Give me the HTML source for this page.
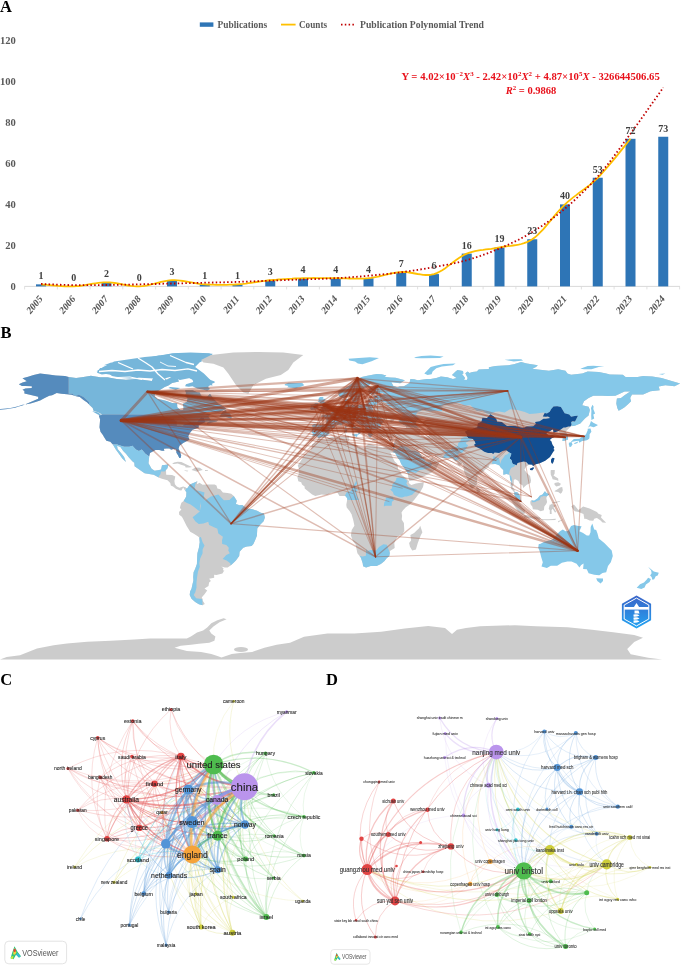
<!DOCTYPE html>
<html><head><meta charset="utf-8"><title>Figure</title>
<style>
html,body{margin:0;padding:0;background:#fff;}
body{width:685px;height:966px;overflow:hidden;}
svg{display:block;}
.ax{font-family:"Liberation Serif",serif;font-weight:bold;font-size:10px;fill:#595959;}
.dl{font-family:"Liberation Serif",serif;font-weight:bold;font-size:10px;fill:#404040;}
.lg{font-family:"Liberation Serif",serif;font-weight:bold;font-size:9.4px;fill:#595959;}
.eq{font-family:"Liberation Serif",serif;font-weight:bold;font-size:10px;fill:#e8101a;}
.pl{font-family:"Liberation Serif",serif;font-weight:bold;font-size:16.5px;fill:#000;}
.vl{font-family:"Liberation Sans",sans-serif;}
</style></head><body>
<svg width="685" height="966" viewBox="0 0 685 966">
<line x1="24.5" y1="286.4" x2="680" y2="286.4" stroke="#d9d9d9" stroke-width="1"/>
<line x1="24.6" y1="286.4" x2="24.6" y2="289.4" stroke="#d9d9d9" stroke-width="0.8"/>
<line x1="57.4" y1="286.4" x2="57.4" y2="289.4" stroke="#d9d9d9" stroke-width="0.8"/>
<line x1="90.1" y1="286.4" x2="90.1" y2="289.4" stroke="#d9d9d9" stroke-width="0.8"/>
<line x1="122.8" y1="286.4" x2="122.8" y2="289.4" stroke="#d9d9d9" stroke-width="0.8"/>
<line x1="155.6" y1="286.4" x2="155.6" y2="289.4" stroke="#d9d9d9" stroke-width="0.8"/>
<line x1="188.3" y1="286.4" x2="188.3" y2="289.4" stroke="#d9d9d9" stroke-width="0.8"/>
<line x1="221.1" y1="286.4" x2="221.1" y2="289.4" stroke="#d9d9d9" stroke-width="0.8"/>
<line x1="253.8" y1="286.4" x2="253.8" y2="289.4" stroke="#d9d9d9" stroke-width="0.8"/>
<line x1="286.6" y1="286.4" x2="286.6" y2="289.4" stroke="#d9d9d9" stroke-width="0.8"/>
<line x1="319.4" y1="286.4" x2="319.4" y2="289.4" stroke="#d9d9d9" stroke-width="0.8"/>
<line x1="352.1" y1="286.4" x2="352.1" y2="289.4" stroke="#d9d9d9" stroke-width="0.8"/>
<line x1="384.9" y1="286.4" x2="384.9" y2="289.4" stroke="#d9d9d9" stroke-width="0.8"/>
<line x1="417.6" y1="286.4" x2="417.6" y2="289.4" stroke="#d9d9d9" stroke-width="0.8"/>
<line x1="450.4" y1="286.4" x2="450.4" y2="289.4" stroke="#d9d9d9" stroke-width="0.8"/>
<line x1="483.1" y1="286.4" x2="483.1" y2="289.4" stroke="#d9d9d9" stroke-width="0.8"/>
<line x1="515.9" y1="286.4" x2="515.9" y2="289.4" stroke="#d9d9d9" stroke-width="0.8"/>
<line x1="548.6" y1="286.4" x2="548.6" y2="289.4" stroke="#d9d9d9" stroke-width="0.8"/>
<line x1="581.4" y1="286.4" x2="581.4" y2="289.4" stroke="#d9d9d9" stroke-width="0.8"/>
<line x1="614.1" y1="286.4" x2="614.1" y2="289.4" stroke="#d9d9d9" stroke-width="0.8"/>
<line x1="646.9" y1="286.4" x2="646.9" y2="289.4" stroke="#d9d9d9" stroke-width="0.8"/>
<line x1="679.6" y1="286.4" x2="679.6" y2="289.4" stroke="#d9d9d9" stroke-width="0.8"/>
<text x="15.8" y="290.0" text-anchor="end" class="ax" style="font-size:10.6px">0</text>
<text x="15.8" y="249.0" text-anchor="end" class="ax" style="font-size:10.6px">20</text>
<text x="15.8" y="208.0" text-anchor="end" class="ax" style="font-size:10.6px">40</text>
<text x="15.8" y="167.0" text-anchor="end" class="ax" style="font-size:10.6px">60</text>
<text x="15.8" y="126.0" text-anchor="end" class="ax" style="font-size:10.6px">80</text>
<text x="15.8" y="85.0" text-anchor="end" class="ax" style="font-size:10.6px">100</text>
<text x="15.8" y="44.0" text-anchor="end" class="ax" style="font-size:10.6px">120</text>
<rect x="36.00" y="284.35" width="10" height="2.05" fill="#2e75b6"/>
<rect x="101.50" y="282.30" width="10" height="4.10" fill="#2e75b6"/>
<rect x="167.00" y="280.25" width="10" height="6.15" fill="#2e75b6"/>
<rect x="199.75" y="284.35" width="10" height="2.05" fill="#2e75b6"/>
<rect x="232.50" y="284.35" width="10" height="2.05" fill="#2e75b6"/>
<rect x="265.25" y="280.25" width="10" height="6.15" fill="#2e75b6"/>
<rect x="298.00" y="278.20" width="10" height="8.20" fill="#2e75b6"/>
<rect x="330.75" y="278.20" width="10" height="8.20" fill="#2e75b6"/>
<rect x="363.50" y="278.20" width="10" height="8.20" fill="#2e75b6"/>
<rect x="396.25" y="272.05" width="10" height="14.35" fill="#2e75b6"/>
<rect x="429.00" y="274.10" width="10" height="12.30" fill="#2e75b6"/>
<rect x="461.75" y="253.60" width="10" height="32.80" fill="#2e75b6"/>
<rect x="494.50" y="247.45" width="10" height="38.95" fill="#2e75b6"/>
<rect x="527.25" y="239.25" width="10" height="47.15" fill="#2e75b6"/>
<rect x="560.00" y="204.40" width="10" height="82.00" fill="#2e75b6"/>
<rect x="592.75" y="177.75" width="10" height="108.65" fill="#2e75b6"/>
<rect x="625.50" y="138.80" width="10" height="147.60" fill="#2e75b6"/>
<rect x="658.25" y="136.75" width="10" height="149.65" fill="#2e75b6"/>
<path d="M41.0,284.3 L42.6,284.5 L44.6,284.6 L46.9,284.9 L49.5,285.1 L52.3,285.4 L55.3,285.6 L58.4,285.9 L61.6,286.1 L64.8,286.3 L67.9,286.4 L70.9,286.4 L73.8,286.4 L76.5,286.2 L79.2,286.0 L81.9,285.6 L84.7,285.2 L87.4,284.7 L90.1,284.2 L92.9,283.7 L95.6,283.3 L98.3,282.9 L101.0,282.6 L103.8,282.4 L106.5,282.3 L109.2,282.4 L112.0,282.6 L114.7,283.0 L117.4,283.4 L120.1,283.9 L122.9,284.5 L125.6,285.0 L128.3,285.5 L131.1,285.9 L133.8,286.2 L136.5,286.4 L139.2,286.4 L142.0,286.2 L144.7,285.8 L147.4,285.3 L150.2,284.7 L152.9,284.0 L155.6,283.3 L158.4,282.6 L161.1,281.9 L163.8,281.3 L166.5,280.8 L169.3,280.4 L172.0,280.2 L174.7,280.2 L177.5,280.4 L180.2,280.7 L182.9,281.0 L185.6,281.4 L188.4,281.9 L191.1,282.4 L193.8,282.9 L196.6,283.4 L199.3,283.8 L202.0,284.1 L204.8,284.3 L207.5,284.5 L210.2,284.6 L212.9,284.7 L215.7,284.8 L218.4,284.8 L221.1,284.9 L223.9,284.8 L226.6,284.8 L229.3,284.7 L232.0,284.6 L234.8,284.5 L237.5,284.3 L240.2,284.1 L243.0,283.9 L245.7,283.6 L248.4,283.2 L251.1,282.8 L253.9,282.4 L256.6,282.0 L259.3,281.6 L262.1,281.2 L264.8,280.9 L267.5,280.5 L270.2,280.2 L273.0,280.0 L275.7,279.8 L278.4,279.5 L281.2,279.3 L283.9,279.1 L286.6,279.0 L289.4,278.8 L292.1,278.7 L294.8,278.5 L297.5,278.4 L300.3,278.3 L303.0,278.2 L305.7,278.1 L308.5,278.1 L311.2,278.1 L313.9,278.0 L316.6,278.1 L319.4,278.1 L322.1,278.1 L324.8,278.1 L327.6,278.2 L330.3,278.2 L333.0,278.2 L335.8,278.2 L338.5,278.2 L341.2,278.3 L343.9,278.3 L346.7,278.4 L349.4,278.5 L352.1,278.6 L354.9,278.6 L357.6,278.7 L360.3,278.6 L363.0,278.6 L365.8,278.4 L368.5,278.2 L371.2,277.9 L374.0,277.4 L376.7,276.9 L379.4,276.3 L382.1,275.7 L384.9,275.0 L387.6,274.3 L390.3,273.7 L393.1,273.2 L395.8,272.7 L398.5,272.3 L401.2,272.0 L404.0,272.0 L406.7,272.2 L409.4,272.5 L412.2,273.0 L414.9,273.5 L417.6,274.0 L420.4,274.4 L423.1,274.8 L425.8,275.0 L428.5,275.0 L431.3,274.7 L434.0,274.1 L436.7,273.1 L439.5,271.8 L442.2,270.2 L444.9,268.4 L447.6,266.4 L450.4,264.4 L453.1,262.3 L455.8,260.2 L458.6,258.2 L461.3,256.4 L464.0,254.9 L466.8,253.6 L469.5,252.6 L472.2,251.8 L474.9,251.1 L477.7,250.6 L480.4,250.1 L483.1,249.8 L485.9,249.4 L488.6,249.1 L491.3,248.8 L494.0,248.4 L496.8,248.0 L499.5,247.4 L502.2,246.9 L505.0,246.5 L507.7,246.2 L510.4,245.9 L513.1,245.5 L515.9,245.1 L518.6,244.7 L521.3,244.0 L524.1,243.2 L526.8,242.2 L529.5,240.9 L532.2,239.2 L535.0,237.3 L537.7,234.9 L540.4,232.2 L543.2,229.3 L545.9,226.2 L548.6,223.0 L551.4,219.7 L554.1,216.4 L556.8,213.2 L559.5,210.0 L562.3,207.1 L565.0,204.4 L567.7,201.9 L570.5,199.6 L573.2,197.4 L575.9,195.4 L578.6,193.3 L581.4,191.3 L584.1,189.3 L586.8,187.2 L589.6,185.1 L592.3,182.8 L595.0,180.4 L597.8,177.8 L600.6,174.8 L603.6,171.5 L606.7,168.0 L609.9,164.2 L613.1,160.4 L616.2,156.6 L619.2,152.9 L622.0,149.4 L624.6,146.1 L626.9,143.2 L628.9,140.7 L630.5,138.8" fill="none" stroke="#ffc000" stroke-width="1.8"/>
<path d="M41.0,283.9 L42.6,284.0 L44.6,284.1 L46.9,284.2 L49.5,284.3 L52.3,284.4 L55.3,284.6 L58.4,284.7 L61.6,284.8 L64.8,284.9 L67.9,285.0 L70.9,285.1 L73.8,285.2 L76.5,285.2 L79.2,285.2 L81.9,285.2 L84.7,285.2 L87.4,285.2 L90.1,285.2 L92.9,285.2 L95.6,285.1 L98.3,285.1 L101.0,285.0 L103.8,285.0 L106.5,285.0 L109.2,284.9 L112.0,284.9 L114.7,284.8 L117.4,284.8 L120.1,284.7 L122.9,284.7 L125.6,284.6 L128.3,284.6 L131.1,284.5 L133.8,284.5 L136.5,284.4 L139.2,284.3 L142.0,284.3 L144.7,284.2 L147.4,284.2 L150.2,284.1 L152.9,284.0 L155.6,284.0 L158.4,283.9 L161.1,283.8 L163.8,283.7 L166.5,283.7 L169.3,283.6 L172.0,283.5 L174.7,283.5 L177.5,283.4 L180.2,283.3 L182.9,283.3 L185.6,283.2 L188.4,283.1 L191.1,283.1 L193.8,283.0 L196.6,282.9 L199.3,282.8 L202.0,282.8 L204.8,282.7 L207.5,282.6 L210.2,282.6 L212.9,282.5 L215.7,282.5 L218.4,282.4 L221.1,282.3 L223.9,282.3 L226.6,282.2 L229.3,282.1 L232.0,282.1 L234.8,282.0 L237.5,281.9 L240.2,281.8 L243.0,281.7 L245.7,281.6 L248.4,281.5 L251.1,281.4 L253.9,281.3 L256.6,281.2 L259.3,281.1 L262.1,281.0 L264.8,280.9 L267.5,280.8 L270.2,280.7 L273.0,280.6 L275.7,280.5 L278.4,280.4 L281.2,280.2 L283.9,280.1 L286.6,280.0 L289.4,279.9 L292.1,279.8 L294.8,279.7 L297.5,279.6 L300.3,279.5 L303.0,279.4 L305.7,279.3 L308.5,279.2 L311.2,279.2 L313.9,279.1 L316.6,279.0 L319.4,278.9 L322.1,278.8 L324.8,278.7 L327.6,278.6 L330.3,278.5 L333.0,278.3 L335.8,278.2 L338.5,278.0 L341.2,277.9 L343.9,277.7 L346.7,277.5 L349.4,277.3 L352.1,277.1 L354.9,276.9 L357.6,276.7 L360.3,276.5 L363.0,276.2 L365.8,276.0 L368.5,275.7 L371.2,275.5 L374.0,275.2 L376.7,275.0 L379.4,274.7 L382.1,274.4 L384.9,274.2 L387.6,273.9 L390.3,273.6 L393.1,273.3 L395.8,272.9 L398.5,272.6 L401.2,272.3 L404.0,271.9 L406.7,271.5 L409.4,271.1 L412.2,270.7 L414.9,270.3 L417.6,269.9 L420.4,269.5 L423.1,269.0 L425.8,268.6 L428.5,268.1 L431.3,267.6 L434.0,267.1 L436.7,266.6 L439.5,266.1 L442.2,265.6 L444.9,265.1 L447.6,264.6 L450.4,264.1 L453.1,263.5 L455.8,262.9 L458.6,262.3 L461.3,261.6 L464.0,260.9 L466.8,260.2 L469.5,259.4 L472.2,258.5 L474.9,257.7 L477.7,256.8 L480.4,255.9 L483.1,254.9 L485.9,253.9 L488.6,252.9 L491.3,251.8 L494.0,250.7 L496.8,249.6 L499.5,248.5 L502.2,247.3 L505.0,246.1 L507.7,244.9 L510.4,243.6 L513.1,242.3 L515.9,241.0 L518.6,239.7 L521.3,238.2 L524.1,236.8 L526.8,235.3 L529.5,233.7 L532.2,232.1 L535.0,230.4 L537.7,228.7 L540.4,226.9 L543.2,225.1 L545.9,223.2 L548.6,221.3 L551.4,219.3 L554.1,217.2 L556.8,215.2 L559.5,213.0 L562.3,210.8 L565.0,208.5 L567.7,206.2 L570.5,203.8 L573.2,201.4 L575.9,198.9 L578.6,196.3 L581.4,193.7 L584.1,191.0 L586.8,188.3 L589.6,185.5 L592.3,182.6 L595.0,179.6 L597.8,176.5 L600.5,173.3 L603.2,170.0 L605.9,166.6 L608.7,163.2 L611.4,159.6 L614.1,156.0 L616.9,152.3 L619.6,148.6 L622.3,144.9 L625.0,141.1 L627.8,137.4 L630.5,133.7 L633.3,129.8 L636.3,125.6 L639.5,121.3 L642.6,116.8 L645.8,112.4 L648.9,107.9 L651.9,103.7 L654.8,99.6 L657.4,95.9 L659.7,92.6 L661.7,89.8 L663.2,87.5" fill="none" stroke="#c00000" stroke-width="1.8" stroke-dasharray="1.5 2.3"/>
<text x="41.0" y="279.3" text-anchor="middle" class="dl">1</text>
<text x="73.8" y="281.4" text-anchor="middle" class="dl">0</text>
<text x="106.5" y="277.3" text-anchor="middle" class="dl">2</text>
<text x="139.2" y="281.4" text-anchor="middle" class="dl">0</text>
<text x="172.0" y="275.2" text-anchor="middle" class="dl">3</text>
<text x="204.8" y="279.3" text-anchor="middle" class="dl">1</text>
<text x="237.5" y="279.3" text-anchor="middle" class="dl">1</text>
<text x="270.2" y="275.2" text-anchor="middle" class="dl">3</text>
<text x="303.0" y="273.2" text-anchor="middle" class="dl">4</text>
<text x="335.8" y="273.2" text-anchor="middle" class="dl">4</text>
<text x="368.5" y="273.2" text-anchor="middle" class="dl">4</text>
<text x="401.2" y="267.0" text-anchor="middle" class="dl">7</text>
<text x="434.0" y="269.1" text-anchor="middle" class="dl">6</text>
<text x="466.8" y="248.6" text-anchor="middle" class="dl">16</text>
<text x="499.5" y="242.4" text-anchor="middle" class="dl">19</text>
<text x="532.2" y="234.2" text-anchor="middle" class="dl">23</text>
<text x="565.0" y="199.4" text-anchor="middle" class="dl">40</text>
<text x="597.8" y="172.8" text-anchor="middle" class="dl">53</text>
<text x="630.5" y="133.8" text-anchor="middle" class="dl">72</text>
<text x="663.2" y="131.8" text-anchor="middle" class="dl">73</text>
<text transform="translate(42.9,299.5) scale(1,1.2) rotate(-45)" text-anchor="end" class="ax" style="font-size:9px">2005</text>
<text transform="translate(75.7,299.5) scale(1,1.2) rotate(-45)" text-anchor="end" class="ax" style="font-size:9px">2006</text>
<text transform="translate(108.4,299.5) scale(1,1.2) rotate(-45)" text-anchor="end" class="ax" style="font-size:9px">2007</text>
<text transform="translate(141.2,299.5) scale(1,1.2) rotate(-45)" text-anchor="end" class="ax" style="font-size:9px">2008</text>
<text transform="translate(173.9,299.5) scale(1,1.2) rotate(-45)" text-anchor="end" class="ax" style="font-size:9px">2009</text>
<text transform="translate(206.7,299.5) scale(1,1.2) rotate(-45)" text-anchor="end" class="ax" style="font-size:9px">2010</text>
<text transform="translate(239.4,299.5) scale(1,1.2) rotate(-45)" text-anchor="end" class="ax" style="font-size:9px">2011</text>
<text transform="translate(272.1,299.5) scale(1,1.2) rotate(-45)" text-anchor="end" class="ax" style="font-size:9px">2012</text>
<text transform="translate(304.9,299.5) scale(1,1.2) rotate(-45)" text-anchor="end" class="ax" style="font-size:9px">2013</text>
<text transform="translate(337.6,299.5) scale(1,1.2) rotate(-45)" text-anchor="end" class="ax" style="font-size:9px">2014</text>
<text transform="translate(370.4,299.5) scale(1,1.2) rotate(-45)" text-anchor="end" class="ax" style="font-size:9px">2015</text>
<text transform="translate(403.1,299.5) scale(1,1.2) rotate(-45)" text-anchor="end" class="ax" style="font-size:9px">2016</text>
<text transform="translate(435.9,299.5) scale(1,1.2) rotate(-45)" text-anchor="end" class="ax" style="font-size:9px">2017</text>
<text transform="translate(468.6,299.5) scale(1,1.2) rotate(-45)" text-anchor="end" class="ax" style="font-size:9px">2018</text>
<text transform="translate(501.4,299.5) scale(1,1.2) rotate(-45)" text-anchor="end" class="ax" style="font-size:9px">2019</text>
<text transform="translate(534.1,299.5) scale(1,1.2) rotate(-45)" text-anchor="end" class="ax" style="font-size:9px">2020</text>
<text transform="translate(566.9,299.5) scale(1,1.2) rotate(-45)" text-anchor="end" class="ax" style="font-size:9px">2021</text>
<text transform="translate(599.6,299.5) scale(1,1.2) rotate(-45)" text-anchor="end" class="ax" style="font-size:9px">2022</text>
<text transform="translate(632.4,299.5) scale(1,1.2) rotate(-45)" text-anchor="end" class="ax" style="font-size:9px">2023</text>
<text transform="translate(665.1,299.5) scale(1,1.2) rotate(-45)" text-anchor="end" class="ax" style="font-size:9px">2024</text>
<rect x="199.8" y="22.4" width="13.6" height="4.4" fill="#2e75b6"/>
<text x="217.6" y="28" class="lg" textLength="49.5" lengthAdjust="spacingAndGlyphs">Publications</text>
<line x1="281" y1="24.6" x2="295.6" y2="24.6" stroke="#ffc000" stroke-width="1.8"/>
<text x="299" y="28" class="lg" textLength="28" lengthAdjust="spacingAndGlyphs">Counts</text>
<line x1="341" y1="24.6" x2="355" y2="24.6" stroke="#c00000" stroke-width="1.8" stroke-dasharray="1.5 2.3"/>
<text x="360" y="28" class="lg" textLength="124" lengthAdjust="spacingAndGlyphs">Publication  Polynomial Trend</text>
<text x="401.4" y="79.6" class="eq" textLength="258.4" lengthAdjust="spacingAndGlyphs">Y = 4.02×10<tspan dy="-3.5" font-size="6.5">−2</tspan><tspan dy="3.5" font-style="italic">X</tspan><tspan dy="-3.5" font-size="6.5">3</tspan><tspan dy="3.5"> - 2.42×10</tspan><tspan dy="-3.5" font-size="6.5">2</tspan><tspan dy="3.5" font-style="italic">X</tspan><tspan dy="-3.5" font-size="6.5">2</tspan><tspan dy="3.5"> + 4.87×10</tspan><tspan dy="-3.5" font-size="6.5">5</tspan><tspan dy="3.5" font-style="italic">X</tspan><tspan> - 326644506.65</tspan></text>
<text x="505.7" y="93.5" class="eq" textLength="50.7" lengthAdjust="spacingAndGlyphs"><tspan font-style="italic">R</tspan><tspan dy="-3.5" font-size="6.5">2</tspan><tspan dy="3.5"> = 0.9868</tspan></text>
<text x="0" y="11.8" class="pl">A</text>
<text x="0.5" y="338" class="pl">B</text>
<defs>
<clipPath id="cUSA"><polygon points="89.0,414.5 153.3,414.5 163.8,416.3 173.1,419.0 176.8,421.2 176.9,425.6 183.2,425.8 183.2,424.5 187.8,423.2 190.6,421.8 197.1,421.8 199.8,418.7 201.3,417.2 203.9,418.1 205.4,422.1 218.3,430.9 190.6,463.7 162.9,458.3 149.2,456.6 145.4,453.7 141.8,449.5 138.9,451.0 135.9,449.5 132.4,445.8 129.3,446.8 124.1,446.8 117.1,444.6 112.8,444.6 89.0,445.5"/></clipPath>
<clipPath id="cAK"><polygon points="-12.6,367.0 68.7,367.0 68.7,393.8 72.4,393.8 75.2,396.0 78.9,394.7 83.5,397.1 89.0,402.0 89.0,404.1 79.8,407.2 -12.6,412.6"/></clipPath>
<clipPath id="cMEX"><polygon points="112.8,444.6 117.1,444.6 124.1,446.8 129.3,446.8 132.4,445.8 135.9,449.5 138.9,451.0 141.8,449.5 145.4,453.7 149.2,456.6 162.9,458.3 170.3,464.6 167.5,469.2 166.0,470.1 164.6,471.4 161.1,471.4 160.3,474.7 158.8,476.1 158.8,477.4 153.7,485.6 107.5,467.4 107.5,444.6"/></clipPath>
<clipPath id="cCAN"><polygon points="68.7,348.8 236.8,348.8 236.8,430.9 205.4,422.1 203.9,418.1 201.3,417.2 199.8,418.7 197.1,421.8 190.6,421.8 187.8,423.2 183.2,424.5 183.2,425.8 176.9,425.6 176.8,421.2 173.1,419.0 163.8,416.3 153.3,414.5 89.0,414.5 89.0,404.1 89.0,402.0 83.5,397.1 78.9,394.7 75.2,396.0 72.4,393.8 68.7,393.8"/></clipPath>
<clipPath id="cEUR"><polygon points="307.0,440.0 307.0,346.9 689.3,346.9 689.3,412.6 596.9,427.2 572.0,426.7 571.5,425.0 571.1,421.9 575.0,421.6 577.9,415.7 574.8,416.1 571.1,416.8 569.2,414.6 564.6,413.2 563.7,411.7 560.9,407.0 557.2,406.2 553.5,406.6 551.1,409.2 549.8,411.7 546.9,413.5 543.4,412.6 536.0,413.5 529.5,413.9 524.9,412.1 517.5,409.9 510.1,409.3 504.6,412.6 499.1,411.4 495.4,411.7 490.4,414.3 487.0,413.5 482.4,410.8 476.9,410.8 473.2,408.1 470.4,405.3 464.9,405.5 459.3,403.1 455.6,403.1 449.2,404.1 443.6,405.3 440.9,406.2 442.7,408.1 441.8,411.2 436.3,410.8 430.7,411.5 423.3,409.7 417.8,411.7 415.9,414.5 419.6,419.0 416.9,420.8 415.9,422.7 416.9,425.4 418.7,427.6 415.0,427.4 408.6,426.3 403.0,424.7 400.2,423.0 398.2,421.8 400.2,419.9 399.7,417.9 402.5,416.6 403.0,413.4 398.4,412.1 394.7,408.4 388.2,405.7 386.0,402.4 380.8,401.3 378.3,402.2 376.2,404.8 372.5,405.5 372.7,408.1 372.5,409.9 373.5,411.4 370.9,414.3 371.4,416.3 375.1,416.8 378.3,415.9 381.2,418.8 381.8,420.8 384.0,421.4 382.0,423.6 380.8,427.2 378.1,428.5 377.2,429.8 376.2,432.7 380.8,440.0"/></clipPath>
<polygon id="nam" points="18.8,384.2 22.5,382.5 26.8,381.2 22.5,378.3 28.1,376.7 33.6,375.0 40.1,373.6 48.4,374.5 55.8,375.6 65.0,375.9 68.7,376.9 76.1,378.0 83.5,376.9 90.9,375.8 100.1,377.2 107.5,377.2 116.7,378.9 126.0,379.8 135.2,378.9 144.4,380.1 151.8,381.1 152.7,378.9 155.5,373.4 159.2,377.0 164.7,378.0 166.6,379.8 172.1,376.7 177.7,378.9 179.0,381.6 172.1,382.9 168.4,385.6 164.7,387.1 161.1,389.3 155.5,392.6 154.6,396.2 157.4,398.9 162.9,399.9 166.6,400.9 172.1,403.0 177.1,403.3 177.3,407.2 180.4,409.9 183.2,409.9 183.6,407.2 182.7,404.1 186.9,401.7 187.6,398.0 185.1,396.2 186.0,393.1 185.1,390.2 192.5,390.2 197.1,392.2 199.8,392.6 200.8,395.3 203.5,397.5 207.2,396.8 210.0,393.8 212.8,398.0 215.5,400.8 218.3,403.5 223.3,406.2 226.3,408.8 223.7,410.1 220.2,412.1 215.5,412.4 210.0,412.1 206.3,412.6 202.6,414.5 209.1,414.1 210.6,414.8 208.2,416.3 209.4,418.1 210.9,419.9 216.5,420.5 218.3,419.9 216.5,421.6 211.8,422.5 207.8,424.5 206.9,422.7 210.0,421.2 205.4,421.8 205.4,422.1 198.5,425.4 198.9,427.6 192.5,429.8 189.7,433.3 188.2,436.4 189.5,439.6 186.9,440.9 183.2,442.9 179.5,445.8 178.6,448.6 180.3,452.4 181.2,455.5 180.6,457.9 179.3,458.1 178.0,455.3 176.4,452.8 176.2,449.5 173.4,449.1 171.2,449.7 169.4,448.4 166.6,448.4 163.8,448.8 164.4,450.8 162.0,450.8 159.2,449.9 155.5,449.9 153.7,451.0 150.0,453.1 149.2,456.6 148.5,463.2 151.6,468.8 154.6,470.7 159.2,469.9 161.1,469.6 162.0,465.2 168.4,464.6 167.5,468.3 166.0,470.1 166.2,474.7 172.1,474.9 175.3,476.5 174.4,481.1 174.9,484.2 176.8,486.5 179.5,487.8 183.2,486.4 186.0,487.5 186.4,488.9 184.7,490.2 183.2,487.6 181.4,490.6 179.5,490.2 175.8,488.7 173.1,486.5 170.8,485.6 170.3,482.9 167.5,480.2 164.7,479.4 161.1,478.5 158.8,477.4 153.7,474.7 144.6,473.2 134.6,466.3 134.3,462.8 132.6,461.5 128.7,457.3 126.0,453.7 123.2,451.0 120.4,446.9 117.1,445.8 117.6,449.1 120.8,452.8 124.1,457.0 126.0,461.9 122.3,458.6 118.2,452.8 115.8,449.5 112.8,444.6 110.3,441.8 106.4,440.7 104.0,437.1 102.9,434.9 100.5,431.8 99.5,427.2 100.1,419.6 98.8,415.6 101.9,414.8 101.4,414.1 98.3,412.3 93.6,410.8 92.7,408.1 89.0,404.4 87.2,402.6 83.5,399.9 79.8,397.1 76.1,396.2 71.5,394.7 66.9,394.2 61.3,393.8 56.7,392.9 52.1,395.3 49.3,395.8 44.7,398.0 40.1,400.6 35.5,401.9 30.5,403.5 24.9,404.6 33.6,400.8 38.2,398.8 38.2,396.8 29.9,394.7 24.4,393.5 24.4,391.1 22.5,389.8 25.3,388.5 31.8,388.0 31.8,386.2 25.3,386.0 22.0,386.0"/>
<polygon id="eura" points="318.8,438.2 317.1,436.5 315.3,436.0 312.5,436.4 312.9,433.3 311.6,432.7 312.9,427.2 312.0,425.4 314.4,424.1 320.8,424.7 325.8,424.7 326.9,419.9 324.5,417.6 320.4,416.3 323.6,414.8 326.4,415.0 326.7,413.2 329.5,413.2 331.9,412.3 333.7,410.6 335.8,410.1 337.8,407.2 342.1,406.2 344.8,405.5 345.0,402.6 344.1,400.2 348.5,398.6 348.2,401.3 349.3,402.2 347.4,403.9 349.4,405.3 353.1,404.6 355.5,405.5 358.7,404.8 363.3,403.9 365.5,404.6 368.3,403.1 367.9,400.2 368.8,398.9 370.9,398.6 373.1,399.9 374.2,397.5 372.5,395.8 377.2,395.1 380.8,395.3 384.5,394.4 382.7,393.3 378.1,393.6 371.6,394.6 368.7,393.3 368.5,389.6 375.3,385.3 375.9,384.0 370.7,383.6 368.5,386.4 364.2,388.0 361.5,390.2 360.9,392.9 363.7,394.6 359.6,397.1 359.6,399.9 356.3,401.7 353.0,402.8 352.2,400.8 350.9,398.0 349.6,396.2 348.7,394.6 346.7,396.2 343.9,398.0 341.7,397.8 339.5,396.4 338.4,394.4 338.4,391.6 338.7,390.7 341.7,389.3 345.8,388.0 348.5,386.2 352.2,383.4 355.0,380.7 357.8,378.9 361.8,377.0 366.1,376.1 372.5,374.7 376.8,374.1 381.6,374.3 386.4,375.6 384.5,376.7 390.1,377.4 395.6,377.8 404.9,380.3 400.2,383.2 391.4,382.3 393.4,386.0 397.5,387.3 399.3,386.4 403.9,386.2 409.5,383.1 410.4,378.9 414.1,379.2 417.8,380.3 427.0,378.9 430.7,378.9 436.3,378.1 440.9,376.5 447.3,377.2 452.9,378.9 456.6,378.1 452.0,374.9 455.6,371.6 457.5,369.9 463.0,371.0 463.4,373.4 462.1,374.3 463.6,376.1 465.1,378.0 464.0,379.8 466.7,380.1 467.7,378.0 465.3,373.2 467.7,371.6 469.5,373.0 472.3,372.1 476.9,371.6 478.7,369.6 488.9,369.0 488.9,367.2 495.4,365.9 508.3,365.2 513.8,364.3 521.2,362.1 526.8,363.4 537.8,365.2 536.0,367.0 532.3,368.8 537.8,369.6 548.9,370.7 558.2,369.2 565.5,370.7 567.4,373.4 571.1,374.7 582.2,373.4 587.7,371.6 598.8,371.9 606.2,373.4 609.9,374.5 622.8,374.7 625.6,377.0 637.6,377.0 643.1,376.1 652.4,376.5 661.6,378.1 670.8,380.7 680.1,383.4 674.5,386.2 665.3,385.3 658.8,386.5 659.7,390.2 650.5,391.3 643.1,394.4 632.0,394.6 630.2,398.0 631.1,401.3 628.3,403.9 624.6,407.2 621.9,409.0 618.6,410.8 617.3,408.1 616.3,403.5 616.9,398.6 621.0,398.0 624.6,395.3 630.2,391.6 624.6,391.5 615.4,395.7 608.0,396.0 602.5,395.7 593.3,395.7 588.6,398.0 584.0,401.3 582.2,405.3 588.6,406.8 589.9,409.9 588.6,415.4 584.9,418.5 580.3,423.6 574.8,425.8 571.1,426.3 568.3,429.1 565.5,431.8 567.9,435.4 568.1,439.5 564.6,440.7 562.4,440.9 562.8,438.2 562.0,436.4 560.0,434.9 558.9,431.2 553.5,432.7 553.0,429.2 549.8,431.2 547.1,432.3 546.5,433.6 548.6,435.6 549.3,436.0 551.9,434.9 555.4,436.4 551.7,438.2 549.8,440.0 551.3,441.3 552.6,445.1 554.3,447.3 553.5,449.1 554.5,450.0 552.6,452.8 550.0,457.0 545.2,460.8 539.7,463.2 535.1,464.6 533.0,466.3 532.3,464.8 529.5,464.5 526.2,466.5 524.4,469.8 526.8,472.9 530.1,476.0 531.0,480.5 530.5,482.9 526.8,484.7 523.1,488.0 522.7,485.6 519.4,483.4 518.4,481.1 515.5,479.2 513.8,479.8 513.8,483.8 512.4,487.1 514.4,489.3 514.8,491.7 516.2,492.0 518.4,492.9 520.1,496.2 520.3,499.3 521.8,501.3 520.3,501.5 516.2,498.6 514.4,495.1 514.2,492.2 511.1,488.7 510.7,485.6 511.2,482.0 510.1,479.2 509.6,474.7 506.4,474.1 503.3,474.7 503.3,470.1 500.9,467.7 499.1,465.2 498.7,462.8 496.3,463.7 493.3,464.3 489.8,464.6 488.9,466.8 486.1,468.7 481.1,473.8 477.4,475.4 477.1,480.2 476.7,485.1 473.6,487.6 472.3,489.1 470.4,487.5 468.8,482.9 466.7,477.2 464.5,472.9 463.6,468.7 463.4,465.6 462.7,463.2 459.3,465.9 456.6,463.2 458.8,462.5 455.6,461.0 453.4,458.8 452.1,457.5 448.3,457.7 442.7,457.9 437.7,457.2 435.0,456.8 434.4,454.2 433.1,454.4 429.8,455.5 424.3,453.0 421.8,448.9 418.9,449.3 417.8,450.0 418.5,451.9 420.6,454.6 421.8,456.4 422.6,458.3 423.7,456.2 424.4,457.7 424.4,459.5 426.1,459.7 429.8,459.5 433.1,456.8 433.3,458.4 435.9,460.6 439.6,462.8 437.2,466.5 435.9,469.2 433.1,471.2 430.7,472.9 425.5,475.4 419.6,478.3 412.2,480.5 409.5,480.9 408.2,476.9 408.0,473.8 405.2,469.2 401.2,464.1 399.7,460.3 397.8,457.9 395.1,453.1 393.0,452.6 393.6,450.0 393.6,450.0 392.5,446.8 393.6,444.6 394.7,442.0 395.4,439.1 396.0,437.1 393.8,437.1 391.9,437.8 389.2,438.0 385.5,437.3 382.7,436.9 380.8,436.7 379.6,435.4 378.1,433.6 377.5,431.8 378.4,430.1 382.7,429.2 382.7,428.7 387.3,428.7 391.0,427.2 393.8,427.2 396.5,428.5 400.2,429.2 405.8,428.1 406.1,426.3 403.0,424.7 400.2,423.0 398.4,421.4 399.3,418.1 394.7,419.0 393.8,420.8 391.2,422.7 389.2,421.0 391.0,419.9 387.3,418.8 384.9,420.3 384.0,421.4 382.0,423.6 380.8,425.4 380.7,427.2 382.3,428.9 377.2,429.4 373.5,429.4 373.1,430.5 371.6,430.3 370.9,430.9 371.4,432.2 372.2,434.2 373.5,434.5 371.6,436.0 370.9,437.3 369.2,436.7 368.1,434.9 368.5,433.6 366.4,431.6 365.0,430.1 365.1,427.6 363.3,426.3 360.5,425.0 357.2,423.0 355.4,421.4 354.2,420.7 352.0,421.0 351.8,422.1 354.1,424.3 355.9,426.9 359.1,427.6 362.4,429.8 363.3,430.5 360.9,430.0 359.6,431.6 360.7,432.7 358.9,434.5 358.1,434.5 358.5,431.8 356.5,430.1 355.0,429.4 351.8,427.8 349.4,426.5 348.5,425.4 348.0,423.8 345.4,422.9 343.0,423.9 341.1,425.2 338.4,424.7 336.5,424.5 335.0,425.4 334.9,427.4 332.8,428.5 330.6,429.1 329.1,431.1 328.6,432.0 329.5,433.3 327.8,435.3 325.8,436.4 324.9,436.7 320.8,436.9"/>
</defs>
<use href="#nam" fill="#cccccc"/>
<g clip-path="url(#cCAN)"><use href="#nam" fill="#76b6da"/></g>
<g clip-path="url(#cUSA)"><use href="#nam" fill="#558bbd"/></g>
<g clip-path="url(#cAK)"><use href="#nam" fill="#558bbd"/></g>
<g clip-path="url(#cMEX)"><use href="#nam" fill="#85c8e9"/></g>
<polygon points="24.9,404.6 22.5,405.5 18.8,406.6 15.1,407.7 10.5,408.6 5.9,409.2 0.4,409.7 -5.2,409.7 -5.2,409.0 0.4,409.0 5.9,408.4 10.5,407.9 15.1,407.0 18.8,405.9 22.5,404.8" fill="#558bbd" />
<polygon points="101.4,415.6 98.3,414.8 92.2,411.2 94.6,411.4 98.3,412.6 100.1,413.9" fill="#76b6da" />
<polygon points="219.4,417.0 225.7,417.0 231.2,418.7 231.8,417.2 230.1,413.5 226.6,412.8 226.1,409.7 222.9,411.4 220.9,414.3" fill="#76b6da" />
<polygon points="181.4,369.4 194.3,373.4 203.5,375.8 205.4,378.0 214.6,381.6 214.8,382.5 210.9,384.3 208.0,387.1 210.0,388.9 207.2,390.7 203.5,389.8 197.1,388.4 192.5,386.2 188.8,386.7 185.1,386.2 186.0,384.3 193.2,382.0 192.5,379.8 185.1,376.1 181.4,376.1 176.8,376.1 172.1,375.2 166.6,375.2 163.8,373.4 170.7,369.9 177.7,369.4" fill="#76b6da" />
<polygon points="109.3,373.4 113.0,370.7 124.1,371.2 135.2,370.7 140.7,371.6 142.6,375.2 137.0,378.0 129.7,378.5 121.3,378.1 113.0,376.5 111.2,375.6" fill="#76b6da" />
<polygon points="97.0,372.8 100.1,367.9 114.9,369.7 109.3,373.4 101.9,374.5" fill="#76b6da" />
<polygon points="162.9,364.3 177.7,364.6 185.1,363.4 190.6,360.6 194.3,359.7 212.8,354.8 209.1,353.3 190.6,352.4 172.1,353.3 159.2,356.1 162.9,357.9 166.6,360.6 157.4,363.4" fill="#76b6da" />
<polygon points="159.2,367.9 181.4,367.9 180.4,364.8 164.7,364.3 151.8,365.2" fill="#76b6da" />
<polygon points="153.7,361.5 166.6,357.9 159.2,355.5 151.8,357.0" fill="#76b6da" />
<polygon points="162.0,372.5 153.7,371.6 153.7,368.8 162.9,368.8" fill="#76b6da" />
<polygon points="148.1,372.8 140.7,371.6 144.4,369.2 150.9,369.7" fill="#76b6da" />
<polygon points="113.0,366.1 116.7,363.7 133.3,365.2 135.2,367.0 126.0,367.4" fill="#76b6da" />
<polygon points="144.4,366.1 150.0,364.4 140.7,365.0" fill="#76b6da" />
<polygon points="170.3,387.1 180.4,388.0 175.8,389.8 168.4,388.0" fill="#76b6da" />
<polygon points="135.2,362.4 144.4,360.6 148.1,361.5 138.9,363.4" fill="#76b6da" />
<polygon points="103.8,365.2 111.2,362.4 114.9,364.6" fill="#76b6da" />
<polygon points="96.6,371.3 103.1,366.9 114.1,361.4 129.4,359.2 144.7,357.0 155.7,356.0 162.3,354.9 177.6,353.3 195.1,353.3 212.6,353.8 208.2,358.1 199.5,362.5 195.1,366.9 203.9,373.5 210.4,380.0 212.6,385.5 200.0,384.0 190.0,378.0 180.0,380.0 170.0,377.0 162.3,379.0 144.7,378.0 122.8,376.8 103.1,373.5" fill="#76b6da" />
<g fill="none" stroke="#fff" stroke-width="1.3" stroke-linejoin="round"><polyline points="99,371.5 112,370.5 125,371.5 138,370 150,371 162,369.5 175,370.5 188,368.8 197,371"/><polyline points="138,358 146,363 152,367 158,374 165,380"/><polyline points="118,362.5 126,366 133,369"/><polyline points="170,355.5 178,359 186,362.5 194,364.5"/><polyline points="104,376 118,377.5 130,377 142,379.5" stroke-width="1"/><polyline points="160,362 168,366 176,366.5" stroke-width="0.9"/></g>
<polygon points="172.1,463.9 174.0,462.5 177.7,461.7 181.4,461.9 186.0,464.3 189.7,466.1 192.1,467.0 189.3,467.6 185.6,467.6 185.1,466.1 180.4,464.5 177.7,463.5 174.0,464.1" fill="#cccccc" />
<polygon points="191.5,470.1 195.2,467.6 199.8,467.7 202.8,469.9 199.8,470.7 197.1,471.8 194.3,470.7" fill="#cccccc" />
<polygon points="184.3,470.3 188.4,470.7 187.3,471.4 184.7,470.8" fill="#cccccc" />
<polygon points="205.0,470.1 208.0,470.3 207.8,471.0 205.0,471.0" fill="#cccccc" />
<polygon points="201.0,360.0 211.0,355.0 233.4,352.5 258.4,352.0 283.3,352.5 303.3,355.0 293.3,362.5 288.3,370.0 280.8,375.0 265.9,378.7 253.4,385.0 248.4,393.7 243.4,392.4 235.9,385.0 230.9,377.5 228.4,373.7 223.4,367.5 213.4,363.7 203.5,362.5" fill="#cccccc" />
<polygon points="284.8,384.3 288.5,382.7 295.9,383.1 302.3,383.1 304.2,385.3 301.4,386.5 295.9,388.2 291.3,387.8 287.2,387.3 288.5,386.0 284.8,385.3" fill="#85c8e9" />
<polygon points="186.0,488.4 187.3,488.2 189.7,484.7 192.1,483.4 195.2,482.3 197.4,481.2 196.9,484.2 199.5,482.7 202.6,484.7 207.2,484.5 210.9,484.5 214.6,484.4 216.5,485.6 217.4,488.4 220.2,489.3 222.9,492.4 227.5,492.9 231.2,493.8 233.8,495.9 236.8,500.8 235.9,503.9 239.6,505.3 242.3,505.0 246.9,508.4 252.5,509.2 257.1,510.8 260.8,512.8 263.9,513.6 264.9,517.6 263.6,521.2 259.9,524.9 257.3,528.5 256.9,535.8 255.2,540.0 253.4,544.0 251.6,545.9 246.9,546.4 243.2,547.7 239.6,551.7 239.2,555.9 235.9,560.5 233.1,563.2 230.5,565.4 227.7,567.6 224.8,567.4 221.3,566.5 223.5,568.3 222.9,570.5 224.4,570.3 222.4,573.6 216.5,575.1 214.1,574.7 214.2,577.8 209.1,578.7 210.9,581.1 209.1,582.4 208.5,586.0 204.5,588.4 207.2,590.6 204.5,594.2 201.7,597.5 202.8,599.3 202.6,600.6 204.8,604.1 202.4,605.2 198.9,604.3 195.2,602.1 191.5,598.8 189.7,595.1 190.1,591.5 191.5,588.7 192.5,584.2 193.4,580.5 193.2,576.9 193.6,572.3 195.2,568.7 196.9,564.1 197.1,558.6 197.4,553.2 198.9,547.7 199.7,542.2 199.3,537.5 197.4,536.0 193.4,533.6 190.2,531.8 188.2,528.5 186.5,525.8 183.4,519.4 181.9,516.7 179.2,514.8 179.0,511.9 181.4,509.5 179.9,507.9 180.4,505.7 181.4,502.8 183.6,501.0 185.4,498.0 186.2,496.6 186.4,492.0 185.2,490.7" fill="#cccccc" />
<polygon points="192.6,517.2 199.8,511.5 200.8,505.7 200.0,500.8 205.4,500.2 210.9,496.6 218.3,494.4 223.9,500.2 229.4,499.9 233.8,495.9 236.8,500.8 235.9,503.9 239.6,505.3 242.3,505.0 246.9,508.4 252.5,509.2 257.1,510.8 260.8,512.8 263.9,513.6 264.9,517.6 263.6,521.2 259.9,524.9 257.3,528.5 256.9,535.8 255.2,540.0 253.4,544.0 251.6,545.9 246.9,546.4 243.2,547.7 239.6,551.7 239.2,555.9 235.9,560.5 233.1,563.2 230.5,565.4 230.3,563.2 226.6,560.5 222.7,559.0 226.3,555.0 229.8,553.2 228.3,550.6 228.8,547.7 226.3,544.9 222.2,544.0 222.0,540.4 222.9,536.7 218.3,533.6 217.4,528.7 214.6,527.6 209.1,524.9 208.3,521.8 203.5,523.4 198.7,524.0 195.2,521.2" fill="#85c8e9" />
<polygon points="186.0,488.4 187.3,488.2 189.7,484.7 192.1,483.4 195.2,482.3 197.4,481.2 195.6,483.6 194.7,487.5 195.6,490.2 199.8,491.1 204.5,492.6 203.9,495.7 204.8,500.2 200.8,502.1 200.0,505.7 199.8,511.5 193.4,506.6 190.1,504.2 186.9,503.0 183.6,501.0 185.4,498.0 186.2,496.6 186.4,492.0 185.2,490.7" fill="#85c8e9" />
<polygon points="199.3,537.5 200.9,537.1 202.6,542.2 204.5,545.5 202.6,549.5 202.6,553.2 200.2,558.6 199.3,563.2 199.8,566.8 198.0,571.4 197.1,576.9 196.5,582.4 196.5,587.8 195.2,592.4 193.7,595.1 196.1,598.2 201.7,599.1 202.4,600.6 202.4,605.2 198.9,604.3 195.2,602.1 191.5,598.8 189.7,595.1 190.1,591.5 191.5,588.7 192.5,584.2 193.4,580.5 193.2,576.9 193.6,572.3 195.2,568.7 196.9,564.1 197.1,558.6 197.4,553.2 198.9,547.7 199.7,542.2" fill="#85c8e9" />
<use href="#eura" fill="#cccccc"/>
<g clip-path="url(#cEUR)"><use href="#eura" fill="#85c8e9"/></g>
<polygon points="380.8,428.0 382.7,428.7 387.3,428.7 391.0,427.2 393.8,427.2 396.5,428.5 400.2,429.2 405.8,428.1 406.1,426.3 403.0,424.7 400.2,423.0 398.4,421.4 396.7,421.2 393.8,421.2 391.2,422.7 389.2,421.0 391.0,419.9 387.3,418.8 384.9,420.3 384.0,421.4 382.0,423.6 380.8,425.4" fill="#fff" />
<polygon points="415.9,422.7 416.9,425.4 418.7,427.6 420.6,430.3 420.0,432.7 419.4,433.8 419.6,435.4 422.4,436.4 427.0,436.5 428.9,435.8 428.5,431.8 427.0,430.9 426.7,428.1 428.9,428.1 426.1,426.3 423.9,425.0 422.4,422.7 424.3,420.8 427.0,419.0 423.3,418.1 419.6,419.0 416.9,420.8" fill="#fff" />
<polygon points="318.6,412.4 322.7,412.1 327.3,411.4 331.7,410.4 332.3,407.7 329.7,406.6 328.8,405.3 326.4,403.5 325.4,401.9 323.6,401.7 325.8,398.9 322.7,398.6 323.6,396.9 319.9,396.9 318.4,398.9 318.8,401.1 317.7,401.5 319.9,402.6 320.6,403.5 319.9,404.1 322.9,403.7 323.2,405.0 323.6,406.4 320.6,406.6 321.4,408.4 319.7,409.3 323.0,410.1 321.4,410.6" fill="#85c8e9" />
<polygon points="318.0,408.6 317.7,406.2 318.6,404.2 317.7,403.1 315.3,403.1 313.4,404.6 310.7,405.0 310.8,406.4 310.1,408.8 311.4,409.9 314.4,409.5" fill="#85c8e9" />
<polygon points="352.2,434.3 357.9,434.0 357.0,436.9 352.0,435.1" fill="#85c8e9" />
<polygon points="344.6,429.1 347.2,429.1 346.9,432.5 344.6,432.7" fill="#85c8e9" />
<polygon points="346.3,425.4 346.7,427.2 345.0,428.3 345.0,426.5" fill="#85c8e9" />
<polygon points="372.5,438.9 377.7,439.5 373.5,440.0 372.5,439.5" fill="#85c8e9" />
<polygon points="388.8,440.0 393.0,438.7 391.7,440.2 389.7,440.7" fill="#85c8e9" />
<polygon points="348.5,358.8 358.7,357.9 369.8,357.3 379.0,357.9 371.6,361.2 362.4,364.3 357.8,363.4 355.0,361.5 349.4,360.6" fill="#85c8e9" />
<polygon points="424.3,373.4 427.0,370.7 430.7,367.0 436.3,365.4 443.6,363.9 455.6,363.4 452.9,365.2 441.8,366.5 436.3,368.3 432.6,371.4 431.6,374.3 427.6,374.9" fill="#85c8e9" />
<polygon points="504.6,359.7 513.8,359.3 521.2,359.2 523.1,360.6 513.8,361.5 508.3,360.6" fill="#85c8e9" />
<polygon points="415.9,357.0 421.5,356.1 430.7,355.5 443.6,356.4 439.9,357.9 421.5,358.2 414.1,357.9" fill="#85c8e9" />
<polygon points="580.3,368.8 587.7,366.1 593.3,365.7 604.3,366.5 598.8,367.0 591.4,369.2 584.0,369.2" fill="#85c8e9" />
<polygon points="658.8,373.9 665.3,373.4 662.5,374.7" fill="#85c8e9" />
<polygon points="591.4,419.9 594.2,418.5 593.3,414.5 595.1,413.5 593.3,409.0 593.6,406.6 592.5,404.8 591.0,408.1 591.4,410.8 591.2,415.4" fill="#85c8e9" />
<polygon points="587.7,428.1 589.6,424.9 591.0,421.0 593.3,422.7 597.9,424.9 597.3,425.6 593.8,427.2 590.1,426.3 588.1,427.4" fill="#85c8e9" />
<polygon points="570.9,441.8 573.9,439.1 579.4,438.7 582.2,436.7 585.9,434.5 587.7,430.3 587.7,428.7 590.5,428.5 591.4,431.8 589.6,434.2 589.6,436.7 589.2,438.7 587.3,440.0 585.9,440.6 582.2,440.9 579.4,442.7 578.5,440.7 574.8,441.3 571.1,442.0" fill="#85c8e9" />
<polygon points="568.9,442.7 571.6,442.0 572.4,444.6 571.1,446.8 569.6,446.9 568.9,444.4" fill="#85c8e9" />
<polygon points="573.9,443.3 577.9,441.5 577.6,443.1 574.8,444.0" fill="#85c8e9" />
<polygon points="552.6,457.7 554.5,458.3 553.5,461.9 552.2,463.9 551.0,461.9 551.1,459.2" fill="#cccccc" />
<polygon points="529.9,468.8 533.2,467.2 534.1,468.1 532.3,470.3 530.1,470.1" fill="#cccccc" />
<polygon points="476.5,486.0 479.1,488.4 480.2,490.2 479.7,492.4 477.4,492.9 476.5,490.2" fill="#cccccc" />
<polygon points="505.1,493.7 509.2,494.4 514.4,499.7 516.2,500.0 520.3,503.9 522.1,507.2 524.9,509.9 524.5,514.5 522.1,514.6 518.1,511.2 514.8,506.6 511.4,500.8 508.7,497.5 505.5,494.8" fill="#cccccc" />
<polygon points="523.4,516.3 524.9,514.8 529.5,515.7 533.2,516.5 537.1,516.5 540.6,517.9 540.2,519.8 534.1,518.8 528.6,518.1 524.9,517.4" fill="#cccccc" />
<polygon points="530.5,501.1 531.7,500.2 534.1,500.8 537.8,498.2 539.7,495.7 542.5,494.4 544.9,491.3 546.5,492.9 549.3,494.2 547.1,495.9 546.3,498.0 547.1,502.1 546.2,503.9 544.3,506.6 543.9,510.3 540.6,511.2 537.8,509.7 535.4,509.5 532.9,509.2 532.3,506.6 530.8,504.8 530.3,503.0" fill="#cccccc" />
<polygon points="549.8,513.9 551.7,513.9 551.5,510.3 552.6,508.8 555.0,512.5 556.3,512.1 553.5,507.3 556.9,505.5 553.5,505.3 551.7,502.8 559.8,501.1 560.2,501.5 555.4,503.0 552.6,503.1 550.8,504.8 549.8,504.4 548.7,508.8 549.8,510.3" fill="#cccccc" />
<polygon points="550.8,470.1 554.8,470.1 554.6,473.8 553.5,475.6 558.2,478.5 558.3,481.1 556.9,480.2 552.6,479.2 552.1,477.4 550.8,474.7 550.6,471.9" fill="#cccccc" />
<polygon points="554.5,491.1 557.2,489.6 560.0,487.5 562.2,486.9 562.8,490.2 561.9,492.4 560.6,493.7 558.2,492.0 554.8,491.5" fill="#cccccc" />
<polygon points="554.5,482.9 558.2,482.3 560.9,483.8 560.0,485.6 556.3,486.5 554.5,484.7" fill="#cccccc" />
<polygon points="571.1,506.6 573.9,504.6 578.5,510.1 583.1,506.6 589.6,508.6 596.9,512.1 598.4,513.7 601.7,515.0 601.0,517.6 603.4,519.9 606.2,522.7 602.5,522.5 600.3,520.3 596.9,518.1 594.2,518.8 593.3,520.7 589.6,520.5 585.9,518.7 584.4,519.0 583.5,513.9 578.5,512.1 574.8,511.2 572.9,509.0 571.5,506.6" fill="#cccccc" />
<polygon points="558.2,520.9 564.3,519.2 560.0,521.2 558.2,522.5" fill="#cccccc" />
<polygon points="541.5,519.2 548.9,519.2 555.9,518.8 555.4,519.9 547.1,520.3 541.5,520.1" fill="#cccccc" />
<polygon points="531.7,500.2 534.1,500.8 537.8,498.2 539.7,495.7 542.5,494.4 544.9,491.3 546.5,492.9 549.3,494.2 547.1,495.9 546.3,496.2 543.4,496.0 542.5,496.6 540.8,496.6 539.7,499.9 536.9,501.1 535.1,502.1 532.3,502.2 531.6,501.0" fill="#85c8e9" />
<polygon points="464.9,431.8 467.7,430.0 470.4,430.1 473.2,428.5 477.3,427.2 477.8,423.6 481.5,421.4 482.4,417.7 487.0,418.1 490.4,414.3 493.5,416.3 496.3,419.0 497.2,421.8 501.8,421.9 507.0,426.0 515.3,426.1 523.1,428.0 526.8,426.5 533.2,426.3 535.8,424.1 535.1,422.1 539.7,421.2 543.4,418.7 546.0,418.8 550.2,418.1 548.0,416.5 545.8,416.8 542.8,416.6 544.7,413.0 546.9,413.5 549.8,411.7 551.1,409.2 553.5,406.6 557.2,406.2 560.9,407.0 563.7,411.7 564.6,413.2 569.2,414.6 571.1,416.8 574.8,416.1 577.9,415.7 575.0,421.6 572.6,421.2 571.1,421.9 571.5,425.0 570.3,426.5 568.3,426.5 565.5,427.4 563.5,427.6 558.7,431.1 553.5,432.7 553.0,429.2 549.8,431.2 547.1,432.3 546.5,433.6 548.6,435.6 549.3,436.0 551.9,434.9 555.4,436.4 551.7,438.2 549.8,440.0 551.3,441.3 552.6,445.1 554.3,447.3 553.5,449.1 554.5,450.0 552.6,452.8 550.0,457.0 545.2,460.8 539.7,463.2 535.1,464.6 533.0,466.3 532.3,464.8 529.5,464.5 528.6,464.6 526.2,462.1 523.6,461.4 519.4,462.6 517.5,463.0 516.6,465.2 513.8,464.5 512.4,463.5 511.4,460.1 509.6,458.6 511.4,453.7 509.2,452.4 506.4,450.2 502.7,451.0 499.1,453.0 494.6,452.6 493.1,454.1 491.9,453.0 488.0,453.0 484.3,451.7 479.7,448.4 475.0,446.6 474.1,444.4 475.6,443.7 474.7,441.3 472.8,439.1 468.6,438.4 466.7,436.2 467.5,435.6" fill="#124e91" />
<polygon points="529.9,468.8 533.2,467.2 534.1,468.1 532.3,470.3 530.1,470.1" fill="#124e91" />
<polygon points="552.6,457.7 554.5,458.3 553.5,461.9 552.2,463.9 551.0,461.9 551.1,459.2" fill="#124e91" />
<polygon points="562.0,435.1 563.7,434.0 566.3,433.4 567.9,435.4 568.1,439.5 564.6,440.7 562.4,440.9 562.8,438.2 562.0,436.4" fill="#85c8e9" />
<polygon points="499.4,465.6 500.2,463.7 501.5,460.1 503.7,457.3 505.0,455.3 507.4,454.2 509.2,452.4 511.4,453.7 509.6,458.6 511.4,460.1 512.4,463.5 513.8,464.5 515.7,464.6 514.4,466.6 511.1,467.9 509.8,470.5 509.0,473.8 511.2,476.5 512.0,479.8 511.1,485.6 510.7,485.6 511.2,482.0 510.1,479.2 509.6,474.7 506.4,474.1 503.3,474.7 503.3,470.1 500.9,467.7" fill="#85c8e9" />
<polygon points="514.2,492.2 516.2,492.0 517.7,492.6 520.1,496.2 520.3,499.3 521.8,501.3 520.3,501.5 516.2,498.6 514.4,495.1" fill="#85c8e9" />
<polygon points="491.9,463.7 493.5,455.9 499.1,458.3 500.2,463.7 499.4,465.6 495.4,463.9" fill="#85c8e9" />
<polygon points="441.8,449.5 444.6,450.2 451.0,450.0 452.0,447.3 457.5,446.4 458.4,442.7 460.3,441.5 461.2,438.2 466.7,436.2 468.6,438.4 472.8,439.1 469.5,440.4 465.8,442.7 466.7,444.6 468.2,445.1 465.8,449.1 461.9,453.0 459.3,453.1 457.5,455.3 459.9,457.9 455.6,461.0 453.4,458.8 452.1,457.5 448.3,457.7 442.7,457.9 444.9,454.1 446.0,452.8" fill="#85c8e9" />
<polygon points="393.6,450.0 396.5,450.0 398.4,448.2 401.2,445.3 406.7,447.1 411.3,450.6 415.0,450.8 417.2,451.9 418.5,451.9 420.6,454.6 421.8,456.4 422.6,458.3 424.4,459.5 426.1,462.1 430.7,462.5 432.0,463.7 430.7,467.4 425.2,469.2 419.6,469.9 415.9,472.9 415.0,472.5 410.4,472.1 408.9,473.4 408.0,473.8 405.2,469.2 401.2,464.1 399.7,460.3 397.8,457.9 395.1,453.1 393.0,452.6" fill="#85c8e9" />
<polygon points="392.5,446.8 394.0,443.5 395.3,443.1 394.7,446.4 393.8,450.0" fill="#85c8e9" />
<polygon points="318.2,438.5 325.4,439.8 331.0,437.3 334.7,436.7 340.2,436.4 344.8,436.5 348.2,435.8 349.4,436.5 348.5,438.2 349.6,439.6 348.0,441.5 350.4,443.3 353.1,443.8 357.2,444.9 358.1,446.4 363.9,447.9 366.1,446.9 366.1,445.5 368.8,443.8 371.6,444.4 375.3,445.7 379.9,446.8 382.7,447.5 386.4,446.2 388.8,446.8 392.3,446.8 393.6,450.0 392.5,453.1 390.1,451.9 389.3,449.3 391.2,454.2 393.8,459.7 394.9,461.7 397.3,463.7 398.2,469.4 400.2,471.0 401.7,475.0 405.2,477.4 409.1,481.1 408.7,482.9 411.3,484.9 415.9,483.6 423.7,482.3 423.5,484.7 423.0,486.9 419.6,492.9 417.4,495.7 414.1,499.9 409.5,504.8 405.8,507.2 403.0,510.3 401.5,512.5 402.1,515.7 401.7,519.4 403.9,523.0 404.1,526.7 404.3,530.9 402.1,534.5 397.5,536.4 394.3,543.1 394.7,547.9 389.9,551.1 389.3,555.9 386.4,558.4 384.5,561.0 380.8,564.1 376.6,565.9 370.7,565.9 366.1,567.4 363.1,566.3 362.7,563.2 360.9,557.7 359.6,556.1 357.4,553.2 355.9,545.9 355.7,544.6 353.1,541.3 350.9,535.5 351.7,530.0 354.4,525.8 353.5,521.2 353.1,519.4 351.8,515.2 351.7,514.5 349.6,511.0 346.7,507.5 346.3,504.8 347.2,499.7 347.2,498.2 345.4,496.0 342.2,495.9 339.5,496.0 337.4,492.4 334.1,492.4 331.3,492.7 327.3,494.8 324.1,494.8 321.7,494.4 315.3,495.9 312.1,494.4 308.1,491.3 304.7,488.4 304.6,486.5 302.0,484.4 301.2,482.2 298.3,481.2 297.4,477.1 298.7,474.3 299.0,468.8 297.7,465.6 301.4,460.1 304.2,455.0 307.9,452.8 311.0,450.0 311.4,448.2 312.1,444.6 316.6,441.8" fill="#cccccc" />
<polygon points="420.2,525.8 422.4,532.2 420.6,535.8 417.8,543.1 415.9,549.5 412.2,550.4 410.0,546.8 409.1,543.1 411.1,540.4 410.4,534.9 414.1,532.9 416.9,530.3 419.1,528.3" fill="#cccccc" />
<polygon points="408.6,486.9 410.4,487.5 417.6,489.3 412.2,494.8 406.7,496.6 404.9,496.6 402.1,497.5 399.3,497.3 395.6,495.7 393.8,494.8 392.9,492.0 390.1,489.6 391.9,488.4 392.3,484.7 394.3,482.0 396.0,480.2 396.5,477.8 398.4,477.8 401.7,477.4 403.4,477.8 405.8,479.4 407.4,481.1 406.3,483.6" fill="#85c8e9" />
<polygon points="383.8,506.4 385.6,505.7 391.7,505.7 391.9,501.7 393.8,500.6 393.0,496.9 391.0,496.9 388.2,497.5 386.0,497.5 385.5,500.2 384.2,502.8" fill="#85c8e9" />
<polygon points="344.8,495.7 346.9,492.0 350.9,491.1 352.0,488.4 353.7,485.6 355.9,481.4 355.4,480.2 356.7,481.6 357.0,484.0 355.0,486.4 357.8,490.0 355.7,492.6 357.0,496.2 359.1,499.9 350.0,499.9 347.2,499.7 347.2,498.2 345.4,496.0" fill="#85c8e9" />
<polygon points="359.6,556.1 362.7,556.6 365.9,555.7 366.1,549.1 367.5,551.1 370.7,550.1 376.2,550.6 379.0,547.0 383.4,544.2 386.9,544.8 388.2,548.6 389.9,553.0 389.3,555.9 386.4,558.4 384.5,561.0 380.8,564.1 376.6,565.9 370.7,565.9 366.1,567.4 363.1,566.3 362.7,563.2 360.9,557.7" fill="#85c8e9" />
<polygon points="538.8,544.0 538.2,547.7 539.7,551.3 541.4,557.7 542.8,562.3 541.5,566.5 546.9,567.9 550.8,565.7 557.2,565.7 561.9,562.8 567.4,561.5 571.5,561.4 576.6,563.7 579.4,567.4 581.2,565.0 583.6,563.4 583.1,568.9 586.8,569.2 588.6,573.2 594.2,574.7 599.3,575.2 602.5,572.9 606.2,572.3 608.0,565.9 610.8,562.3 612.8,556.1 611.7,550.4 608.0,546.8 604.3,543.1 598.8,538.6 597.5,533.6 596.2,530.0 594.2,529.4 592.3,523.4 590.7,527.1 590.5,532.2 589.2,535.6 586.8,535.6 583.1,533.1 579.4,531.3 581.6,526.3 578.5,526.1 573.9,524.9 571.1,526.1 568.3,530.9 565.5,531.3 562.8,529.4 560.0,531.3 557.2,534.0 554.8,536.7 552.6,539.5 547.1,541.1 544.3,541.7 540.1,544.0" fill="#85c8e9" />
<polygon points="596.2,578.2 603.0,578.5 603.0,580.9 600.6,583.5 597.3,581.1" fill="#85c8e9" />
<polygon points="648.1,566.7 651.4,569.6 653.8,571.4 658.8,572.7 657.7,575.4 655.7,576.3 654.2,579.3 652.4,579.8 651.6,576.9 650.1,575.4 651.6,573.2 651.1,570.5" fill="#85c8e9" />
<polygon points="648.1,577.8 650.9,579.1 649.6,582.0 645.9,584.5 644.6,587.6 641.3,588.9 636.7,587.8 640.0,584.2 644.0,582.4 646.8,579.6" fill="#85c8e9" />
<polygon points="0.0,659.5 6.7,657.0 20.0,655.3 37.0,648.5 53.7,645.2 67.0,643.5 87.3,641.8 110.8,640.8 134.3,639.5 150.0,638.6 186.8,638.6 190.9,636.6 197.0,632.5 203.1,630.4 207.2,627.4 211.3,623.3 217.4,620.2 223.6,618.2 226.6,619.2 219.5,622.3 213.4,626.4 209.3,630.4 211.3,633.5 215.4,636.6 214.4,640.7 209.3,642.7 199.0,643.7 190.9,644.7 180.7,645.8 174.5,647.8 186.8,650.9 201.1,651.9 211.3,654.0 217.4,656.0 221.5,657.4 231.7,654.0 240.0,652.9 252.2,651.9 264.4,647.8 276.7,644.7 290.0,642.7 304.0,636.8 327.5,633.5 354.3,633.5 381.2,631.8 404.7,628.4 428.2,626.1 445.0,628.0 452.0,634.0 457.0,629.8 466.0,628.0 480.0,626.3 515.0,625.2 536.0,626.3 567.6,627.3 592.0,629.8 613.2,632.2 634.2,635.0 643.0,637.8 634.2,642.0 627.2,649.0 630.7,654.3 648.2,657.8 662.2,659.6" fill="#cccccc" />
<ellipse cx="241" cy="649.4" rx="7" ry="2.5" fill="#cccccc"/>
<g stroke="#9b3515" stroke-linecap="round"><line x1="121.3" y1="420.5" x2="352.6" y2="493.5" stroke-width="0.87" stroke-opacity="0.32"/><line x1="121.3" y1="420.5" x2="389.0" y2="501.5" stroke-width="0.87" stroke-opacity="0.32"/><line x1="121.3" y1="420.5" x2="402.3" y2="488.2" stroke-width="0.87" stroke-opacity="0.32"/><line x1="147.6" y1="391.8" x2="375.3" y2="420.1" stroke-width="0.87" stroke-opacity="0.32"/><line x1="147.6" y1="391.8" x2="411.3" y2="459.9" stroke-width="0.87" stroke-opacity="0.32"/><line x1="147.6" y1="391.8" x2="457.3" y2="449.3" stroke-width="0.87" stroke-opacity="0.32"/><line x1="231.1" y1="523.6" x2="337.6" y2="411.5" stroke-width="0.87" stroke-opacity="0.32"/><line x1="231.1" y1="523.6" x2="344.3" y2="418.5" stroke-width="0.87" stroke-opacity="0.32"/><line x1="314.2" y1="406.8" x2="337.6" y2="411.5" stroke-width="0.87" stroke-opacity="0.32"/><line x1="314.2" y1="406.8" x2="344.3" y2="418.5" stroke-width="0.87" stroke-opacity="0.32"/><line x1="322.5" y1="430.5" x2="375.5" y2="556.8" stroke-width="0.87" stroke-opacity="0.32"/><line x1="322.5" y1="430.5" x2="393.8" y2="446.6" stroke-width="0.87" stroke-opacity="0.32"/><line x1="322.5" y1="430.5" x2="507.7" y2="390.9" stroke-width="0.87" stroke-opacity="0.32"/><line x1="337.6" y1="411.5" x2="355.2" y2="417.0" stroke-width="0.87" stroke-opacity="0.32"/><line x1="337.6" y1="411.5" x2="365.0" y2="408.8" stroke-width="0.87" stroke-opacity="0.32"/><line x1="337.6" y1="411.5" x2="565.2" y2="437.4" stroke-width="0.87" stroke-opacity="0.32"/><line x1="337.6" y1="411.5" x2="584.0" y2="436.4" stroke-width="0.87" stroke-opacity="0.32"/><line x1="344.3" y1="418.5" x2="355.2" y2="417.0" stroke-width="0.87" stroke-opacity="0.32"/><line x1="344.3" y1="418.5" x2="365.0" y2="408.8" stroke-width="0.87" stroke-opacity="0.32"/><line x1="344.3" y1="418.5" x2="565.2" y2="437.4" stroke-width="0.87" stroke-opacity="0.32"/><line x1="344.3" y1="418.5" x2="584.0" y2="436.4" stroke-width="0.87" stroke-opacity="0.32"/><line x1="347.6" y1="401.7" x2="370.9" y2="432.5" stroke-width="0.87" stroke-opacity="0.32"/><line x1="347.6" y1="401.7" x2="520.8" y2="501.4" stroke-width="0.87" stroke-opacity="0.32"/><line x1="352.4" y1="425.8" x2="370.9" y2="432.5" stroke-width="0.87" stroke-opacity="0.32"/><line x1="352.4" y1="425.8" x2="520.8" y2="501.4" stroke-width="0.87" stroke-opacity="0.32"/><line x1="357.4" y1="378.3" x2="365.1" y2="415.0" stroke-width="0.87" stroke-opacity="0.32"/><line x1="357.4" y1="378.3" x2="367.5" y2="423.2" stroke-width="0.87" stroke-opacity="0.32"/><line x1="357.4" y1="378.3" x2="375.7" y2="425.8" stroke-width="0.87" stroke-opacity="0.32"/><line x1="357.4" y1="378.3" x2="531.4" y2="496.8" stroke-width="0.87" stroke-opacity="0.32"/><line x1="360.0" y1="389.3" x2="365.1" y2="415.0" stroke-width="0.87" stroke-opacity="0.32"/><line x1="360.0" y1="389.3" x2="367.5" y2="423.2" stroke-width="0.87" stroke-opacity="0.32"/><line x1="360.0" y1="389.3" x2="375.7" y2="425.8" stroke-width="0.87" stroke-opacity="0.32"/><line x1="360.0" y1="389.3" x2="531.4" y2="496.8" stroke-width="0.87" stroke-opacity="0.32"/><line x1="377.7" y1="386.2" x2="370.9" y2="432.5" stroke-width="0.87" stroke-opacity="0.32"/><line x1="377.7" y1="386.2" x2="520.8" y2="501.4" stroke-width="0.87" stroke-opacity="0.32"/><line x1="314.4" y1="431.6" x2="348.3" y2="410.6" stroke-width="0.89" stroke-opacity="0.32"/><line x1="314.4" y1="431.6" x2="577.6" y2="550.8" stroke-width="0.89" stroke-opacity="0.32"/><line x1="323.8" y1="405.1" x2="390.5" y2="440.0" stroke-width="0.89" stroke-opacity="0.32"/><line x1="323.8" y1="405.1" x2="495.9" y2="460.4" stroke-width="0.89" stroke-opacity="0.32"/><line x1="348.3" y1="410.6" x2="357.4" y2="413.0" stroke-width="0.89" stroke-opacity="0.32"/><line x1="348.3" y1="410.6" x2="365.0" y2="417.7" stroke-width="0.89" stroke-opacity="0.32"/><line x1="348.3" y1="410.6" x2="376.2" y2="396.8" stroke-width="0.89" stroke-opacity="0.32"/><line x1="357.4" y1="413.0" x2="577.6" y2="550.8" stroke-width="0.89" stroke-opacity="0.32"/><line x1="365.0" y1="417.7" x2="577.6" y2="550.8" stroke-width="0.89" stroke-opacity="0.32"/><line x1="376.2" y1="396.8" x2="577.6" y2="550.8" stroke-width="0.89" stroke-opacity="0.32"/><line x1="390.5" y1="440.0" x2="520.8" y2="437.1" stroke-width="0.89" stroke-opacity="0.32"/><line x1="520.8" y1="437.1" x2="495.9" y2="460.4" stroke-width="0.89" stroke-opacity="0.32"/><line x1="333.7" y1="418.8" x2="370.9" y2="432.5" stroke-width="0.92" stroke-opacity="0.32"/><line x1="333.7" y1="418.8" x2="520.8" y2="501.4" stroke-width="0.92" stroke-opacity="0.32"/><line x1="338.9" y1="408.8" x2="370.9" y2="432.5" stroke-width="0.92" stroke-opacity="0.32"/><line x1="338.9" y1="408.8" x2="520.8" y2="501.4" stroke-width="0.92" stroke-opacity="0.32"/><line x1="347.6" y1="401.7" x2="375.5" y2="556.8" stroke-width="0.93" stroke-opacity="0.32"/><line x1="347.6" y1="401.7" x2="393.8" y2="446.6" stroke-width="0.93" stroke-opacity="0.32"/><line x1="347.6" y1="401.7" x2="507.7" y2="390.9" stroke-width="0.93" stroke-opacity="0.32"/><line x1="352.4" y1="425.8" x2="375.5" y2="556.8" stroke-width="0.93" stroke-opacity="0.32"/><line x1="352.4" y1="425.8" x2="393.8" y2="446.6" stroke-width="0.93" stroke-opacity="0.32"/><line x1="352.4" y1="425.8" x2="507.7" y2="390.9" stroke-width="0.93" stroke-opacity="0.32"/><line x1="357.4" y1="378.3" x2="375.3" y2="420.1" stroke-width="0.93" stroke-opacity="0.32"/><line x1="357.4" y1="378.3" x2="411.3" y2="459.9" stroke-width="0.93" stroke-opacity="0.32"/><line x1="357.4" y1="378.3" x2="457.3" y2="449.3" stroke-width="0.93" stroke-opacity="0.32"/><line x1="360.0" y1="389.3" x2="375.3" y2="420.1" stroke-width="0.93" stroke-opacity="0.32"/><line x1="360.0" y1="389.3" x2="411.3" y2="459.9" stroke-width="0.93" stroke-opacity="0.32"/><line x1="360.0" y1="389.3" x2="457.3" y2="449.3" stroke-width="0.93" stroke-opacity="0.32"/><line x1="377.7" y1="386.2" x2="375.5" y2="556.8" stroke-width="0.93" stroke-opacity="0.32"/><line x1="377.7" y1="386.2" x2="393.8" y2="446.6" stroke-width="0.93" stroke-opacity="0.32"/><line x1="377.7" y1="386.2" x2="507.7" y2="390.9" stroke-width="0.93" stroke-opacity="0.32"/><line x1="231.1" y1="523.6" x2="322.5" y2="430.5" stroke-width="0.95" stroke-opacity="0.32"/><line x1="314.2" y1="406.8" x2="322.5" y2="430.5" stroke-width="0.95" stroke-opacity="0.32"/><line x1="322.5" y1="430.5" x2="355.2" y2="417.0" stroke-width="0.95" stroke-opacity="0.32"/><line x1="322.5" y1="430.5" x2="365.0" y2="408.8" stroke-width="0.95" stroke-opacity="0.32"/><line x1="322.5" y1="430.5" x2="565.2" y2="437.4" stroke-width="0.95" stroke-opacity="0.32"/><line x1="322.5" y1="430.5" x2="584.0" y2="436.4" stroke-width="0.95" stroke-opacity="0.32"/><line x1="121.3" y1="420.5" x2="390.5" y2="440.0" stroke-width="0.97" stroke-opacity="0.32"/><line x1="121.3" y1="420.5" x2="495.9" y2="460.4" stroke-width="0.97" stroke-opacity="0.32"/><line x1="147.6" y1="391.8" x2="314.4" y2="431.6" stroke-width="0.97" stroke-opacity="0.32"/><line x1="147.6" y1="391.8" x2="357.4" y2="413.0" stroke-width="0.97" stroke-opacity="0.32"/><line x1="147.6" y1="391.8" x2="365.0" y2="417.7" stroke-width="0.97" stroke-opacity="0.32"/><line x1="147.6" y1="391.8" x2="376.2" y2="396.8" stroke-width="0.97" stroke-opacity="0.32"/><line x1="323.8" y1="405.1" x2="365.1" y2="415.0" stroke-width="0.97" stroke-opacity="0.32"/><line x1="323.8" y1="405.1" x2="367.5" y2="423.2" stroke-width="0.97" stroke-opacity="0.32"/><line x1="323.8" y1="405.1" x2="375.7" y2="425.8" stroke-width="0.97" stroke-opacity="0.32"/><line x1="323.8" y1="405.1" x2="531.4" y2="496.8" stroke-width="0.97" stroke-opacity="0.32"/><line x1="337.6" y1="411.5" x2="344.3" y2="418.5" stroke-width="0.97" stroke-opacity="0.32"/><line x1="348.3" y1="410.6" x2="370.9" y2="432.5" stroke-width="0.97" stroke-opacity="0.32"/><line x1="348.3" y1="410.6" x2="520.8" y2="501.4" stroke-width="0.97" stroke-opacity="0.32"/><line x1="365.1" y1="415.0" x2="520.8" y2="437.1" stroke-width="0.97" stroke-opacity="0.32"/><line x1="367.5" y1="423.2" x2="520.8" y2="437.1" stroke-width="0.97" stroke-opacity="0.32"/><line x1="370.9" y1="432.5" x2="577.6" y2="550.8" stroke-width="0.97" stroke-opacity="0.32"/><line x1="375.7" y1="425.8" x2="520.8" y2="437.1" stroke-width="0.97" stroke-opacity="0.32"/><line x1="520.8" y1="437.1" x2="531.4" y2="496.8" stroke-width="0.97" stroke-opacity="0.32"/><line x1="520.8" y1="501.4" x2="577.6" y2="550.8" stroke-width="0.97" stroke-opacity="0.32"/><line x1="333.7" y1="418.8" x2="375.5" y2="556.8" stroke-width="0.99" stroke-opacity="0.32"/><line x1="333.7" y1="418.8" x2="393.8" y2="446.6" stroke-width="0.99" stroke-opacity="0.32"/><line x1="333.7" y1="418.8" x2="507.7" y2="390.9" stroke-width="0.99" stroke-opacity="0.32"/><line x1="338.9" y1="408.8" x2="375.5" y2="556.8" stroke-width="0.99" stroke-opacity="0.32"/><line x1="338.9" y1="408.8" x2="393.8" y2="446.6" stroke-width="0.99" stroke-opacity="0.32"/><line x1="338.9" y1="408.8" x2="507.7" y2="390.9" stroke-width="0.99" stroke-opacity="0.32"/><line x1="231.1" y1="523.6" x2="347.6" y2="401.7" stroke-width="1.01" stroke-opacity="0.32"/><line x1="231.1" y1="523.6" x2="352.4" y2="425.8" stroke-width="1.01" stroke-opacity="0.32"/><line x1="231.1" y1="523.6" x2="377.7" y2="386.2" stroke-width="1.01" stroke-opacity="0.32"/><line x1="314.2" y1="406.8" x2="347.6" y2="401.7" stroke-width="1.01" stroke-opacity="0.32"/><line x1="314.2" y1="406.8" x2="352.4" y2="425.8" stroke-width="1.01" stroke-opacity="0.32"/><line x1="314.2" y1="406.8" x2="377.7" y2="386.2" stroke-width="1.01" stroke-opacity="0.32"/><line x1="347.6" y1="401.7" x2="365.0" y2="408.8" stroke-width="1.01" stroke-opacity="0.32"/><line x1="347.6" y1="401.7" x2="565.2" y2="437.4" stroke-width="1.01" stroke-opacity="0.32"/><line x1="347.6" y1="401.7" x2="584.0" y2="436.4" stroke-width="1.01" stroke-opacity="0.32"/><line x1="352.4" y1="425.8" x2="355.2" y2="417.0" stroke-width="1.01" stroke-opacity="0.32"/><line x1="352.4" y1="425.8" x2="365.0" y2="408.8" stroke-width="1.01" stroke-opacity="0.32"/><line x1="352.4" y1="425.8" x2="565.2" y2="437.4" stroke-width="1.01" stroke-opacity="0.32"/><line x1="352.4" y1="425.8" x2="584.0" y2="436.4" stroke-width="1.01" stroke-opacity="0.32"/><line x1="355.2" y1="417.0" x2="347.6" y2="401.7" stroke-width="1.01" stroke-opacity="0.32"/><line x1="355.2" y1="417.0" x2="377.7" y2="386.2" stroke-width="1.01" stroke-opacity="0.32"/><line x1="377.7" y1="386.2" x2="365.0" y2="408.8" stroke-width="1.01" stroke-opacity="0.32"/><line x1="377.7" y1="386.2" x2="565.2" y2="437.4" stroke-width="1.01" stroke-opacity="0.32"/><line x1="377.7" y1="386.2" x2="584.0" y2="436.4" stroke-width="1.01" stroke-opacity="0.32"/><line x1="323.8" y1="405.1" x2="375.3" y2="420.1" stroke-width="1.04" stroke-opacity="0.32"/><line x1="323.8" y1="405.1" x2="411.3" y2="459.9" stroke-width="1.04" stroke-opacity="0.32"/><line x1="323.8" y1="405.1" x2="457.3" y2="449.3" stroke-width="1.04" stroke-opacity="0.32"/><line x1="348.3" y1="410.6" x2="375.5" y2="556.8" stroke-width="1.04" stroke-opacity="0.32"/><line x1="348.3" y1="410.6" x2="393.8" y2="446.6" stroke-width="1.04" stroke-opacity="0.32"/><line x1="348.3" y1="410.6" x2="507.7" y2="390.9" stroke-width="1.04" stroke-opacity="0.32"/><line x1="375.3" y1="420.1" x2="520.8" y2="437.1" stroke-width="1.04" stroke-opacity="0.32"/><line x1="393.8" y1="446.6" x2="577.6" y2="550.8" stroke-width="1.04" stroke-opacity="0.32"/><line x1="411.3" y1="459.9" x2="520.8" y2="437.1" stroke-width="1.04" stroke-opacity="0.32"/><line x1="507.7" y1="390.9" x2="577.6" y2="550.8" stroke-width="1.04" stroke-opacity="0.32"/><line x1="520.8" y1="437.1" x2="457.3" y2="449.3" stroke-width="1.04" stroke-opacity="0.32"/><line x1="577.6" y1="550.8" x2="375.5" y2="556.8" stroke-width="1.04" stroke-opacity="0.32"/><line x1="314.4" y1="431.6" x2="357.4" y2="378.3" stroke-width="1.04" stroke-opacity="0.32"/><line x1="314.4" y1="431.6" x2="360.0" y2="389.3" stroke-width="1.04" stroke-opacity="0.32"/><line x1="357.4" y1="378.3" x2="357.4" y2="413.0" stroke-width="1.04" stroke-opacity="0.32"/><line x1="357.4" y1="378.3" x2="365.0" y2="417.7" stroke-width="1.04" stroke-opacity="0.32"/><line x1="357.4" y1="378.3" x2="376.2" y2="396.8" stroke-width="1.04" stroke-opacity="0.32"/><line x1="360.0" y1="389.3" x2="357.4" y2="413.0" stroke-width="1.04" stroke-opacity="0.32"/><line x1="360.0" y1="389.3" x2="365.0" y2="417.7" stroke-width="1.04" stroke-opacity="0.32"/><line x1="360.0" y1="389.3" x2="376.2" y2="396.8" stroke-width="1.04" stroke-opacity="0.32"/><line x1="121.3" y1="420.5" x2="365.1" y2="415.0" stroke-width="1.05" stroke-opacity="0.32"/><line x1="121.3" y1="420.5" x2="367.5" y2="423.2" stroke-width="1.05" stroke-opacity="0.32"/><line x1="121.3" y1="420.5" x2="375.7" y2="425.8" stroke-width="1.05" stroke-opacity="0.32"/><line x1="121.3" y1="420.5" x2="531.4" y2="496.8" stroke-width="1.05" stroke-opacity="0.32"/><line x1="147.6" y1="391.8" x2="370.9" y2="432.5" stroke-width="1.05" stroke-opacity="0.32"/><line x1="147.6" y1="391.8" x2="520.8" y2="501.4" stroke-width="1.05" stroke-opacity="0.32"/><line x1="322.5" y1="430.5" x2="337.6" y2="411.5" stroke-width="1.05" stroke-opacity="0.32"/><line x1="322.5" y1="430.5" x2="344.3" y2="418.5" stroke-width="1.05" stroke-opacity="0.32"/><line x1="231.1" y1="523.6" x2="333.7" y2="418.8" stroke-width="1.07" stroke-opacity="0.32"/><line x1="231.1" y1="523.6" x2="338.9" y2="408.8" stroke-width="1.07" stroke-opacity="0.32"/><line x1="314.2" y1="406.8" x2="333.7" y2="418.8" stroke-width="1.07" stroke-opacity="0.32"/><line x1="314.2" y1="406.8" x2="338.9" y2="408.8" stroke-width="1.07" stroke-opacity="0.32"/><line x1="333.7" y1="418.8" x2="355.2" y2="417.0" stroke-width="1.07" stroke-opacity="0.32"/><line x1="333.7" y1="418.8" x2="365.0" y2="408.8" stroke-width="1.07" stroke-opacity="0.32"/><line x1="333.7" y1="418.8" x2="565.2" y2="437.4" stroke-width="1.07" stroke-opacity="0.32"/><line x1="333.7" y1="418.8" x2="584.0" y2="436.4" stroke-width="1.07" stroke-opacity="0.32"/><line x1="338.9" y1="408.8" x2="355.2" y2="417.0" stroke-width="1.07" stroke-opacity="0.32"/><line x1="338.9" y1="408.8" x2="365.0" y2="408.8" stroke-width="1.07" stroke-opacity="0.32"/><line x1="338.9" y1="408.8" x2="565.2" y2="437.4" stroke-width="1.07" stroke-opacity="0.32"/><line x1="338.9" y1="408.8" x2="584.0" y2="436.4" stroke-width="1.07" stroke-opacity="0.32"/><line x1="121.3" y1="420.5" x2="375.3" y2="420.1" stroke-width="1.13" stroke-opacity="0.32"/><line x1="121.3" y1="420.5" x2="411.3" y2="459.9" stroke-width="1.13" stroke-opacity="0.32"/><line x1="121.3" y1="420.5" x2="457.3" y2="449.3" stroke-width="1.13" stroke-opacity="0.32"/><line x1="147.6" y1="391.8" x2="375.5" y2="556.8" stroke-width="1.13" stroke-opacity="0.32"/><line x1="147.6" y1="391.8" x2="393.8" y2="446.6" stroke-width="1.13" stroke-opacity="0.32"/><line x1="147.6" y1="391.8" x2="507.7" y2="390.9" stroke-width="1.13" stroke-opacity="0.32"/><line x1="231.1" y1="523.6" x2="348.3" y2="410.6" stroke-width="1.13" stroke-opacity="0.32"/><line x1="231.1" y1="523.6" x2="577.6" y2="550.8" stroke-width="1.13" stroke-opacity="0.32"/><line x1="314.2" y1="406.8" x2="348.3" y2="410.6" stroke-width="1.13" stroke-opacity="0.32"/><line x1="314.2" y1="406.8" x2="577.6" y2="550.8" stroke-width="1.13" stroke-opacity="0.32"/><line x1="337.6" y1="411.5" x2="347.6" y2="401.7" stroke-width="1.13" stroke-opacity="0.32"/><line x1="337.6" y1="411.5" x2="352.4" y2="425.8" stroke-width="1.13" stroke-opacity="0.32"/><line x1="337.6" y1="411.5" x2="377.7" y2="386.2" stroke-width="1.13" stroke-opacity="0.32"/><line x1="344.3" y1="418.5" x2="347.6" y2="401.7" stroke-width="1.13" stroke-opacity="0.32"/><line x1="344.3" y1="418.5" x2="352.4" y2="425.8" stroke-width="1.13" stroke-opacity="0.32"/><line x1="344.3" y1="418.5" x2="377.7" y2="386.2" stroke-width="1.13" stroke-opacity="0.32"/><line x1="348.3" y1="410.6" x2="355.2" y2="417.0" stroke-width="1.13" stroke-opacity="0.32"/><line x1="348.3" y1="410.6" x2="365.0" y2="408.8" stroke-width="1.13" stroke-opacity="0.32"/><line x1="348.3" y1="410.6" x2="565.2" y2="437.4" stroke-width="1.13" stroke-opacity="0.32"/><line x1="348.3" y1="410.6" x2="584.0" y2="436.4" stroke-width="1.13" stroke-opacity="0.32"/><line x1="355.2" y1="417.0" x2="577.6" y2="550.8" stroke-width="1.13" stroke-opacity="0.32"/><line x1="357.4" y1="378.3" x2="370.9" y2="432.5" stroke-width="1.13" stroke-opacity="0.32"/><line x1="357.4" y1="378.3" x2="520.8" y2="501.4" stroke-width="1.13" stroke-opacity="0.32"/><line x1="360.0" y1="389.3" x2="370.9" y2="432.5" stroke-width="1.13" stroke-opacity="0.32"/><line x1="360.0" y1="389.3" x2="520.8" y2="501.4" stroke-width="1.13" stroke-opacity="0.32"/><line x1="365.0" y1="408.8" x2="577.6" y2="550.8" stroke-width="1.13" stroke-opacity="0.32"/><line x1="565.2" y1="437.4" x2="577.6" y2="550.8" stroke-width="1.13" stroke-opacity="0.32"/><line x1="584.0" y1="436.4" x2="577.6" y2="550.8" stroke-width="1.13" stroke-opacity="0.32"/><line x1="314.4" y1="431.6" x2="520.8" y2="437.1" stroke-width="1.16" stroke-opacity="0.32"/><line x1="323.8" y1="405.1" x2="314.4" y2="431.6" stroke-width="1.16" stroke-opacity="0.32"/><line x1="323.8" y1="405.1" x2="357.4" y2="413.0" stroke-width="1.16" stroke-opacity="0.32"/><line x1="323.8" y1="405.1" x2="365.0" y2="417.7" stroke-width="1.16" stroke-opacity="0.32"/><line x1="323.8" y1="405.1" x2="376.2" y2="396.8" stroke-width="1.16" stroke-opacity="0.32"/><line x1="357.4" y1="413.0" x2="520.8" y2="437.1" stroke-width="1.16" stroke-opacity="0.32"/><line x1="365.0" y1="417.7" x2="520.8" y2="437.1" stroke-width="1.16" stroke-opacity="0.32"/><line x1="376.2" y1="396.8" x2="520.8" y2="437.1" stroke-width="1.16" stroke-opacity="0.32"/><line x1="333.7" y1="418.8" x2="337.6" y2="411.5" stroke-width="1.20" stroke-opacity="0.32"/><line x1="333.7" y1="418.8" x2="344.3" y2="418.5" stroke-width="1.20" stroke-opacity="0.32"/><line x1="338.9" y1="408.8" x2="337.6" y2="411.5" stroke-width="1.20" stroke-opacity="0.32"/><line x1="338.9" y1="408.8" x2="344.3" y2="418.5" stroke-width="1.20" stroke-opacity="0.32"/><line x1="357.4" y1="378.3" x2="375.5" y2="556.8" stroke-width="1.22" stroke-opacity="0.32"/><line x1="357.4" y1="378.3" x2="393.8" y2="446.6" stroke-width="1.22" stroke-opacity="0.32"/><line x1="357.4" y1="378.3" x2="507.7" y2="390.9" stroke-width="1.22" stroke-opacity="0.32"/><line x1="360.0" y1="389.3" x2="375.5" y2="556.8" stroke-width="1.22" stroke-opacity="0.32"/><line x1="360.0" y1="389.3" x2="393.8" y2="446.6" stroke-width="1.22" stroke-opacity="0.32"/><line x1="360.0" y1="389.3" x2="507.7" y2="390.9" stroke-width="1.22" stroke-opacity="0.32"/><line x1="147.6" y1="391.8" x2="231.1" y2="523.6" stroke-width="1.24" stroke-opacity="0.33"/><line x1="147.6" y1="391.8" x2="314.2" y2="406.8" stroke-width="1.24" stroke-opacity="0.33"/><line x1="147.6" y1="391.8" x2="355.2" y2="417.0" stroke-width="1.24" stroke-opacity="0.33"/><line x1="147.6" y1="391.8" x2="365.0" y2="408.8" stroke-width="1.24" stroke-opacity="0.33"/><line x1="147.6" y1="391.8" x2="565.2" y2="437.4" stroke-width="1.24" stroke-opacity="0.33"/><line x1="147.6" y1="391.8" x2="584.0" y2="436.4" stroke-width="1.24" stroke-opacity="0.33"/><line x1="322.5" y1="430.5" x2="347.6" y2="401.7" stroke-width="1.24" stroke-opacity="0.33"/><line x1="322.5" y1="430.5" x2="352.4" y2="425.8" stroke-width="1.24" stroke-opacity="0.33"/><line x1="322.5" y1="430.5" x2="377.7" y2="386.2" stroke-width="1.24" stroke-opacity="0.33"/><line x1="121.3" y1="420.5" x2="314.4" y2="431.6" stroke-width="1.27" stroke-opacity="0.33"/><line x1="121.3" y1="420.5" x2="357.4" y2="413.0" stroke-width="1.27" stroke-opacity="0.33"/><line x1="121.3" y1="420.5" x2="365.0" y2="417.7" stroke-width="1.27" stroke-opacity="0.33"/><line x1="121.3" y1="420.5" x2="376.2" y2="396.8" stroke-width="1.27" stroke-opacity="0.33"/><line x1="323.8" y1="405.1" x2="370.9" y2="432.5" stroke-width="1.27" stroke-opacity="0.33"/><line x1="323.8" y1="405.1" x2="520.8" y2="501.4" stroke-width="1.27" stroke-opacity="0.33"/><line x1="337.6" y1="411.5" x2="577.6" y2="550.8" stroke-width="1.27" stroke-opacity="0.33"/><line x1="344.3" y1="418.5" x2="577.6" y2="550.8" stroke-width="1.27" stroke-opacity="0.33"/><line x1="348.3" y1="410.6" x2="337.6" y2="411.5" stroke-width="1.27" stroke-opacity="0.33"/><line x1="348.3" y1="410.6" x2="344.3" y2="418.5" stroke-width="1.27" stroke-opacity="0.33"/><line x1="370.9" y1="432.5" x2="520.8" y2="437.1" stroke-width="1.27" stroke-opacity="0.33"/><line x1="520.8" y1="437.1" x2="520.8" y2="501.4" stroke-width="1.27" stroke-opacity="0.33"/><line x1="322.5" y1="430.5" x2="338.9" y2="408.8" stroke-width="1.31" stroke-opacity="0.33"/><line x1="333.7" y1="418.8" x2="322.5" y2="430.5" stroke-width="1.31" stroke-opacity="0.33"/><line x1="231.1" y1="523.6" x2="357.4" y2="378.3" stroke-width="1.33" stroke-opacity="0.33"/><line x1="231.1" y1="523.6" x2="360.0" y2="389.3" stroke-width="1.33" stroke-opacity="0.33"/><line x1="314.2" y1="406.8" x2="357.4" y2="378.3" stroke-width="1.33" stroke-opacity="0.33"/><line x1="314.2" y1="406.8" x2="360.0" y2="389.3" stroke-width="1.33" stroke-opacity="0.33"/><line x1="347.6" y1="401.7" x2="377.7" y2="386.2" stroke-width="1.33" stroke-opacity="0.33"/><line x1="352.4" y1="425.8" x2="347.6" y2="401.7" stroke-width="1.33" stroke-opacity="0.33"/><line x1="352.4" y1="425.8" x2="377.7" y2="386.2" stroke-width="1.33" stroke-opacity="0.33"/><line x1="355.2" y1="417.0" x2="357.4" y2="378.3" stroke-width="1.33" stroke-opacity="0.33"/><line x1="355.2" y1="417.0" x2="360.0" y2="389.3" stroke-width="1.33" stroke-opacity="0.33"/><line x1="357.4" y1="378.3" x2="365.0" y2="408.8" stroke-width="1.33" stroke-opacity="0.33"/><line x1="357.4" y1="378.3" x2="565.2" y2="437.4" stroke-width="1.33" stroke-opacity="0.33"/><line x1="357.4" y1="378.3" x2="584.0" y2="436.4" stroke-width="1.33" stroke-opacity="0.33"/><line x1="360.0" y1="389.3" x2="365.0" y2="408.8" stroke-width="1.33" stroke-opacity="0.33"/><line x1="360.0" y1="389.3" x2="565.2" y2="437.4" stroke-width="1.33" stroke-opacity="0.33"/><line x1="360.0" y1="389.3" x2="584.0" y2="436.4" stroke-width="1.33" stroke-opacity="0.33"/><line x1="323.8" y1="405.1" x2="375.5" y2="556.8" stroke-width="1.37" stroke-opacity="0.33"/><line x1="323.8" y1="405.1" x2="393.8" y2="446.6" stroke-width="1.37" stroke-opacity="0.33"/><line x1="323.8" y1="405.1" x2="507.7" y2="390.9" stroke-width="1.37" stroke-opacity="0.33"/><line x1="393.8" y1="446.6" x2="520.8" y2="437.1" stroke-width="1.37" stroke-opacity="0.33"/><line x1="507.7" y1="390.9" x2="520.8" y2="437.1" stroke-width="1.37" stroke-opacity="0.33"/><line x1="520.8" y1="437.1" x2="375.5" y2="556.8" stroke-width="1.37" stroke-opacity="0.33"/><line x1="121.3" y1="420.5" x2="370.9" y2="432.5" stroke-width="1.39" stroke-opacity="0.33"/><line x1="121.3" y1="420.5" x2="520.8" y2="501.4" stroke-width="1.39" stroke-opacity="0.33"/><line x1="147.6" y1="391.8" x2="337.6" y2="411.5" stroke-width="1.39" stroke-opacity="0.33"/><line x1="147.6" y1="391.8" x2="344.3" y2="418.5" stroke-width="1.39" stroke-opacity="0.33"/><line x1="322.5" y1="430.5" x2="348.3" y2="410.6" stroke-width="1.39" stroke-opacity="0.33"/><line x1="322.5" y1="430.5" x2="577.6" y2="550.8" stroke-width="1.39" stroke-opacity="0.33"/><line x1="333.7" y1="418.8" x2="347.6" y2="401.7" stroke-width="1.42" stroke-opacity="0.33"/><line x1="333.7" y1="418.8" x2="352.4" y2="425.8" stroke-width="1.42" stroke-opacity="0.33"/><line x1="333.7" y1="418.8" x2="377.7" y2="386.2" stroke-width="1.42" stroke-opacity="0.33"/><line x1="338.9" y1="408.8" x2="347.6" y2="401.7" stroke-width="1.42" stroke-opacity="0.33"/><line x1="338.9" y1="408.8" x2="352.4" y2="425.8" stroke-width="1.42" stroke-opacity="0.33"/><line x1="338.9" y1="408.8" x2="377.7" y2="386.2" stroke-width="1.42" stroke-opacity="0.33"/><line x1="121.3" y1="420.5" x2="375.5" y2="556.8" stroke-width="1.50" stroke-opacity="0.33"/><line x1="121.3" y1="420.5" x2="393.8" y2="446.6" stroke-width="1.50" stroke-opacity="0.33"/><line x1="121.3" y1="420.5" x2="507.7" y2="390.9" stroke-width="1.50" stroke-opacity="0.33"/><line x1="231.1" y1="523.6" x2="323.8" y2="405.1" stroke-width="1.50" stroke-opacity="0.33"/><line x1="231.1" y1="523.6" x2="520.8" y2="437.1" stroke-width="1.50" stroke-opacity="0.33"/><line x1="314.2" y1="406.8" x2="520.8" y2="437.1" stroke-width="1.50" stroke-opacity="0.33"/><line x1="323.8" y1="405.1" x2="314.2" y2="406.8" stroke-width="1.50" stroke-opacity="0.33"/><line x1="323.8" y1="405.1" x2="355.2" y2="417.0" stroke-width="1.50" stroke-opacity="0.33"/><line x1="323.8" y1="405.1" x2="365.0" y2="408.8" stroke-width="1.50" stroke-opacity="0.33"/><line x1="323.8" y1="405.1" x2="565.2" y2="437.4" stroke-width="1.50" stroke-opacity="0.33"/><line x1="323.8" y1="405.1" x2="584.0" y2="436.4" stroke-width="1.50" stroke-opacity="0.33"/><line x1="337.6" y1="411.5" x2="357.4" y2="378.3" stroke-width="1.50" stroke-opacity="0.33"/><line x1="337.6" y1="411.5" x2="360.0" y2="389.3" stroke-width="1.50" stroke-opacity="0.33"/><line x1="344.3" y1="418.5" x2="357.4" y2="378.3" stroke-width="1.50" stroke-opacity="0.33"/><line x1="344.3" y1="418.5" x2="360.0" y2="389.3" stroke-width="1.50" stroke-opacity="0.33"/><line x1="347.6" y1="401.7" x2="577.6" y2="550.8" stroke-width="1.50" stroke-opacity="0.33"/><line x1="348.3" y1="410.6" x2="347.6" y2="401.7" stroke-width="1.50" stroke-opacity="0.33"/><line x1="348.3" y1="410.6" x2="352.4" y2="425.8" stroke-width="1.50" stroke-opacity="0.33"/><line x1="348.3" y1="410.6" x2="377.7" y2="386.2" stroke-width="1.50" stroke-opacity="0.33"/><line x1="352.4" y1="425.8" x2="577.6" y2="550.8" stroke-width="1.50" stroke-opacity="0.33"/><line x1="355.2" y1="417.0" x2="520.8" y2="437.1" stroke-width="1.50" stroke-opacity="0.33"/><line x1="365.0" y1="408.8" x2="520.8" y2="437.1" stroke-width="1.50" stroke-opacity="0.33"/><line x1="377.7" y1="386.2" x2="577.6" y2="550.8" stroke-width="1.50" stroke-opacity="0.33"/><line x1="520.8" y1="437.1" x2="565.2" y2="437.4" stroke-width="1.50" stroke-opacity="0.33"/><line x1="520.8" y1="437.1" x2="584.0" y2="436.4" stroke-width="1.50" stroke-opacity="0.33"/><line x1="333.7" y1="418.8" x2="338.9" y2="408.8" stroke-width="1.51" stroke-opacity="0.33"/><line x1="147.6" y1="391.8" x2="322.5" y2="430.5" stroke-width="1.52" stroke-opacity="0.34"/><line x1="333.7" y1="418.8" x2="348.3" y2="410.6" stroke-width="1.60" stroke-opacity="0.34"/><line x1="333.7" y1="418.8" x2="577.6" y2="550.8" stroke-width="1.60" stroke-opacity="0.34"/><line x1="338.9" y1="408.8" x2="577.6" y2="550.8" stroke-width="1.60" stroke-opacity="0.34"/><line x1="348.3" y1="410.6" x2="338.9" y2="408.8" stroke-width="1.60" stroke-opacity="0.34"/><line x1="121.3" y1="420.5" x2="231.1" y2="523.6" stroke-width="1.64" stroke-opacity="0.34"/><line x1="121.3" y1="420.5" x2="314.2" y2="406.8" stroke-width="1.64" stroke-opacity="0.34"/><line x1="121.3" y1="420.5" x2="355.2" y2="417.0" stroke-width="1.64" stroke-opacity="0.34"/><line x1="121.3" y1="420.5" x2="365.0" y2="408.8" stroke-width="1.64" stroke-opacity="0.34"/><line x1="121.3" y1="420.5" x2="565.2" y2="437.4" stroke-width="1.64" stroke-opacity="0.34"/><line x1="121.3" y1="420.5" x2="584.0" y2="436.4" stroke-width="1.64" stroke-opacity="0.34"/><line x1="147.6" y1="391.8" x2="347.6" y2="401.7" stroke-width="1.64" stroke-opacity="0.34"/><line x1="147.6" y1="391.8" x2="352.4" y2="425.8" stroke-width="1.64" stroke-opacity="0.34"/><line x1="147.6" y1="391.8" x2="377.7" y2="386.2" stroke-width="1.64" stroke-opacity="0.34"/><line x1="322.5" y1="430.5" x2="357.4" y2="378.3" stroke-width="1.64" stroke-opacity="0.34"/><line x1="322.5" y1="430.5" x2="360.0" y2="389.3" stroke-width="1.64" stroke-opacity="0.34"/><line x1="323.8" y1="405.1" x2="337.6" y2="411.5" stroke-width="1.69" stroke-opacity="0.34"/><line x1="323.8" y1="405.1" x2="344.3" y2="418.5" stroke-width="1.69" stroke-opacity="0.34"/><line x1="337.6" y1="411.5" x2="520.8" y2="437.1" stroke-width="1.69" stroke-opacity="0.34"/><line x1="344.3" y1="418.5" x2="520.8" y2="437.1" stroke-width="1.69" stroke-opacity="0.34"/><line x1="348.3" y1="410.6" x2="577.6" y2="550.8" stroke-width="1.69" stroke-opacity="0.34"/><line x1="147.6" y1="391.8" x2="333.7" y2="418.8" stroke-width="1.76" stroke-opacity="0.34"/><line x1="147.6" y1="391.8" x2="338.9" y2="408.8" stroke-width="1.76" stroke-opacity="0.34"/><line x1="347.6" y1="401.7" x2="357.4" y2="378.3" stroke-width="1.78" stroke-opacity="0.35"/><line x1="347.6" y1="401.7" x2="360.0" y2="389.3" stroke-width="1.78" stroke-opacity="0.35"/><line x1="352.4" y1="425.8" x2="357.4" y2="378.3" stroke-width="1.78" stroke-opacity="0.35"/><line x1="352.4" y1="425.8" x2="360.0" y2="389.3" stroke-width="1.78" stroke-opacity="0.35"/><line x1="357.4" y1="378.3" x2="377.7" y2="386.2" stroke-width="1.78" stroke-opacity="0.35"/><line x1="360.0" y1="389.3" x2="377.7" y2="386.2" stroke-width="1.78" stroke-opacity="0.35"/><line x1="121.3" y1="420.5" x2="337.6" y2="411.5" stroke-width="1.86" stroke-opacity="0.35"/><line x1="121.3" y1="420.5" x2="344.3" y2="418.5" stroke-width="1.86" stroke-opacity="0.35"/><line x1="147.6" y1="391.8" x2="348.3" y2="410.6" stroke-width="1.86" stroke-opacity="0.35"/><line x1="147.6" y1="391.8" x2="577.6" y2="550.8" stroke-width="1.86" stroke-opacity="0.35"/><line x1="322.5" y1="430.5" x2="520.8" y2="437.1" stroke-width="1.86" stroke-opacity="0.35"/><line x1="323.8" y1="405.1" x2="322.5" y2="430.5" stroke-width="1.86" stroke-opacity="0.35"/><line x1="333.7" y1="418.8" x2="357.4" y2="378.3" stroke-width="1.90" stroke-opacity="0.35"/><line x1="333.7" y1="418.8" x2="360.0" y2="389.3" stroke-width="1.90" stroke-opacity="0.35"/><line x1="338.9" y1="408.8" x2="357.4" y2="378.3" stroke-width="1.90" stroke-opacity="0.35"/><line x1="338.9" y1="408.8" x2="360.0" y2="389.3" stroke-width="1.90" stroke-opacity="0.35"/><line x1="323.8" y1="405.1" x2="347.6" y2="401.7" stroke-width="2.01" stroke-opacity="0.36"/><line x1="323.8" y1="405.1" x2="352.4" y2="425.8" stroke-width="2.01" stroke-opacity="0.36"/><line x1="323.8" y1="405.1" x2="377.7" y2="386.2" stroke-width="2.01" stroke-opacity="0.36"/><line x1="347.6" y1="401.7" x2="520.8" y2="437.1" stroke-width="2.01" stroke-opacity="0.36"/><line x1="348.3" y1="410.6" x2="357.4" y2="378.3" stroke-width="2.01" stroke-opacity="0.36"/><line x1="348.3" y1="410.6" x2="360.0" y2="389.3" stroke-width="2.01" stroke-opacity="0.36"/><line x1="352.4" y1="425.8" x2="520.8" y2="437.1" stroke-width="2.01" stroke-opacity="0.36"/><line x1="357.4" y1="378.3" x2="577.6" y2="550.8" stroke-width="2.01" stroke-opacity="0.36"/><line x1="360.0" y1="389.3" x2="577.6" y2="550.8" stroke-width="2.01" stroke-opacity="0.36"/><line x1="377.7" y1="386.2" x2="520.8" y2="437.1" stroke-width="2.01" stroke-opacity="0.36"/><line x1="121.3" y1="420.5" x2="322.5" y2="430.5" stroke-width="2.05" stroke-opacity="0.36"/><line x1="323.8" y1="405.1" x2="333.7" y2="418.8" stroke-width="2.15" stroke-opacity="0.37"/><line x1="323.8" y1="405.1" x2="338.9" y2="408.8" stroke-width="2.15" stroke-opacity="0.37"/><line x1="333.7" y1="418.8" x2="520.8" y2="437.1" stroke-width="2.15" stroke-opacity="0.37"/><line x1="338.9" y1="408.8" x2="520.8" y2="437.1" stroke-width="2.15" stroke-opacity="0.37"/><line x1="121.3" y1="420.5" x2="347.6" y2="401.7" stroke-width="2.22" stroke-opacity="0.37"/><line x1="121.3" y1="420.5" x2="352.4" y2="425.8" stroke-width="2.22" stroke-opacity="0.37"/><line x1="121.3" y1="420.5" x2="377.7" y2="386.2" stroke-width="2.22" stroke-opacity="0.37"/><line x1="147.6" y1="391.8" x2="357.4" y2="378.3" stroke-width="2.22" stroke-opacity="0.37"/><line x1="147.6" y1="391.8" x2="360.0" y2="389.3" stroke-width="2.22" stroke-opacity="0.37"/><line x1="323.8" y1="405.1" x2="348.3" y2="410.6" stroke-width="2.29" stroke-opacity="0.37"/><line x1="323.8" y1="405.1" x2="577.6" y2="550.8" stroke-width="2.29" stroke-opacity="0.37"/><line x1="348.3" y1="410.6" x2="520.8" y2="437.1" stroke-width="2.29" stroke-opacity="0.37"/><line x1="520.8" y1="437.1" x2="577.6" y2="550.8" stroke-width="2.29" stroke-opacity="0.37"/><line x1="121.3" y1="420.5" x2="333.7" y2="418.8" stroke-width="2.38" stroke-opacity="0.38"/><line x1="121.3" y1="420.5" x2="338.9" y2="408.8" stroke-width="2.38" stroke-opacity="0.38"/><line x1="357.4" y1="378.3" x2="360.0" y2="389.3" stroke-width="2.41" stroke-opacity="0.38"/><line x1="121.3" y1="420.5" x2="348.3" y2="410.6" stroke-width="2.53" stroke-opacity="0.39"/><line x1="121.3" y1="420.5" x2="577.6" y2="550.8" stroke-width="2.53" stroke-opacity="0.39"/><line x1="147.6" y1="391.8" x2="323.8" y2="405.1" stroke-width="2.53" stroke-opacity="0.39"/><line x1="147.6" y1="391.8" x2="520.8" y2="437.1" stroke-width="2.53" stroke-opacity="0.39"/><line x1="323.8" y1="405.1" x2="357.4" y2="378.3" stroke-width="2.74" stroke-opacity="0.41"/><line x1="323.8" y1="405.1" x2="360.0" y2="389.3" stroke-width="2.74" stroke-opacity="0.41"/><line x1="357.4" y1="378.3" x2="520.8" y2="437.1" stroke-width="2.74" stroke-opacity="0.41"/><line x1="360.0" y1="389.3" x2="520.8" y2="437.1" stroke-width="2.74" stroke-opacity="0.41"/><line x1="121.3" y1="420.5" x2="147.6" y2="391.8" stroke-width="2.80" stroke-opacity="0.41"/><line x1="121.3" y1="420.5" x2="357.4" y2="378.3" stroke-width="3.04" stroke-opacity="0.43"/><line x1="121.3" y1="420.5" x2="360.0" y2="389.3" stroke-width="3.04" stroke-opacity="0.43"/><line x1="323.8" y1="405.1" x2="520.8" y2="437.1" stroke-width="3.13" stroke-opacity="0.44"/><line x1="121.3" y1="420.5" x2="323.8" y2="405.1" stroke-width="3.40" stroke-opacity="0.45"/><line x1="121.3" y1="420.5" x2="520.8" y2="437.1" stroke-width="3.40" stroke-opacity="0.45"/></g>
<defs><linearGradient id="lg1" x1="0" y1="0" x2="0" y2="1"><stop offset="0" stop-color="#3a64c8"/><stop offset="1" stop-color="#22a4f2"/></linearGradient></defs><polygon points="636.5,595.6 651.1,603.8 651.1,620.2 636.5,628.4 621.9,620.2 621.9,603.8" fill="url(#lg1)"/><polygon points="636.5,598.1 648.8,605.0 648.8,619.0 636.5,625.9 624.2,619.0 624.2,605.0" fill="none" stroke="#fff" stroke-width="1"/><polygon points="636.5,603.0 639.1,607.0 633.9,607.0" fill="#fff"/><rect x="624.2" y="607.0" width="24.6" height="2.6" fill="#fff"/><path d="M634.5,610.5 h4 l1,3 h-5 z M633.5,614.5 q4,-1 6,1 q-4,2 -6,1 z M633.5,617.5 q4,-1 6,1 q-4,2 -6,1 z M633.5,620.5 q4,-1 6,1 q-4,2 -6,1 z" fill="#fff"/>
<text x="0.3" y="684.8" class="pl">C</text>
<g fill="none"><path d="M217.1,800.0 Q246.4,808.7 273.7,794.8" stroke="#4ebc4e" stroke-width="0.44" stroke-opacity="0.23"/><path d="M265.5,753.3 Q197.6,778.6 165.8,843.8" stroke="#4ebc4e" stroke-width="0.47" stroke-opacity="0.23"/><path d="M217.7,869.7 Q198.0,895.1 201.2,927.0" stroke="#cdcd3a" stroke-width="0.48" stroke-opacity="0.23"/><path d="M162.0,812.5 Q175.1,823.2 192.0,822.0" stroke="#f5a33a" stroke-width="0.49" stroke-opacity="0.23"/><path d="M313.9,772.7 Q260.0,767.0 217.1,800.0" stroke="#4ebc4e" stroke-width="0.49" stroke-opacity="0.23"/><path d="M273.7,794.8 Q227.4,792.1 192.0,822.0" stroke="#4ebc4e" stroke-width="0.49" stroke-opacity="0.23"/><path d="M188.2,789.5 Q240.7,826.3 304.0,816.7" stroke="#4ebc4e" stroke-width="0.49" stroke-opacity="0.23"/><path d="M192.0,822.0 Q230.3,845.3 274.2,835.8" stroke="#4ebc4e" stroke-width="0.49" stroke-opacity="0.23"/><path d="M217.1,800.0 Q249.4,845.2 304.0,855.6" stroke="#4ebc4e" stroke-width="0.49" stroke-opacity="0.23"/><path d="M192.0,822.0 Q140.9,836.5 114.0,882.3" stroke="#cdcd3a" stroke-width="0.49" stroke-opacity="0.23"/><path d="M192.0,822.0 Q179.7,858.7 196.2,893.8" stroke="#cdcd3a" stroke-width="0.49" stroke-opacity="0.23"/><path d="M192.0,822.0 Q197.6,867.9 233.3,897.2" stroke="#cdcd3a" stroke-width="0.49" stroke-opacity="0.23"/><path d="M139.3,827.9 Q132.3,843.4 138.0,859.4" stroke="#30c2d0" stroke-width="0.51" stroke-opacity="0.24"/><path d="M132.0,756.5 Q111.9,760.6 100.2,777.4" stroke="#e14444" stroke-width="0.51" stroke-opacity="0.24"/><path d="M265.5,753.3 Q272.1,792.7 304.0,816.7" stroke="#4ebc4e" stroke-width="0.51" stroke-opacity="0.24"/><path d="M313.9,772.7 Q300.1,792.7 304.0,816.7" stroke="#4ebc4e" stroke-width="0.51" stroke-opacity="0.24"/><path d="M304.0,816.7 Q296.2,836.2 304.0,855.6" stroke="#4ebc4e" stroke-width="0.51" stroke-opacity="0.24"/><path d="M138.0,859.4 Q150.4,873.5 169.1,875.2" stroke="#30c2d0" stroke-width="0.53" stroke-opacity="0.24"/><path d="M169.1,875.2 Q189.3,916.6 232.5,932.7" stroke="#cdcd3a" stroke-width="0.53" stroke-opacity="0.24"/><path d="M100.2,777.4 Q137.2,818.1 192.0,822.0" stroke="#e14444" stroke-width="0.54" stroke-opacity="0.24"/><path d="M304.0,816.7 Q246.9,797.0 192.0,822.0" stroke="#4ebc4e" stroke-width="0.54" stroke-opacity="0.24"/><path d="M196.2,893.8 Q192.1,911.4 201.2,927.0" stroke="#cdcd3a" stroke-width="0.56" stroke-opacity="0.24"/><path d="M233.3,897.2 Q211.3,905.7 201.2,927.0" stroke="#cdcd3a" stroke-width="0.56" stroke-opacity="0.24"/><path d="M192.4,854.4 Q130.9,837.1 74.5,867.0" stroke="#cdcd3a" stroke-width="0.57" stroke-opacity="0.24"/><path d="M192.4,854.4 Q238.3,899.8 302.8,901.0" stroke="#cdcd3a" stroke-width="0.57" stroke-opacity="0.24"/><path d="M233.7,701.2 Q211.0,728.8 213.6,764.5" stroke="#cdcd3a" stroke-width="0.57" stroke-opacity="0.24"/><path d="M165.8,843.8 Q202.7,867.3 245.7,858.9" stroke="#4ebc4e" stroke-width="0.58" stroke-opacity="0.24"/><path d="M165.8,843.8 Q166.9,892.5 201.2,927.0" stroke="#cdcd3a" stroke-width="0.58" stroke-opacity="0.24"/><path d="M169.1,875.2 Q194.5,882.2 217.7,869.7" stroke="#5294d7" stroke-width="0.59" stroke-opacity="0.24"/><path d="M188.2,789.5 Q203.1,835.7 245.7,858.9" stroke="#4ebc4e" stroke-width="0.59" stroke-opacity="0.24"/><path d="M217.1,800.0 Q219.6,835.2 245.7,858.9" stroke="#4ebc4e" stroke-width="0.59" stroke-opacity="0.24"/><path d="M217.1,800.0 Q183.7,860.3 201.2,927.0" stroke="#cdcd3a" stroke-width="0.59" stroke-opacity="0.24"/><path d="M217.5,835.7 Q191.1,878.1 201.2,927.0" stroke="#cdcd3a" stroke-width="0.59" stroke-opacity="0.24"/><path d="M77.7,810.3 Q86.6,830.4 107.0,838.8" stroke="#e14444" stroke-width="0.59" stroke-opacity="0.24"/><path d="M126.4,799.4 Q120.2,831.7 138.0,859.4" stroke="#30c2d0" stroke-width="0.59" stroke-opacity="0.24"/><path d="M245.0,824.5 Q217.1,876.1 232.5,932.7" stroke="#cdcd3a" stroke-width="0.59" stroke-opacity="0.24"/><path d="M213.6,764.5 Q123.6,787.9 74.5,867.0" stroke="#cdcd3a" stroke-width="0.60" stroke-opacity="0.24"/><path d="M213.6,764.5 Q230.9,850.6 302.8,901.0" stroke="#cdcd3a" stroke-width="0.60" stroke-opacity="0.24"/><path d="M107.0,838.8 Q135.4,853.1 165.8,843.8" stroke="#e14444" stroke-width="0.62" stroke-opacity="0.24"/><path d="M67.9,768.4 Q113.0,836.3 192.4,854.4" stroke="#e14444" stroke-width="0.62" stroke-opacity="0.24"/><path d="M77.7,810.3 Q126.2,855.3 192.4,854.4" stroke="#e14444" stroke-width="0.62" stroke-opacity="0.24"/><path d="M265.5,753.3 Q234.5,802.1 245.7,858.9" stroke="#4ebc4e" stroke-width="0.62" stroke-opacity="0.24"/><path d="M313.9,772.7 Q262.6,802.2 245.7,858.9" stroke="#4ebc4e" stroke-width="0.62" stroke-opacity="0.24"/><path d="M273.7,794.8 Q221.1,808.3 192.4,854.4" stroke="#4ebc4e" stroke-width="0.62" stroke-opacity="0.24"/><path d="M304.0,816.7 Q266.4,826.1 245.7,858.9" stroke="#4ebc4e" stroke-width="0.62" stroke-opacity="0.24"/><path d="M274.2,835.8 Q229.6,828.7 192.4,854.4" stroke="#4ebc4e" stroke-width="0.62" stroke-opacity="0.24"/><path d="M192.4,854.4 Q169.0,878.5 168.6,912.1" stroke="#5294d7" stroke-width="0.62" stroke-opacity="0.24"/><path d="M304.0,855.6 Q274.2,845.6 245.7,858.9" stroke="#4ebc4e" stroke-width="0.62" stroke-opacity="0.24"/><path d="M192.4,854.4 Q228.3,882.5 273.7,878.1" stroke="#4ebc4e" stroke-width="0.62" stroke-opacity="0.24"/><path d="M273.7,878.1 Q262.2,896.1 266.3,917.1" stroke="#4ebc4e" stroke-width="0.62" stroke-opacity="0.24"/><path d="M192.4,854.4 Q147.6,852.7 114.0,882.3" stroke="#cdcd3a" stroke-width="0.62" stroke-opacity="0.24"/><path d="M192.4,854.4 Q186.4,874.9 196.2,893.8" stroke="#cdcd3a" stroke-width="0.62" stroke-opacity="0.24"/><path d="M196.2,893.8 Q206.6,920.5 232.5,932.7" stroke="#cdcd3a" stroke-width="0.62" stroke-opacity="0.24"/><path d="M233.3,897.2 Q225.8,914.8 232.5,932.7" stroke="#cdcd3a" stroke-width="0.62" stroke-opacity="0.24"/><path d="M192.4,854.4 Q204.3,884.0 233.3,897.2" stroke="#cdcd3a" stroke-width="0.62" stroke-opacity="0.24"/><path d="M192.4,854.4 Q146.8,877.1 129.4,925.0" stroke="#5294d7" stroke-width="0.62" stroke-opacity="0.24"/><path d="M180.9,756.5 Q151.3,813.5 169.1,875.2" stroke="#5294d7" stroke-width="0.63" stroke-opacity="0.24"/><path d="M180.9,756.5 Q176.7,820.5 217.7,869.7" stroke="#5294d7" stroke-width="0.63" stroke-opacity="0.24"/><path d="M165.8,843.8 Q148.8,846.0 138.0,859.4" stroke="#30c2d0" stroke-width="0.64" stroke-opacity="0.25"/><path d="M165.8,843.8 Q201.4,900.6 266.3,917.1" stroke="#4ebc4e" stroke-width="0.64" stroke-opacity="0.25"/><path d="M165.8,843.8 Q181.4,901.6 232.5,932.7" stroke="#cdcd3a" stroke-width="0.64" stroke-opacity="0.25"/><path d="M67.9,768.4 Q108.1,793.4 154.5,783.8" stroke="#e14444" stroke-width="0.64" stroke-opacity="0.25"/><path d="M67.9,768.4 Q91.7,812.4 139.3,827.9" stroke="#e14444" stroke-width="0.64" stroke-opacity="0.25"/><path d="M154.5,783.8 Q110.8,781.7 77.7,810.3" stroke="#e14444" stroke-width="0.64" stroke-opacity="0.25"/><path d="M171.0,709.4 Q181.3,745.5 213.6,764.5" stroke="#e14444" stroke-width="0.65" stroke-opacity="0.25"/><path d="M67.9,768.4 Q141.5,795.6 213.6,764.5" stroke="#e14444" stroke-width="0.65" stroke-opacity="0.25"/><path d="M77.7,810.3 Q154.8,814.6 213.6,764.5" stroke="#e14444" stroke-width="0.65" stroke-opacity="0.25"/><path d="M162.0,812.5 Q197.4,798.8 213.6,764.5" stroke="#f5a33a" stroke-width="0.65" stroke-opacity="0.25"/><path d="M286.6,711.8 Q239.6,723.5 213.6,764.5" stroke="#ba94ec" stroke-width="0.65" stroke-opacity="0.25"/><path d="M126.4,799.4 Q132.6,845.8 169.1,875.2" stroke="#5294d7" stroke-width="0.65" stroke-opacity="0.25"/><path d="M213.6,764.5 Q140.2,803.5 114.0,882.3" stroke="#cdcd3a" stroke-width="0.65" stroke-opacity="0.25"/><path d="M213.6,764.5 Q179.0,825.7 196.2,893.8" stroke="#cdcd3a" stroke-width="0.65" stroke-opacity="0.25"/><path d="M213.6,764.5 Q196.9,834.8 233.3,897.2" stroke="#cdcd3a" stroke-width="0.65" stroke-opacity="0.25"/><path d="M217.1,800.0 Q198.3,869.4 232.5,932.7" stroke="#cdcd3a" stroke-width="0.66" stroke-opacity="0.25"/><path d="M217.1,800.0 Q165.7,813.9 138.0,859.4" stroke="#30c2d0" stroke-width="0.66" stroke-opacity="0.25"/><path d="M188.2,789.5 Q149.1,814.4 138.0,859.4" stroke="#30c2d0" stroke-width="0.66" stroke-opacity="0.25"/><path d="M217.5,835.7 Q173.0,831.6 138.0,859.4" stroke="#30c2d0" stroke-width="0.66" stroke-opacity="0.25"/><path d="M192.0,822.0 Q211.5,851.2 245.7,858.9" stroke="#4ebc4e" stroke-width="0.66" stroke-opacity="0.25"/><path d="M188.2,789.5 Q201.7,868.9 266.3,917.1" stroke="#4ebc4e" stroke-width="0.66" stroke-opacity="0.25"/><path d="M217.1,800.0 Q218.3,868.4 266.3,917.1" stroke="#4ebc4e" stroke-width="0.66" stroke-opacity="0.25"/><path d="M192.0,822.0 Q175.6,876.3 201.2,927.0" stroke="#cdcd3a" stroke-width="0.66" stroke-opacity="0.25"/><path d="M188.2,789.5 Q181.7,870.0 232.5,932.7" stroke="#cdcd3a" stroke-width="0.66" stroke-opacity="0.25"/><path d="M132.7,721.0 Q96.3,774.8 107.0,838.8" stroke="#e14444" stroke-width="0.66" stroke-opacity="0.25"/><path d="M97.7,737.7 Q82.1,790.1 107.0,838.8" stroke="#e14444" stroke-width="0.66" stroke-opacity="0.25"/><path d="M100.2,777.4 Q91.3,809.5 107.0,838.8" stroke="#e14444" stroke-width="0.66" stroke-opacity="0.25"/><path d="M154.5,783.8 Q148.2,816.1 165.8,843.8" stroke="#e14444" stroke-width="0.67" stroke-opacity="0.25"/><path d="M139.3,827.9 Q149.4,841.1 165.8,843.8" stroke="#e14444" stroke-width="0.67" stroke-opacity="0.25"/><path d="M169.1,875.2 Q161.5,893.6 168.6,912.1" stroke="#5294d7" stroke-width="0.68" stroke-opacity="0.25"/><path d="M217.7,869.7 Q176.8,897.1 166.1,945.1" stroke="#5294d7" stroke-width="0.68" stroke-opacity="0.25"/><path d="M169.1,875.2 Q153.6,909.6 166.1,945.1" stroke="#5294d7" stroke-width="0.68" stroke-opacity="0.25"/><path d="M180.9,756.5 Q199.3,803.3 245.0,824.5" stroke="#e14444" stroke-width="0.69" stroke-opacity="0.25"/><path d="M154.5,783.8 Q170.2,793.4 188.2,789.5" stroke="#e14444" stroke-width="0.69" stroke-opacity="0.25"/><path d="M154.5,783.8 Q182.6,804.4 217.1,800.0" stroke="#e14444" stroke-width="0.69" stroke-opacity="0.25"/><path d="M139.3,827.9 Q171.4,818.5 188.2,789.5" stroke="#e14444" stroke-width="0.69" stroke-opacity="0.25"/><path d="M126.4,799.4 Q132.6,845.8 169.1,875.2" stroke="#5294d7" stroke-width="0.69" stroke-opacity="0.25"/><path d="M126.4,799.4 Q158.0,852.8 217.7,869.7" stroke="#5294d7" stroke-width="0.69" stroke-opacity="0.25"/><path d="M245.0,824.5 Q196.9,834.7 169.1,875.2" stroke="#5294d7" stroke-width="0.69" stroke-opacity="0.25"/><path d="M245.0,824.5 Q222.3,841.6 217.7,869.7" stroke="#5294d7" stroke-width="0.69" stroke-opacity="0.25"/><path d="M132.7,721.0 Q135.9,799.6 192.4,854.4" stroke="#e14444" stroke-width="0.69" stroke-opacity="0.25"/><path d="M97.7,737.7 Q121.7,815.0 192.4,854.4" stroke="#e14444" stroke-width="0.69" stroke-opacity="0.25"/><path d="M132.0,756.5 Q142.6,817.5 192.4,854.4" stroke="#e14444" stroke-width="0.69" stroke-opacity="0.25"/><path d="M100.2,777.4 Q130.9,834.3 192.4,854.4" stroke="#e14444" stroke-width="0.69" stroke-opacity="0.25"/><path d="M233.7,701.2 Q222.0,746.1 244.5,786.7" stroke="#cdcd3a" stroke-width="0.69" stroke-opacity="0.25"/><path d="M265.5,753.3 Q208.7,789.2 192.4,854.4" stroke="#4ebc4e" stroke-width="0.69" stroke-opacity="0.25"/><path d="M313.9,772.7 Q236.8,789.2 192.4,854.4" stroke="#4ebc4e" stroke-width="0.69" stroke-opacity="0.25"/><path d="M304.0,816.7 Q240.7,813.2 192.4,854.4" stroke="#4ebc4e" stroke-width="0.69" stroke-opacity="0.25"/><path d="M192.4,854.4 Q248.0,877.3 304.0,855.6" stroke="#4ebc4e" stroke-width="0.69" stroke-opacity="0.25"/><path d="M265.5,753.3 Q233.1,835.4 266.3,917.1" stroke="#4ebc4e" stroke-width="0.69" stroke-opacity="0.25"/><path d="M313.9,772.7 Q261.2,835.4 266.3,917.1" stroke="#4ebc4e" stroke-width="0.69" stroke-opacity="0.25"/><path d="M304.0,816.7 Q265.1,859.4 266.3,917.1" stroke="#4ebc4e" stroke-width="0.69" stroke-opacity="0.25"/><path d="M304.0,855.6 Q272.8,878.8 266.3,917.1" stroke="#4ebc4e" stroke-width="0.69" stroke-opacity="0.25"/><path d="M107.0,838.8 Q152.9,847.4 192.0,822.0" stroke="#e14444" stroke-width="0.71" stroke-opacity="0.25"/><path d="M171.0,709.4 Q166.5,734.9 180.9,756.5" stroke="#e14444" stroke-width="0.71" stroke-opacity="0.25"/><path d="M180.9,756.5 Q122.0,739.9 67.9,768.4" stroke="#e14444" stroke-width="0.71" stroke-opacity="0.25"/><path d="M180.9,756.5 Q118.5,762.8 77.7,810.3" stroke="#e14444" stroke-width="0.71" stroke-opacity="0.25"/><path d="M132.7,721.0 Q131.0,756.8 154.5,783.8" stroke="#e14444" stroke-width="0.72" stroke-opacity="0.25"/><path d="M132.7,721.0 Q114.6,775.8 139.3,827.9" stroke="#e14444" stroke-width="0.72" stroke-opacity="0.25"/><path d="M97.7,737.7 Q116.9,772.1 154.5,783.8" stroke="#e14444" stroke-width="0.72" stroke-opacity="0.25"/><path d="M97.7,737.7 Q100.5,791.1 139.3,827.9" stroke="#e14444" stroke-width="0.72" stroke-opacity="0.25"/><path d="M132.0,756.5 Q121.4,793.7 139.3,827.9" stroke="#e14444" stroke-width="0.72" stroke-opacity="0.25"/><path d="M132.0,756.5 Q137.8,774.6 154.5,783.8" stroke="#e14444" stroke-width="0.72" stroke-opacity="0.25"/><path d="M100.2,777.4 Q126.1,791.5 154.5,783.8" stroke="#e14444" stroke-width="0.72" stroke-opacity="0.25"/><path d="M100.2,777.4 Q109.7,810.5 139.3,827.9" stroke="#e14444" stroke-width="0.72" stroke-opacity="0.25"/><path d="M165.8,843.8 Q108.2,864.2 80.5,918.8" stroke="#5294d7" stroke-width="0.72" stroke-opacity="0.25"/><path d="M217.1,800.0 Q203.5,835.0 217.7,869.7" stroke="#5294d7" stroke-width="0.72" stroke-opacity="0.25"/><path d="M217.1,800.0 Q178.1,828.0 169.1,875.2" stroke="#5294d7" stroke-width="0.72" stroke-opacity="0.25"/><path d="M217.5,835.7 Q185.4,845.8 169.1,875.2" stroke="#5294d7" stroke-width="0.72" stroke-opacity="0.25"/><path d="M217.5,835.7 Q210.8,852.7 217.7,869.7" stroke="#5294d7" stroke-width="0.72" stroke-opacity="0.25"/><path d="M244.5,786.7 Q143.4,792.9 74.5,867.0" stroke="#cdcd3a" stroke-width="0.73" stroke-opacity="0.25"/><path d="M244.5,786.7 Q250.8,855.5 302.8,901.0" stroke="#cdcd3a" stroke-width="0.73" stroke-opacity="0.25"/><path d="M132.7,721.0 Q164.4,758.9 213.6,764.5" stroke="#e14444" stroke-width="0.73" stroke-opacity="0.25"/><path d="M97.7,737.7 Q150.3,774.3 213.6,764.5" stroke="#e14444" stroke-width="0.73" stroke-opacity="0.25"/><path d="M132.0,756.5 Q171.2,776.8 213.6,764.5" stroke="#e14444" stroke-width="0.73" stroke-opacity="0.25"/><path d="M100.2,777.4 Q159.5,793.6 213.6,764.5" stroke="#e14444" stroke-width="0.73" stroke-opacity="0.25"/><path d="M126.4,799.4 Q180.7,835.7 245.0,824.5" stroke="#e14444" stroke-width="0.73" stroke-opacity="0.25"/><path d="M192.0,822.0 Q157.5,829.9 138.0,859.4" stroke="#30c2d0" stroke-width="0.74" stroke-opacity="0.25"/><path d="M192.0,822.0 Q210.1,884.4 266.3,917.1" stroke="#4ebc4e" stroke-width="0.74" stroke-opacity="0.25"/><path d="M188.2,789.5 Q108.5,832.6 80.5,918.8" stroke="#5294d7" stroke-width="0.74" stroke-opacity="0.25"/><path d="M192.0,822.0 Q190.1,885.5 232.5,932.7" stroke="#cdcd3a" stroke-width="0.74" stroke-opacity="0.25"/><path d="M180.9,756.5 Q145.1,767.1 126.4,799.4" stroke="#e14444" stroke-width="0.74" stroke-opacity="0.25"/><path d="M180.9,756.5 Q199.3,803.3 245.0,824.5" stroke="#e14444" stroke-width="0.74" stroke-opacity="0.25"/><path d="M180.9,756.5 Q155.9,797.1 165.8,843.8" stroke="#e14444" stroke-width="0.74" stroke-opacity="0.25"/><path d="M171.0,709.4 Q130.7,745.5 126.4,799.4" stroke="#e14444" stroke-width="0.76" stroke-opacity="0.25"/><path d="M67.9,768.4 Q91.0,795.6 126.4,799.4" stroke="#e14444" stroke-width="0.76" stroke-opacity="0.25"/><path d="M126.4,799.4 Q99.9,795.1 77.7,810.3" stroke="#e14444" stroke-width="0.76" stroke-opacity="0.25"/><path d="M245.0,824.5 Q167.1,851.6 129.4,925.0" stroke="#5294d7" stroke-width="0.76" stroke-opacity="0.25"/><path d="M245.0,824.5 Q189.3,853.0 168.6,912.1" stroke="#5294d7" stroke-width="0.76" stroke-opacity="0.25"/><path d="M180.9,756.5 Q178.0,774.5 188.2,789.5" stroke="#e14444" stroke-width="0.76" stroke-opacity="0.25"/><path d="M180.9,756.5 Q190.3,785.5 217.1,800.0" stroke="#e14444" stroke-width="0.76" stroke-opacity="0.25"/><path d="M180.9,756.5 Q183.4,803.4 217.5,835.7" stroke="#e14444" stroke-width="0.76" stroke-opacity="0.25"/><path d="M154.5,783.8 Q165.6,810.4 192.0,822.0" stroke="#e14444" stroke-width="0.77" stroke-opacity="0.25"/><path d="M139.3,827.9 Q166.8,835.5 192.0,822.0" stroke="#e14444" stroke-width="0.77" stroke-opacity="0.25"/><path d="M165.8,843.8 Q161.2,860.2 169.1,875.2" stroke="#5294d7" stroke-width="0.77" stroke-opacity="0.25"/><path d="M165.8,843.8 Q186.6,867.1 217.7,869.7" stroke="#5294d7" stroke-width="0.77" stroke-opacity="0.25"/><path d="M192.4,854.4 Q160.2,864.2 143.7,893.5" stroke="#5294d7" stroke-width="0.78" stroke-opacity="0.25"/><path d="M126.4,799.4 Q137.2,829.5 165.8,843.8" stroke="#e14444" stroke-width="0.79" stroke-opacity="0.26"/><path d="M171.0,709.4 Q192.3,762.8 244.5,786.7" stroke="#e14444" stroke-width="0.79" stroke-opacity="0.26"/><path d="M67.9,768.4 Q152.5,812.9 244.5,786.7" stroke="#e14444" stroke-width="0.79" stroke-opacity="0.26"/><path d="M77.7,810.3 Q165.8,831.9 244.5,786.7" stroke="#e14444" stroke-width="0.79" stroke-opacity="0.26"/><path d="M162.0,812.5 Q208.4,816.1 244.5,786.7" stroke="#f5a33a" stroke-width="0.79" stroke-opacity="0.26"/><path d="M244.5,786.7 Q257.5,796.6 273.7,794.8" stroke="#4ebc4e" stroke-width="0.79" stroke-opacity="0.26"/><path d="M244.5,786.7 Q249.5,817.2 274.2,835.8" stroke="#4ebc4e" stroke-width="0.79" stroke-opacity="0.26"/><path d="M244.5,786.7 Q216.8,839.7 233.3,897.2" stroke="#cdcd3a" stroke-width="0.79" stroke-opacity="0.26"/><path d="M244.5,786.7 Q181.5,834.2 168.6,912.1" stroke="#5294d7" stroke-width="0.79" stroke-opacity="0.26"/><path d="M244.5,786.7 Q240.8,838.2 273.7,878.1" stroke="#4ebc4e" stroke-width="0.79" stroke-opacity="0.26"/><path d="M244.5,786.7 Q160.1,808.4 114.0,882.3" stroke="#cdcd3a" stroke-width="0.79" stroke-opacity="0.26"/><path d="M244.5,786.7 Q198.9,830.6 196.2,893.8" stroke="#cdcd3a" stroke-width="0.79" stroke-opacity="0.26"/><path d="M244.5,786.7 Q159.3,832.8 129.4,925.0" stroke="#5294d7" stroke-width="0.79" stroke-opacity="0.26"/><path d="M244.5,786.7 Q173.6,850.2 166.1,945.1" stroke="#5294d7" stroke-width="0.79" stroke-opacity="0.26"/><path d="M132.7,721.0 Q149.7,748.4 180.9,756.5" stroke="#e14444" stroke-width="0.80" stroke-opacity="0.26"/><path d="M97.7,737.7 Q135.5,763.7 180.9,756.5" stroke="#e14444" stroke-width="0.80" stroke-opacity="0.26"/><path d="M132.0,756.5 Q156.4,766.3 180.9,756.5" stroke="#e14444" stroke-width="0.80" stroke-opacity="0.26"/><path d="M180.9,756.5 Q136.4,750.8 100.2,777.4" stroke="#e14444" stroke-width="0.80" stroke-opacity="0.26"/><path d="M188.2,789.5 Q161.5,828.5 169.1,875.2" stroke="#5294d7" stroke-width="0.80" stroke-opacity="0.26"/><path d="M188.2,789.5 Q186.9,835.5 217.7,869.7" stroke="#5294d7" stroke-width="0.80" stroke-opacity="0.26"/><path d="M217.1,800.0 Q178.1,828.0 169.1,875.2" stroke="#5294d7" stroke-width="0.80" stroke-opacity="0.26"/><path d="M217.1,800.0 Q203.5,835.0 217.7,869.7" stroke="#5294d7" stroke-width="0.80" stroke-opacity="0.26"/><path d="M217.5,835.7 Q185.4,845.8 169.1,875.2" stroke="#5294d7" stroke-width="0.80" stroke-opacity="0.26"/><path d="M217.5,835.7 Q210.8,852.7 217.7,869.7" stroke="#5294d7" stroke-width="0.80" stroke-opacity="0.26"/><path d="M126.4,799.4 Q180.7,835.7 245.0,824.5" stroke="#e14444" stroke-width="0.80" stroke-opacity="0.26"/><path d="M126.4,799.4 Q159.3,806.8 188.2,789.5" stroke="#e14444" stroke-width="0.81" stroke-opacity="0.26"/><path d="M126.4,799.4 Q171.6,817.8 217.1,800.0" stroke="#e14444" stroke-width="0.81" stroke-opacity="0.26"/><path d="M126.4,799.4 Q164.7,835.8 217.5,835.7" stroke="#e14444" stroke-width="0.81" stroke-opacity="0.26"/><path d="M217.1,800.0 Q226.2,817.8 245.0,824.5" stroke="#5294d7" stroke-width="0.81" stroke-opacity="0.26"/><path d="M245.0,824.5 Q229.0,824.6 217.5,835.7" stroke="#5294d7" stroke-width="0.81" stroke-opacity="0.26"/><path d="M213.6,764.5 Q152.8,815.0 143.7,893.5" stroke="#5294d7" stroke-width="0.82" stroke-opacity="0.26"/><path d="M165.8,843.8 Q153.5,878.5 168.6,912.1" stroke="#5294d7" stroke-width="0.82" stroke-opacity="0.26"/><path d="M165.8,843.8 Q145.7,894.5 166.1,945.1" stroke="#5294d7" stroke-width="0.82" stroke-opacity="0.26"/><path d="M165.8,843.8 Q131.4,877.1 129.4,925.0" stroke="#5294d7" stroke-width="0.82" stroke-opacity="0.26"/><path d="M180.9,756.5 Q155.9,797.1 165.8,843.8" stroke="#e14444" stroke-width="0.83" stroke-opacity="0.26"/><path d="M286.6,711.8 Q234.2,742.0 217.1,800.0" stroke="#ba94ec" stroke-width="0.84" stroke-opacity="0.26"/><path d="M273.7,794.8 Q237.4,804.0 217.5,835.7" stroke="#4ebc4e" stroke-width="0.84" stroke-opacity="0.26"/><path d="M217.5,835.7 Q237.1,868.1 273.7,878.1" stroke="#4ebc4e" stroke-width="0.84" stroke-opacity="0.26"/><path d="M217.5,835.7 Q245.8,847.1 274.2,835.8" stroke="#4ebc4e" stroke-width="0.84" stroke-opacity="0.26"/><path d="M192.4,854.4 Q182.3,892.5 201.2,927.0" stroke="#cdcd3a" stroke-width="0.84" stroke-opacity="0.26"/><path d="M192.4,854.4 Q218.2,867.3 245.7,858.9" stroke="#4ebc4e" stroke-width="0.84" stroke-opacity="0.26"/><path d="M245.7,858.9 Q244.4,892.1 266.3,917.1" stroke="#4ebc4e" stroke-width="0.84" stroke-opacity="0.26"/><path d="M188.2,789.5 Q131.7,845.5 129.4,925.0" stroke="#5294d7" stroke-width="0.84" stroke-opacity="0.26"/><path d="M201.2,927.0 Q215.7,936.1 232.5,932.7" stroke="#cdcd3a" stroke-width="0.84" stroke-opacity="0.26"/><path d="M188.2,789.5 Q146.0,862.9 166.1,945.1" stroke="#5294d7" stroke-width="0.84" stroke-opacity="0.26"/><path d="M132.7,721.0 Q113.9,758.9 126.4,799.4" stroke="#e14444" stroke-width="0.85" stroke-opacity="0.26"/><path d="M97.7,737.7 Q99.7,774.3 126.4,799.4" stroke="#e14444" stroke-width="0.85" stroke-opacity="0.26"/><path d="M132.0,756.5 Q120.6,776.8 126.4,799.4" stroke="#e14444" stroke-width="0.85" stroke-opacity="0.26"/><path d="M100.2,777.4 Q108.9,793.6 126.4,799.4" stroke="#e14444" stroke-width="0.85" stroke-opacity="0.26"/><path d="M180.9,756.5 Q173.3,791.5 192.0,822.0" stroke="#e14444" stroke-width="0.85" stroke-opacity="0.26"/><path d="M180.9,756.5 Q178.0,774.5 188.2,789.5" stroke="#e14444" stroke-width="0.86" stroke-opacity="0.26"/><path d="M180.9,756.5 Q190.3,785.5 217.1,800.0" stroke="#e14444" stroke-width="0.86" stroke-opacity="0.26"/><path d="M180.9,756.5 Q183.4,803.4 217.5,835.7" stroke="#e14444" stroke-width="0.86" stroke-opacity="0.26"/><path d="M169.1,875.2 Q152.7,879.3 143.7,893.5" stroke="#5294d7" stroke-width="0.86" stroke-opacity="0.26"/><path d="M217.7,869.7 Q175.9,866.8 143.7,893.5" stroke="#5294d7" stroke-width="0.86" stroke-opacity="0.26"/><path d="M217.1,800.0 Q182.7,811.6 165.8,843.8" stroke="#5294d7" stroke-width="0.88" stroke-opacity="0.26"/><path d="M217.5,835.7 Q190.0,829.4 165.8,843.8" stroke="#5294d7" stroke-width="0.88" stroke-opacity="0.26"/><path d="M132.7,721.0 Q175.5,776.2 244.5,786.7" stroke="#e14444" stroke-width="0.88" stroke-opacity="0.26"/><path d="M97.7,737.7 Q161.3,791.6 244.5,786.7" stroke="#e14444" stroke-width="0.88" stroke-opacity="0.26"/><path d="M132.0,756.5 Q182.2,794.1 244.5,786.7" stroke="#e14444" stroke-width="0.88" stroke-opacity="0.26"/><path d="M100.2,777.4 Q170.5,810.9 244.5,786.7" stroke="#e14444" stroke-width="0.88" stroke-opacity="0.26"/><path d="M265.5,753.3 Q248.3,765.8 244.5,786.7" stroke="#4ebc4e" stroke-width="0.88" stroke-opacity="0.26"/><path d="M313.9,772.7 Q276.4,765.8 244.5,786.7" stroke="#4ebc4e" stroke-width="0.88" stroke-opacity="0.26"/><path d="M244.5,786.7 Q268.2,813.6 304.0,816.7" stroke="#4ebc4e" stroke-width="0.88" stroke-opacity="0.26"/><path d="M244.5,786.7 Q260.5,833.1 304.0,855.6" stroke="#4ebc4e" stroke-width="0.88" stroke-opacity="0.26"/><path d="M213.6,764.5 Q174.9,843.3 201.2,927.0" stroke="#cdcd3a" stroke-width="0.89" stroke-opacity="0.26"/><path d="M188.2,789.5 Q193.6,818.5 217.5,835.7" stroke="#5294d7" stroke-width="0.90" stroke-opacity="0.26"/><path d="M188.2,789.5 Q200.5,800.5 217.1,800.0" stroke="#5294d7" stroke-width="0.90" stroke-opacity="0.26"/><path d="M217.1,800.0 Q210.2,817.9 217.5,835.7" stroke="#ba94ec" stroke-width="0.90" stroke-opacity="0.26"/><path d="M126.4,799.4 Q137.2,829.5 165.8,843.8" stroke="#e14444" stroke-width="0.90" stroke-opacity="0.26"/><path d="M245.0,824.5 Q201.5,818.3 165.8,843.8" stroke="#5294d7" stroke-width="0.90" stroke-opacity="0.26"/><path d="M107.0,838.8 Q146.6,863.7 192.4,854.4" stroke="#e14444" stroke-width="0.90" stroke-opacity="0.26"/><path d="M126.4,799.4 Q154.7,823.8 192.0,822.0" stroke="#e14444" stroke-width="0.90" stroke-opacity="0.26"/><path d="M126.4,799.4 Q159.3,806.8 188.2,789.5" stroke="#e14444" stroke-width="0.93" stroke-opacity="0.27"/><path d="M126.4,799.4 Q171.6,817.8 217.1,800.0" stroke="#e14444" stroke-width="0.93" stroke-opacity="0.27"/><path d="M126.4,799.4 Q164.7,835.8 217.5,835.7" stroke="#e14444" stroke-width="0.93" stroke-opacity="0.27"/><path d="M188.2,789.5 Q209.6,818.4 245.0,824.5" stroke="#5294d7" stroke-width="0.93" stroke-opacity="0.27"/><path d="M217.1,800.0 Q226.2,817.8 245.0,824.5" stroke="#5294d7" stroke-width="0.93" stroke-opacity="0.27"/><path d="M192.0,822.0 Q169.9,844.0 169.1,875.2" stroke="#5294d7" stroke-width="0.93" stroke-opacity="0.27"/><path d="M192.0,822.0 Q195.3,851.0 217.7,869.7" stroke="#5294d7" stroke-width="0.93" stroke-opacity="0.27"/><path d="M245.0,824.5 Q229.0,824.6 217.5,835.7" stroke="#5294d7" stroke-width="0.93" stroke-opacity="0.27"/><path d="M154.5,783.8 Q119.8,801.8 107.0,838.8" stroke="#e14444" stroke-width="0.94" stroke-opacity="0.27"/><path d="M139.3,827.9 Q121.0,826.9 107.0,838.8" stroke="#e14444" stroke-width="0.94" stroke-opacity="0.27"/><path d="M265.5,753.3 Q225.0,784.9 217.5,835.7" stroke="#4ebc4e" stroke-width="0.94" stroke-opacity="0.27"/><path d="M313.9,772.7 Q253.1,784.9 217.5,835.7" stroke="#4ebc4e" stroke-width="0.94" stroke-opacity="0.27"/><path d="M304.0,816.7 Q256.9,808.9 217.5,835.7" stroke="#4ebc4e" stroke-width="0.94" stroke-opacity="0.27"/><path d="M192.0,822.0 Q162.3,862.4 168.6,912.1" stroke="#5294d7" stroke-width="0.94" stroke-opacity="0.27"/><path d="M192.0,822.0 Q140.1,861.0 129.4,925.0" stroke="#5294d7" stroke-width="0.94" stroke-opacity="0.27"/><path d="M192.0,822.0 Q154.4,878.4 166.1,945.1" stroke="#5294d7" stroke-width="0.94" stroke-opacity="0.27"/><path d="M217.5,835.7 Q256.8,863.0 304.0,855.6" stroke="#4ebc4e" stroke-width="0.94" stroke-opacity="0.27"/><path d="M192.4,854.4 Q164.2,846.0 138.0,859.4" stroke="#30c2d0" stroke-width="0.94" stroke-opacity="0.27"/><path d="M192.4,854.4 Q196.8,901.6 232.5,932.7" stroke="#cdcd3a" stroke-width="0.94" stroke-opacity="0.27"/><path d="M192.4,854.4 Q216.8,900.5 266.3,917.1" stroke="#4ebc4e" stroke-width="0.94" stroke-opacity="0.27"/><path d="M107.0,838.8 Q175.2,823.0 213.6,764.5" stroke="#e14444" stroke-width="0.95" stroke-opacity="0.27"/><path d="M245.0,824.5 Q180.5,838.7 143.7,893.5" stroke="#5294d7" stroke-width="0.95" stroke-opacity="0.27"/><path d="M154.5,783.8 Q159.3,826.7 192.4,854.4" stroke="#e14444" stroke-width="0.98" stroke-opacity="0.27"/><path d="M139.3,827.9 Q160.6,851.8 192.4,854.4" stroke="#e14444" stroke-width="0.98" stroke-opacity="0.27"/><path d="M213.6,764.5 Q156.8,796.8 138.0,859.4" stroke="#30c2d0" stroke-width="0.99" stroke-opacity="0.27"/><path d="M213.6,764.5 Q189.4,852.4 232.5,932.7" stroke="#cdcd3a" stroke-width="0.99" stroke-opacity="0.27"/><path d="M244.5,786.7 Q172.7,819.9 143.7,893.5" stroke="#5294d7" stroke-width="0.99" stroke-opacity="0.27"/><path d="M180.9,756.5 Q173.3,791.5 192.0,822.0" stroke="#e14444" stroke-width="1.00" stroke-opacity="0.27"/><path d="M217.1,800.0 Q200.2,806.0 192.0,822.0" stroke="#ba94ec" stroke-width="1.00" stroke-opacity="0.27"/><path d="M192.0,822.0 Q202.0,834.0 217.5,835.7" stroke="#4ebc4e" stroke-width="1.00" stroke-opacity="0.27"/><path d="M154.5,783.8 Q138.1,802.8 139.3,827.9" stroke="#e14444" stroke-width="1.01" stroke-opacity="0.27"/><path d="M154.5,783.8 Q187.9,786.0 213.6,764.5" stroke="#e14444" stroke-width="1.03" stroke-opacity="0.27"/><path d="M139.3,827.9 Q189.1,811.1 213.6,764.5" stroke="#e14444" stroke-width="1.03" stroke-opacity="0.27"/><path d="M192.4,854.4 Q176.6,860.1 169.1,875.2" stroke="#5294d7" stroke-width="1.03" stroke-opacity="0.27"/><path d="M192.4,854.4 Q202.0,867.1 217.7,869.7" stroke="#5294d7" stroke-width="1.03" stroke-opacity="0.27"/><path d="M165.8,843.8 Q144.8,864.2 143.7,893.5" stroke="#5294d7" stroke-width="1.03" stroke-opacity="0.27"/><path d="M180.9,756.5 Q127.5,782.9 107.0,838.8" stroke="#e14444" stroke-width="1.04" stroke-opacity="0.27"/><path d="M188.2,789.5 Q166.1,812.2 165.8,843.8" stroke="#5294d7" stroke-width="1.04" stroke-opacity="0.27"/><path d="M217.1,800.0 Q182.7,811.6 165.8,843.8" stroke="#5294d7" stroke-width="1.04" stroke-opacity="0.27"/><path d="M217.5,835.7 Q190.0,829.4 165.8,843.8" stroke="#5294d7" stroke-width="1.04" stroke-opacity="0.27"/><path d="M188.2,789.5 Q145.1,832.6 143.7,893.5" stroke="#5294d7" stroke-width="1.06" stroke-opacity="0.27"/><path d="M244.5,786.7 Q230.7,823.0 245.7,858.9" stroke="#4ebc4e" stroke-width="1.07" stroke-opacity="0.28"/><path d="M244.5,786.7 Q194.8,848.2 201.2,927.0" stroke="#cdcd3a" stroke-width="1.07" stroke-opacity="0.28"/><path d="M188.2,789.5 Q200.5,800.5 217.1,800.0" stroke="#5294d7" stroke-width="1.08" stroke-opacity="0.28"/><path d="M188.2,789.5 Q193.6,818.5 217.5,835.7" stroke="#5294d7" stroke-width="1.08" stroke-opacity="0.28"/><path d="M217.1,800.0 Q210.2,817.9 217.5,835.7" stroke="#ba94ec" stroke-width="1.08" stroke-opacity="0.28"/><path d="M180.9,756.5 Q167.1,807.8 192.4,854.4" stroke="#e14444" stroke-width="1.08" stroke-opacity="0.28"/><path d="M213.6,764.5 Q194.6,817.9 217.7,869.7" stroke="#5294d7" stroke-width="1.08" stroke-opacity="0.28"/><path d="M213.6,764.5 Q169.2,811.0 169.1,875.2" stroke="#5294d7" stroke-width="1.08" stroke-opacity="0.28"/><path d="M126.4,799.4 Q154.7,823.8 192.0,822.0" stroke="#e14444" stroke-width="1.09" stroke-opacity="0.28"/><path d="M192.0,822.0 Q218.0,833.9 245.0,824.5" stroke="#5294d7" stroke-width="1.09" stroke-opacity="0.28"/><path d="M126.4,799.4 Q108.8,815.2 107.0,838.8" stroke="#e14444" stroke-width="1.10" stroke-opacity="0.28"/><path d="M180.9,756.5 Q162.2,764.9 154.5,783.8" stroke="#e14444" stroke-width="1.13" stroke-opacity="0.28"/><path d="M180.9,756.5 Q145.8,783.9 139.3,827.9" stroke="#e14444" stroke-width="1.13" stroke-opacity="0.28"/><path d="M169.1,875.2 Q194.5,882.2 217.7,869.7" stroke="#5294d7" stroke-width="1.13" stroke-opacity="0.28"/><path d="M180.9,756.5 Q195.7,767.0 213.6,764.5" stroke="#e14444" stroke-width="1.14" stroke-opacity="0.28"/><path d="M217.5,835.7 Q227.0,852.9 245.7,858.9" stroke="#4ebc4e" stroke-width="1.14" stroke-opacity="0.28"/><path d="M126.4,799.4 Q148.4,840.1 192.4,854.4" stroke="#e14444" stroke-width="1.15" stroke-opacity="0.28"/><path d="M107.0,838.8 Q186.2,840.2 244.5,786.7" stroke="#e14444" stroke-width="1.15" stroke-opacity="0.28"/><path d="M245.0,824.5 Q212.7,828.9 192.4,854.4" stroke="#5294d7" stroke-width="1.15" stroke-opacity="0.28"/><path d="M192.0,822.0 Q153.5,848.1 143.7,893.5" stroke="#5294d7" stroke-width="1.18" stroke-opacity="0.28"/><path d="M154.5,783.8 Q137.3,786.0 126.4,799.4" stroke="#e14444" stroke-width="1.19" stroke-opacity="0.28"/><path d="M126.4,799.4 Q127.2,816.2 139.3,827.9" stroke="#e14444" stroke-width="1.19" stroke-opacity="0.28"/><path d="M162.0,812.5 Q168.8,839.5 192.4,854.4" stroke="#f5a33a" stroke-width="1.20" stroke-opacity="0.28"/><path d="M244.5,786.7 Q209.3,857.3 232.5,932.7" stroke="#cdcd3a" stroke-width="1.20" stroke-opacity="0.28"/><path d="M244.5,786.7 Q176.7,801.8 138.0,859.4" stroke="#30c2d0" stroke-width="1.20" stroke-opacity="0.28"/><path d="M244.5,786.7 Q229.3,856.3 266.3,917.1" stroke="#4ebc4e" stroke-width="1.20" stroke-opacity="0.28"/><path d="M126.4,799.4 Q177.0,799.4 213.6,764.5" stroke="#e14444" stroke-width="1.21" stroke-opacity="0.28"/><path d="M213.6,764.5 Q217.3,800.8 245.0,824.5" stroke="#5294d7" stroke-width="1.21" stroke-opacity="0.28"/><path d="M192.0,822.0 Q174.5,827.7 165.8,843.8" stroke="#5294d7" stroke-width="1.22" stroke-opacity="0.29"/><path d="M154.5,783.8 Q198.9,803.2 244.5,786.7" stroke="#e14444" stroke-width="1.25" stroke-opacity="0.29"/><path d="M139.3,827.9 Q200.1,828.3 244.5,786.7" stroke="#e14444" stroke-width="1.25" stroke-opacity="0.29"/><path d="M165.8,843.8 Q177.0,854.4 192.4,854.4" stroke="#5294d7" stroke-width="1.25" stroke-opacity="0.29"/><path d="M213.6,764.5 Q229.6,812.3 274.2,835.8" stroke="#4ebc4e" stroke-width="1.26" stroke-opacity="0.29"/><path d="M213.6,764.5 Q237.6,791.7 273.7,794.8" stroke="#4ebc4e" stroke-width="1.26" stroke-opacity="0.29"/><path d="M213.6,764.5 Q220.9,833.3 273.7,878.1" stroke="#4ebc4e" stroke-width="1.26" stroke-opacity="0.29"/><path d="M245.0,824.5 Q222.3,841.6 217.7,869.7" stroke="#5294d7" stroke-width="1.26" stroke-opacity="0.29"/><path d="M245.0,824.5 Q196.9,834.7 169.1,875.2" stroke="#5294d7" stroke-width="1.26" stroke-opacity="0.29"/><path d="M188.2,789.5 Q183.6,806.5 192.0,822.0" stroke="#5294d7" stroke-width="1.26" stroke-opacity="0.29"/><path d="M217.1,800.0 Q200.2,806.0 192.0,822.0" stroke="#ba94ec" stroke-width="1.26" stroke-opacity="0.29"/><path d="M192.0,822.0 Q202.0,834.0 217.5,835.7" stroke="#4ebc4e" stroke-width="1.26" stroke-opacity="0.29"/><path d="M188.2,789.5 Q177.3,822.8 192.4,854.4" stroke="#5294d7" stroke-width="1.28" stroke-opacity="0.29"/><path d="M217.1,800.0 Q193.9,822.3 192.4,854.4" stroke="#ba94ec" stroke-width="1.28" stroke-opacity="0.29"/><path d="M217.5,835.7 Q201.2,840.0 192.4,854.4" stroke="#4ebc4e" stroke-width="1.28" stroke-opacity="0.29"/><path d="M217.5,835.7 Q225.6,886.2 266.3,917.1" stroke="#4ebc4e" stroke-width="1.28" stroke-opacity="0.29"/><path d="M213.6,764.5 Q173.8,794.6 165.8,843.8" stroke="#5294d7" stroke-width="1.31" stroke-opacity="0.29"/><path d="M244.5,786.7 Q214.5,822.8 217.7,869.7" stroke="#5294d7" stroke-width="1.31" stroke-opacity="0.29"/><path d="M244.5,786.7 Q189.1,815.9 169.1,875.2" stroke="#5294d7" stroke-width="1.31" stroke-opacity="0.29"/><path d="M192.4,854.4 Q176.6,860.1 169.1,875.2" stroke="#5294d7" stroke-width="1.31" stroke-opacity="0.29"/><path d="M192.4,854.4 Q202.0,867.1 217.7,869.7" stroke="#5294d7" stroke-width="1.31" stroke-opacity="0.29"/><path d="M180.9,756.5 Q145.1,767.1 126.4,799.4" stroke="#e14444" stroke-width="1.32" stroke-opacity="0.29"/><path d="M213.6,764.5 Q195.9,771.9 188.2,789.5" stroke="#5294d7" stroke-width="1.34" stroke-opacity="0.29"/><path d="M213.6,764.5 Q208.2,783.0 217.1,800.0" stroke="#ba94ec" stroke-width="1.34" stroke-opacity="0.29"/><path d="M165.8,843.8 Q161.2,860.2 169.1,875.2" stroke="#5294d7" stroke-width="1.37" stroke-opacity="0.30"/><path d="M165.8,843.8 Q186.6,867.1 217.7,869.7" stroke="#5294d7" stroke-width="1.37" stroke-opacity="0.30"/><path d="M180.9,756.5 Q206.7,784.3 244.5,786.7" stroke="#e14444" stroke-width="1.38" stroke-opacity="0.30"/><path d="M188.2,789.5 Q161.5,828.5 169.1,875.2" stroke="#5294d7" stroke-width="1.40" stroke-opacity="0.30"/><path d="M188.2,789.5 Q186.9,835.5 217.7,869.7" stroke="#5294d7" stroke-width="1.40" stroke-opacity="0.30"/><path d="M265.5,753.3 Q237.3,748.5 213.6,764.5" stroke="#4ebc4e" stroke-width="1.41" stroke-opacity="0.30"/><path d="M313.9,772.7 Q265.4,748.5 213.6,764.5" stroke="#4ebc4e" stroke-width="1.41" stroke-opacity="0.30"/><path d="M213.6,764.5 Q248.4,808.7 304.0,816.7" stroke="#4ebc4e" stroke-width="1.41" stroke-opacity="0.30"/><path d="M213.6,764.5 Q240.6,828.1 304.0,855.6" stroke="#4ebc4e" stroke-width="1.41" stroke-opacity="0.30"/><path d="M180.9,756.5 Q167.1,807.8 192.4,854.4" stroke="#e14444" stroke-width="1.41" stroke-opacity="0.30"/><path d="M213.6,764.5 Q169.2,811.0 169.1,875.2" stroke="#5294d7" stroke-width="1.41" stroke-opacity="0.30"/><path d="M213.6,764.5 Q194.6,817.9 217.7,869.7" stroke="#5294d7" stroke-width="1.41" stroke-opacity="0.30"/><path d="M192.0,822.0 Q185.7,838.3 192.4,854.4" stroke="#5294d7" stroke-width="1.42" stroke-opacity="0.30"/><path d="M126.4,799.4 Q188.0,816.7 244.5,786.7" stroke="#e14444" stroke-width="1.47" stroke-opacity="0.30"/><path d="M244.5,786.7 Q237.2,805.7 245.0,824.5" stroke="#5294d7" stroke-width="1.47" stroke-opacity="0.30"/><path d="M213.6,764.5 Q191.3,788.9 192.0,822.0" stroke="#5294d7" stroke-width="1.50" stroke-opacity="0.30"/><path d="M180.9,756.5 Q195.7,767.0 213.6,764.5" stroke="#e14444" stroke-width="1.52" stroke-opacity="0.31"/><path d="M245.0,824.5 Q201.5,818.3 165.8,843.8" stroke="#5294d7" stroke-width="1.52" stroke-opacity="0.31"/><path d="M286.6,711.8 Q250.6,740.8 244.5,786.7" stroke="#ba94ec" stroke-width="1.53" stroke-opacity="0.31"/><path d="M126.4,799.4 Q148.4,840.1 192.4,854.4" stroke="#e14444" stroke-width="1.53" stroke-opacity="0.31"/><path d="M245.0,824.5 Q212.7,828.9 192.4,854.4" stroke="#5294d7" stroke-width="1.53" stroke-opacity="0.31"/><path d="M188.2,789.5 Q209.6,818.4 245.0,824.5" stroke="#5294d7" stroke-width="1.56" stroke-opacity="0.31"/><path d="M192.0,822.0 Q195.3,851.0 217.7,869.7" stroke="#5294d7" stroke-width="1.56" stroke-opacity="0.31"/><path d="M192.0,822.0 Q169.9,844.0 169.1,875.2" stroke="#5294d7" stroke-width="1.56" stroke-opacity="0.31"/><path d="M244.5,786.7 Q193.7,799.5 165.8,843.8" stroke="#5294d7" stroke-width="1.59" stroke-opacity="0.31"/><path d="M244.5,786.7 Q221.2,805.8 217.5,835.7" stroke="#4ebc4e" stroke-width="1.63" stroke-opacity="0.31"/><path d="M244.5,786.7 Q215.8,776.8 188.2,789.5" stroke="#5294d7" stroke-width="1.63" stroke-opacity="0.31"/><path d="M126.4,799.4 Q177.0,799.4 213.6,764.5" stroke="#e14444" stroke-width="1.65" stroke-opacity="0.32"/><path d="M213.6,764.5 Q217.3,800.8 245.0,824.5" stroke="#5294d7" stroke-width="1.65" stroke-opacity="0.32"/><path d="M188.2,789.5 Q166.1,812.2 165.8,843.8" stroke="#5294d7" stroke-width="1.69" stroke-opacity="0.32"/><path d="M213.6,764.5 Q210.8,818.1 245.7,858.9" stroke="#4ebc4e" stroke-width="1.71" stroke-opacity="0.32"/><path d="M165.8,843.8 Q177.0,854.4 192.4,854.4" stroke="#5294d7" stroke-width="1.72" stroke-opacity="0.32"/><path d="M192.0,822.0 Q218.0,833.9 245.0,824.5" stroke="#5294d7" stroke-width="1.74" stroke-opacity="0.32"/><path d="M188.2,789.5 Q177.3,822.8 192.4,854.4" stroke="#5294d7" stroke-width="1.78" stroke-opacity="0.32"/><path d="M217.1,800.0 Q193.9,822.3 192.4,854.4" stroke="#ba94ec" stroke-width="1.78" stroke-opacity="0.32"/><path d="M217.5,835.7 Q201.2,840.0 192.4,854.4" stroke="#4ebc4e" stroke-width="1.78" stroke-opacity="0.32"/><path d="M244.5,786.7 Q211.2,793.9 192.0,822.0" stroke="#5294d7" stroke-width="1.82" stroke-opacity="0.33"/><path d="M213.6,764.5 Q173.8,794.6 165.8,843.8" stroke="#5294d7" stroke-width="1.85" stroke-opacity="0.33"/><path d="M244.5,786.7 Q189.1,815.9 169.1,875.2" stroke="#5294d7" stroke-width="1.85" stroke-opacity="0.33"/><path d="M244.5,786.7 Q214.5,822.8 217.7,869.7" stroke="#5294d7" stroke-width="1.85" stroke-opacity="0.33"/><path d="M192.0,822.0 Q174.5,827.7 165.8,843.8" stroke="#5294d7" stroke-width="1.89" stroke-opacity="0.33"/><path d="M213.6,764.5 Q185.0,805.2 192.4,854.4" stroke="#f5a33a" stroke-width="1.91" stroke-opacity="0.33"/><path d="M213.6,764.5 Q209.4,851.3 266.3,917.1" stroke="#4ebc4e" stroke-width="1.91" stroke-opacity="0.33"/><path d="M213.6,764.5 Q195.9,771.9 188.2,789.5" stroke="#5294d7" stroke-width="1.91" stroke-opacity="0.33"/><path d="M213.6,764.5 Q208.2,783.0 217.1,800.0" stroke="#ba94ec" stroke-width="1.91" stroke-opacity="0.33"/><path d="M213.6,764.5 Q201.3,800.9 217.5,835.7" stroke="#4ebc4e" stroke-width="1.91" stroke-opacity="0.33"/><path d="M188.2,789.5 Q183.6,806.5 192.0,822.0" stroke="#5294d7" stroke-width="1.93" stroke-opacity="0.34"/><path d="M180.9,756.5 Q206.7,784.3 244.5,786.7" stroke="#e14444" stroke-width="1.99" stroke-opacity="0.34"/><path d="M192.0,822.0 Q185.7,838.3 192.4,854.4" stroke="#5294d7" stroke-width="2.08" stroke-opacity="0.35"/><path d="M126.4,799.4 Q188.0,816.7 244.5,786.7" stroke="#e14444" stroke-width="2.17" stroke-opacity="0.35"/><path d="M244.5,786.7 Q237.2,805.7 245.0,824.5" stroke="#5294d7" stroke-width="2.17" stroke-opacity="0.35"/><path d="M213.6,764.5 Q191.3,788.9 192.0,822.0" stroke="#5294d7" stroke-width="2.23" stroke-opacity="0.36"/><path d="M244.5,786.7 Q204.9,810.1 192.4,854.4" stroke="#f5a33a" stroke-width="2.32" stroke-opacity="0.36"/><path d="M244.5,786.7 Q193.7,799.5 165.8,843.8" stroke="#5294d7" stroke-width="2.43" stroke-opacity="0.37"/><path d="M213.6,764.5 Q224.6,781.8 244.5,786.7" stroke="#4ebc4e" stroke-width="2.44" stroke-opacity="0.37"/><path d="M244.5,786.7 Q215.8,776.8 188.2,789.5" stroke="#5294d7" stroke-width="2.51" stroke-opacity="0.38"/><path d="M244.5,786.7 Q228.1,787.9 217.1,800.0" stroke="#ba94ec" stroke-width="2.51" stroke-opacity="0.38"/><path d="M244.5,786.7 Q221.2,805.8 217.5,835.7" stroke="#4ebc4e" stroke-width="2.51" stroke-opacity="0.38"/><path d="M213.6,764.5 Q201.3,800.9 217.5,835.7" stroke="#4ebc4e" stroke-width="2.60" stroke-opacity="0.38"/><path d="M244.5,786.7 Q211.2,793.9 192.0,822.0" stroke="#5294d7" stroke-width="2.93" stroke-opacity="0.41"/><path d="M213.6,764.5 Q224.6,781.8 244.5,786.7" stroke="#4ebc4e" stroke-width="3.00" stroke-opacity="0.41"/><path d="M213.6,764.5 Q185.0,805.2 192.4,854.4" stroke="#f5a33a" stroke-width="3.00" stroke-opacity="0.41"/><path d="M244.5,786.7 Q204.9,810.1 192.4,854.4" stroke="#f5a33a" stroke-width="3.00" stroke-opacity="0.41"/><path d="M244.5,786.7 Q228.1,787.9 217.1,800.0" stroke="#ba94ec" stroke-width="3.15" stroke-opacity="0.42"/></g>
<circle cx="233.7" cy="701.2" r="1.2" fill="#cdcd3a"/>
<circle cx="80.5" cy="918.8" r="1.2" fill="#5294d7"/>
<circle cx="74.5" cy="867.0" r="1.3" fill="#cdcd3a"/>
<circle cx="302.8" cy="901.0" r="1.3" fill="#cdcd3a"/>
<circle cx="171.0" cy="709.4" r="1.5" fill="#e14444"/>
<circle cx="67.9" cy="768.4" r="1.5" fill="#e14444"/>
<circle cx="77.7" cy="810.3" r="1.5" fill="#e14444"/>
<circle cx="162.0" cy="812.5" r="1.5" fill="#f5a33a"/>
<circle cx="286.6" cy="711.8" r="1.5" fill="#ba94ec"/>
<circle cx="273.7" cy="794.8" r="1.5" fill="#4ebc4e"/>
<circle cx="274.2" cy="835.8" r="1.5" fill="#4ebc4e"/>
<circle cx="273.7" cy="878.1" r="1.5" fill="#4ebc4e"/>
<circle cx="114.0" cy="882.3" r="1.5" fill="#cdcd3a"/>
<circle cx="196.2" cy="893.8" r="1.5" fill="#cdcd3a"/>
<circle cx="233.3" cy="897.2" r="1.5" fill="#cdcd3a"/>
<circle cx="168.6" cy="912.1" r="1.5" fill="#5294d7"/>
<circle cx="129.4" cy="925.0" r="1.5" fill="#5294d7"/>
<circle cx="166.1" cy="945.1" r="1.5" fill="#5294d7"/>
<circle cx="132.7" cy="721.0" r="1.8" fill="#e14444"/>
<circle cx="97.7" cy="737.7" r="1.8" fill="#e14444"/>
<circle cx="132.0" cy="756.5" r="1.8" fill="#e14444"/>
<circle cx="100.2" cy="777.4" r="1.8" fill="#e14444"/>
<circle cx="265.5" cy="753.3" r="1.8" fill="#4ebc4e"/>
<circle cx="313.9" cy="772.7" r="1.8" fill="#4ebc4e"/>
<circle cx="304.0" cy="816.7" r="1.8" fill="#4ebc4e"/>
<circle cx="304.0" cy="855.6" r="1.8" fill="#4ebc4e"/>
<circle cx="143.7" cy="893.5" r="2.2" fill="#5294d7"/>
<circle cx="245.7" cy="858.9" r="2.5" fill="#4ebc4e"/>
<circle cx="201.2" cy="927.0" r="2.5" fill="#cdcd3a"/>
<circle cx="107.0" cy="838.8" r="2.8" fill="#e14444"/>
<circle cx="138.0" cy="859.4" r="3.0" fill="#30c2d0"/>
<circle cx="266.3" cy="917.1" r="3.0" fill="#4ebc4e"/>
<circle cx="232.5" cy="932.7" r="3.0" fill="#cdcd3a"/>
<circle cx="154.5" cy="783.8" r="3.2" fill="#e14444"/>
<circle cx="139.3" cy="827.9" r="3.2" fill="#e14444"/>
<circle cx="169.1" cy="875.2" r="3.5" fill="#5294d7"/>
<circle cx="217.7" cy="869.7" r="3.5" fill="#5294d7"/>
<circle cx="180.9" cy="756.5" r="3.8" fill="#e14444"/>
<circle cx="126.4" cy="799.4" r="4.2" fill="#e14444"/>
<circle cx="245.0" cy="824.5" r="4.2" fill="#5294d7"/>
<circle cx="165.8" cy="843.8" r="4.8" fill="#5294d7"/>
<circle cx="188.2" cy="789.5" r="5.0" fill="#5294d7"/>
<circle cx="217.1" cy="800.0" r="5.0" fill="#ba94ec"/>
<circle cx="217.5" cy="835.7" r="5.0" fill="#4ebc4e"/>
<circle cx="192.0" cy="822.0" r="6.0" fill="#5294d7"/>
<circle cx="192.4" cy="854.4" r="9.0" fill="#f5a33a"/>
<circle cx="213.6" cy="764.5" r="9.8" fill="#4ebc4e"/>
<circle cx="244.5" cy="786.7" r="13.5" fill="#ba94ec"/>
<text x="171.0" y="711.3" font-size="5.2" text-anchor="middle" class="vl" fill="#222" stroke="#222" stroke-width="0.12" stroke-opacity="0.6" textLength="18.6" lengthAdjust="spacingAndGlyphs">ethiopia</text>
<text x="132.7" y="722.9" font-size="5.2" text-anchor="middle" class="vl" fill="#222" stroke="#222" stroke-width="0.12" stroke-opacity="0.6" textLength="17.5" lengthAdjust="spacingAndGlyphs">estonia</text>
<text x="97.7" y="739.6" font-size="5.2" text-anchor="middle" class="vl" fill="#222" stroke="#222" stroke-width="0.12" stroke-opacity="0.6" textLength="15.0" lengthAdjust="spacingAndGlyphs">cyprus</text>
<text x="132.0" y="758.5" font-size="5.5" text-anchor="middle" class="vl" fill="#222" stroke="#222" stroke-width="0.12" stroke-opacity="0.6" textLength="27.8" lengthAdjust="spacingAndGlyphs">saudi arabia</text>
<text x="180.9" y="758.7" font-size="6.2" text-anchor="middle" class="vl" fill="#222" stroke="#222" stroke-width="0.18" stroke-opacity="0.6" textLength="11.3" lengthAdjust="spacingAndGlyphs">italy</text>
<text x="67.9" y="770.3" font-size="5.3" text-anchor="middle" class="vl" fill="#222" stroke="#222" stroke-width="0.12" stroke-opacity="0.6" textLength="27.8" lengthAdjust="spacingAndGlyphs">north ireland</text>
<text x="100.2" y="779.3" font-size="5.3" text-anchor="middle" class="vl" fill="#222" stroke="#222" stroke-width="0.12" stroke-opacity="0.6" textLength="24.1" lengthAdjust="spacingAndGlyphs">bangladesh</text>
<text x="154.5" y="786.0" font-size="6.2" text-anchor="middle" class="vl" fill="#222" stroke="#222" stroke-width="0.18" stroke-opacity="0.6" textLength="17.4" lengthAdjust="spacingAndGlyphs">finland</text>
<text x="126.4" y="801.8" font-size="6.8" text-anchor="middle" class="vl" fill="#222" stroke="#222" stroke-width="0.18" stroke-opacity="0.6" textLength="25.3" lengthAdjust="spacingAndGlyphs">australia</text>
<text x="77.7" y="812.1" font-size="5.0" text-anchor="middle" class="vl" fill="#222" stroke="#222" stroke-width="0.12" stroke-opacity="0.6" textLength="17.9" lengthAdjust="spacingAndGlyphs">pakistan</text>
<text x="139.3" y="830.2" font-size="6.3" text-anchor="middle" class="vl" fill="#222" stroke="#222" stroke-width="0.18" stroke-opacity="0.6" textLength="17.4" lengthAdjust="spacingAndGlyphs">greece</text>
<text x="107.0" y="840.9" font-size="5.8" text-anchor="middle" class="vl" fill="#222" stroke="#222" stroke-width="0.12" stroke-opacity="0.6" textLength="24.3" lengthAdjust="spacingAndGlyphs">singapore</text>
<text x="162.0" y="814.3" font-size="5.0" text-anchor="middle" class="vl" fill="#222" stroke="#222" stroke-width="0.12" stroke-opacity="0.6" textLength="11.4" lengthAdjust="spacingAndGlyphs">qatar</text>
<text x="233.7" y="703.0" font-size="5.0" text-anchor="middle" class="vl" fill="#222" stroke="#222" stroke-width="0.12" stroke-opacity="0.6" textLength="21.6" lengthAdjust="spacingAndGlyphs">cameroon</text>
<text x="286.6" y="713.6" font-size="5.0" text-anchor="middle" class="vl" fill="#222" stroke="#222" stroke-width="0.12" stroke-opacity="0.6" textLength="19.8" lengthAdjust="spacingAndGlyphs">myanmar</text>
<text x="265.5" y="755.3" font-size="5.5" text-anchor="middle" class="vl" fill="#222" stroke="#222" stroke-width="0.12" stroke-opacity="0.6" textLength="19.1" lengthAdjust="spacingAndGlyphs">hungary</text>
<text x="313.9" y="774.6" font-size="5.2" text-anchor="middle" class="vl" fill="#222" stroke="#222" stroke-width="0.12" stroke-opacity="0.6" textLength="17.4" lengthAdjust="spacingAndGlyphs">slovakia</text>
<text x="213.6" y="767.9" font-size="9.5" text-anchor="middle" class="vl" fill="#222" stroke="#222" stroke-width="0.18" stroke-opacity="0.6" textLength="54.1" lengthAdjust="spacingAndGlyphs">united states</text>
<text x="244.5" y="790.8" font-size="11.4" text-anchor="middle" class="vl" fill="#222" stroke="#222" stroke-width="0.18" stroke-opacity="0.6" textLength="27.3" lengthAdjust="spacingAndGlyphs">china</text>
<text x="188.2" y="792.0" font-size="6.9" text-anchor="middle" class="vl" fill="#222" stroke="#222" stroke-width="0.18" stroke-opacity="0.6" textLength="26.5" lengthAdjust="spacingAndGlyphs">germany</text>
<text x="217.1" y="802.4" font-size="6.8" text-anchor="middle" class="vl" fill="#222" stroke="#222" stroke-width="0.18" stroke-opacity="0.6" textLength="22.8" lengthAdjust="spacingAndGlyphs">canada</text>
<text x="273.7" y="796.7" font-size="5.2" text-anchor="middle" class="vl" fill="#222" stroke="#222" stroke-width="0.12" stroke-opacity="0.6" textLength="12.4" lengthAdjust="spacingAndGlyphs">brazil</text>
<text x="304.0" y="818.6" font-size="5.3" text-anchor="middle" class="vl" fill="#222" stroke="#222" stroke-width="0.12" stroke-opacity="0.6" textLength="32.8" lengthAdjust="spacingAndGlyphs">czech republic</text>
<text x="192.0" y="824.6" font-size="7.3" text-anchor="middle" class="vl" fill="#222" stroke="#222" stroke-width="0.18" stroke-opacity="0.6" textLength="25.3" lengthAdjust="spacingAndGlyphs">sweden</text>
<text x="245.0" y="826.9" font-size="6.8" text-anchor="middle" class="vl" fill="#222" stroke="#222" stroke-width="0.18" stroke-opacity="0.6" textLength="21.9" lengthAdjust="spacingAndGlyphs">norway</text>
<text x="217.5" y="838.2" font-size="7.0" text-anchor="middle" class="vl" fill="#222" stroke="#222" stroke-width="0.18" stroke-opacity="0.6" textLength="20.4" lengthAdjust="spacingAndGlyphs">france</text>
<text x="274.2" y="837.6" font-size="5.0" text-anchor="middle" class="vl" fill="#222" stroke="#222" stroke-width="0.12" stroke-opacity="0.6" textLength="19.1" lengthAdjust="spacingAndGlyphs">romania</text>
<text x="192.4" y="857.5" font-size="8.7" text-anchor="middle" class="vl" fill="#222" stroke="#222" stroke-width="0.18" stroke-opacity="0.6" textLength="31.0" lengthAdjust="spacingAndGlyphs">england</text>
<text x="138.0" y="861.5" font-size="5.8" text-anchor="middle" class="vl" fill="#222" stroke="#222" stroke-width="0.12" stroke-opacity="0.6" textLength="22.3" lengthAdjust="spacingAndGlyphs">scotland</text>
<text x="304.0" y="857.4" font-size="5.0" text-anchor="middle" class="vl" fill="#222" stroke="#222" stroke-width="0.12" stroke-opacity="0.6" textLength="13.7" lengthAdjust="spacingAndGlyphs">russia</text>
<text x="245.7" y="860.9" font-size="5.5" text-anchor="middle" class="vl" fill="#222" stroke="#222" stroke-width="0.12" stroke-opacity="0.6" textLength="16.9" lengthAdjust="spacingAndGlyphs">poland</text>
<text x="74.5" y="868.8" font-size="5.0" text-anchor="middle" class="vl" fill="#222" stroke="#222" stroke-width="0.12" stroke-opacity="0.6" textLength="15.4" lengthAdjust="spacingAndGlyphs">ireland</text>
<text x="169.1" y="877.8" font-size="7.2" text-anchor="middle" class="vl" fill="#222" stroke="#222" stroke-width="0.18" stroke-opacity="0.6" textLength="36.0" lengthAdjust="spacingAndGlyphs">netherlands</text>
<text x="217.7" y="872.0" font-size="6.3" text-anchor="middle" class="vl" fill="#222" stroke="#222" stroke-width="0.18" stroke-opacity="0.6" textLength="16.1" lengthAdjust="spacingAndGlyphs">spain</text>
<text x="273.7" y="879.9" font-size="5.0" text-anchor="middle" class="vl" fill="#222" stroke="#222" stroke-width="0.12" stroke-opacity="0.6" textLength="14.1" lengthAdjust="spacingAndGlyphs">serbia</text>
<text x="114.0" y="884.2" font-size="5.3" text-anchor="middle" class="vl" fill="#222" stroke="#222" stroke-width="0.12" stroke-opacity="0.6" textLength="26.6" lengthAdjust="spacingAndGlyphs">new zealand</text>
<text x="143.7" y="895.5" font-size="5.5" text-anchor="middle" class="vl" fill="#222" stroke="#222" stroke-width="0.12" stroke-opacity="0.6" textLength="18.6" lengthAdjust="spacingAndGlyphs">belgium</text>
<text x="196.2" y="895.7" font-size="5.2" text-anchor="middle" class="vl" fill="#222" stroke="#222" stroke-width="0.12" stroke-opacity="0.6" textLength="13.3" lengthAdjust="spacingAndGlyphs">japan</text>
<text x="233.3" y="899.2" font-size="5.5" text-anchor="middle" class="vl" fill="#222" stroke="#222" stroke-width="0.12" stroke-opacity="0.6" textLength="26.8" lengthAdjust="spacingAndGlyphs">south africa</text>
<text x="302.8" y="902.9" font-size="5.3" text-anchor="middle" class="vl" fill="#222" stroke="#222" stroke-width="0.12" stroke-opacity="0.6" textLength="15.7" lengthAdjust="spacingAndGlyphs">uganda</text>
<text x="168.6" y="914.0" font-size="5.2" text-anchor="middle" class="vl" fill="#222" stroke="#222" stroke-width="0.12" stroke-opacity="0.6" textLength="16.6" lengthAdjust="spacingAndGlyphs">bulgaria</text>
<text x="266.3" y="919.2" font-size="5.8" text-anchor="middle" class="vl" fill="#222" stroke="#222" stroke-width="0.12" stroke-opacity="0.6" textLength="13.6" lengthAdjust="spacingAndGlyphs">israel</text>
<text x="80.5" y="920.6" font-size="5.0" text-anchor="middle" class="vl" fill="#222" stroke="#222" stroke-width="0.12" stroke-opacity="0.6" textLength="9.4" lengthAdjust="spacingAndGlyphs">chile</text>
<text x="129.4" y="926.9" font-size="5.3" text-anchor="middle" class="vl" fill="#222" stroke="#222" stroke-width="0.12" stroke-opacity="0.6" textLength="17.8" lengthAdjust="spacingAndGlyphs">portugal</text>
<text x="201.2" y="929.2" font-size="6.0" text-anchor="middle" class="vl" fill="#222" stroke="#222" stroke-width="0.18" stroke-opacity="0.6" textLength="29.0" lengthAdjust="spacingAndGlyphs">south korea</text>
<text x="232.5" y="934.9" font-size="6.0" text-anchor="middle" class="vl" fill="#222" stroke="#222" stroke-width="0.18" stroke-opacity="0.6" textLength="17.9" lengthAdjust="spacingAndGlyphs">austria</text>
<text x="166.1" y="947.0" font-size="5.2" text-anchor="middle" class="vl" fill="#222" stroke="#222" stroke-width="0.12" stroke-opacity="0.6" textLength="18.6" lengthAdjust="spacingAndGlyphs">malaysia</text>
<rect x="4.8" y="941.2" width="61.8" height="22.6" rx="4" fill="#fff" stroke="#dcdcdc" stroke-width="0.8"/>
<g transform="translate(10,945.8) scale(1.0)"><path d="M4.5,0.5 L7.5,6 L11,10.5 L9,12 L6,9 L3.5,13.5 L0.5,12.5 L2.5,6 Z" fill="#2ec27e"/><path d="M4.5,2 L6.5,6.5 L5,9 L3,8.5 Z" fill="#f2d23c"/><ellipse cx="4.7" cy="4.6" rx="1.2" ry="1.6" fill="#e0403a"/><path d="M7,7 L10.5,10.5 L9,11.5 L6.5,9 Z" fill="#38b6e6"/><path d="M1,11 L3.5,10 L3,13.3 L0.8,12.6 Z" fill="#c8e83c"/></g>
<text x="22.2" y="955.5" font-size="9.4" class="vl" fill="#555" textLength="36.2" lengthAdjust="spacingAndGlyphs">VOSviewer</text>
<text x="326" y="684.7" class="pl">D</text>
<g fill="none"><path d="M497.0,829.8 Q517.8,854.8 549.9,850.1" stroke="#30c2d0" stroke-width="0.40" stroke-opacity="0.22"/><path d="M515.9,840.1 Q530.1,854.6 549.9,850.1" stroke="#30c2d0" stroke-width="0.45" stroke-opacity="0.22"/><path d="M463.5,815.4 Q521.4,880.0 606.7,864.4" stroke="#ba94ec" stroke-width="0.45" stroke-opacity="0.22"/><path d="M517.9,809.4 Q546.9,861.8 606.7,864.4" stroke="#30c2d0" stroke-width="0.45" stroke-opacity="0.22"/><path d="M463.5,815.4 Q400.2,815.5 367.2,869.5" stroke="#ba94ec" stroke-width="0.47" stroke-opacity="0.22"/><path d="M395.0,900.9 Q437.3,913.5 470.2,884.0" stroke="#f5a33a" stroke-width="0.47" stroke-opacity="0.22"/><path d="M571.3,826.7 Q554.0,832.4 549.9,850.1" stroke="#5294d7" stroke-width="0.48" stroke-opacity="0.22"/><path d="M549.9,850.1 Q541.6,865.9 550.7,881.2" stroke="#4ebc4e" stroke-width="0.48" stroke-opacity="0.22"/><path d="M596.7,833.7 Q593.1,851.8 606.7,864.4" stroke="#5294d7" stroke-width="0.48" stroke-opacity="0.22"/><path d="M497.0,829.8 Q513.2,825.5 517.9,809.4" stroke="#30c2d0" stroke-width="0.50" stroke-opacity="0.23"/><path d="M497.0,829.8 Q503.6,840.2 515.9,840.1" stroke="#30c2d0" stroke-width="0.50" stroke-opacity="0.23"/><path d="M496.3,752.1 Q474.9,791.1 497.0,829.8" stroke="#30c2d0" stroke-width="0.51" stroke-opacity="0.23"/><path d="M496.3,752.1 Q515.8,859.6 617.7,899.2" stroke="#cdcd3a" stroke-width="0.51" stroke-opacity="0.23"/><path d="M470.2,884.0 Q543.9,912.4 606.7,864.4" stroke="#f5a33a" stroke-width="0.51" stroke-opacity="0.23"/><path d="M395.0,900.9 Q453.6,907.8 490.1,861.5" stroke="#f5a33a" stroke-width="0.51" stroke-opacity="0.23"/><path d="M523.8,870.9 Q552.0,882.4 576.5,864.3" stroke="#cdcd3a" stroke-width="0.51" stroke-opacity="0.23"/><path d="M523.8,870.9 Q587.9,904.4 650.0,867.2" stroke="#cdcd3a" stroke-width="0.51" stroke-opacity="0.23"/><path d="M546.9,809.1 Q554.2,824.7 571.3,826.7" stroke="#5294d7" stroke-width="0.53" stroke-opacity="0.23"/><path d="M546.9,809.1 Q564.9,835.3 596.7,833.7" stroke="#5294d7" stroke-width="0.53" stroke-opacity="0.23"/><path d="M497.9,927.0 Q545.7,955.1 594.7,929.0" stroke="#4ebc4e" stroke-width="0.53" stroke-opacity="0.23"/><path d="M367.2,869.5 Q414.6,905.6 470.2,884.0" stroke="#f5a33a" stroke-width="0.54" stroke-opacity="0.23"/><path d="M488.5,785.2 Q501.0,834.8 549.9,850.1" stroke="#ba94ec" stroke-width="0.55" stroke-opacity="0.23"/><path d="M549.9,850.1 Q516.8,839.1 490.1,861.5" stroke="#f5a33a" stroke-width="0.55" stroke-opacity="0.23"/><path d="M549.9,850.1 Q525.4,869.5 529.1,900.5" stroke="#4ebc4e" stroke-width="0.55" stroke-opacity="0.23"/><path d="M488.5,785.2 Q525.4,857.9 606.7,864.4" stroke="#ba94ec" stroke-width="0.55" stroke-opacity="0.23"/><path d="M490.1,861.5 Q547.6,895.6 606.7,864.4" stroke="#f5a33a" stroke-width="0.55" stroke-opacity="0.23"/><path d="M606.7,864.4 Q588.7,873.0 586.7,892.8" stroke="#4ebc4e" stroke-width="0.55" stroke-opacity="0.23"/><path d="M517.9,809.4 Q508.3,824.2 515.9,840.1" stroke="#30c2d0" stroke-width="0.56" stroke-opacity="0.23"/><path d="M629.8,837.5 Q631.6,858.0 650.0,867.2" stroke="#cdcd3a" stroke-width="0.56" stroke-opacity="0.23"/><path d="M629.8,837.5 Q595.6,836.0 576.5,864.3" stroke="#cdcd3a" stroke-width="0.56" stroke-opacity="0.23"/><path d="M445.2,733.5 Q446.0,824.2 523.8,870.9" stroke="#ba94ec" stroke-width="0.56" stroke-opacity="0.23"/><path d="M444.7,757.6 Q452.5,836.4 523.8,870.9" stroke="#ba94ec" stroke-width="0.56" stroke-opacity="0.23"/><path d="M497.0,829.8 Q498.9,857.9 523.8,870.9" stroke="#30c2d0" stroke-width="0.56" stroke-opacity="0.23"/><path d="M496.3,752.1 Q491.1,786.8 517.9,809.4" stroke="#30c2d0" stroke-width="0.57" stroke-opacity="0.23"/><path d="M496.3,752.1 Q481.5,801.6 515.9,840.1" stroke="#30c2d0" stroke-width="0.57" stroke-opacity="0.23"/><path d="M496.3,752.1 Q428.2,832.4 461.0,932.4" stroke="#4ebc4e" stroke-width="0.57" stroke-opacity="0.23"/><path d="M367.2,869.5 Q507.5,927.0 629.8,837.5" stroke="#cdcd3a" stroke-width="0.58" stroke-opacity="0.23"/><path d="M367.2,869.5 Q430.9,899.9 490.1,861.5" stroke="#f5a33a" stroke-width="0.58" stroke-opacity="0.23"/><path d="M497.9,927.0 Q511.8,939.4 529.6,934.0" stroke="#4ebc4e" stroke-width="0.59" stroke-opacity="0.23"/><path d="M550.7,881.2 Q491.5,881.7 461.0,932.4" stroke="#4ebc4e" stroke-width="0.59" stroke-opacity="0.23"/><path d="M496.3,752.1 Q526.1,755.2 544.3,731.5" stroke="#5294d7" stroke-width="0.60" stroke-opacity="0.23"/><path d="M496.3,752.1 Q541.4,764.8 575.8,733.0" stroke="#5294d7" stroke-width="0.60" stroke-opacity="0.23"/><path d="M496.3,752.1 Q512.9,810.4 571.3,826.7" stroke="#5294d7" stroke-width="0.60" stroke-opacity="0.23"/><path d="M496.3,752.1 Q448.1,840.0 497.9,927.0" stroke="#4ebc4e" stroke-width="0.60" stroke-opacity="0.23"/><path d="M439.7,717.9 Q445.3,765.2 488.5,785.2" stroke="#ba94ec" stroke-width="0.61" stroke-opacity="0.23"/><path d="M496.8,718.6 Q474.0,749.6 488.5,785.2" stroke="#ba94ec" stroke-width="0.61" stroke-opacity="0.23"/><path d="M388.3,834.5 Q402.2,847.5 420.6,842.5" stroke="#e14444" stroke-width="0.61" stroke-opacity="0.23"/><path d="M595.7,757.6 Q556.9,769.7 546.9,809.1" stroke="#5294d7" stroke-width="0.61" stroke-opacity="0.23"/><path d="M629.8,837.5 Q606.5,865.0 617.7,899.2" stroke="#cdcd3a" stroke-width="0.61" stroke-opacity="0.23"/><path d="M586.7,892.8 Q580.6,913.1 594.7,929.0" stroke="#4ebc4e" stroke-width="0.61" stroke-opacity="0.23"/><path d="M529.1,900.5 Q553.9,933.1 594.7,929.0" stroke="#4ebc4e" stroke-width="0.61" stroke-opacity="0.23"/><path d="M594.7,929.0 Q575.3,929.6 565.6,946.4" stroke="#4ebc4e" stroke-width="0.61" stroke-opacity="0.23"/><path d="M576.5,864.3 Q555.6,883.2 560.7,910.9" stroke="#cdcd3a" stroke-width="0.62" stroke-opacity="0.24"/><path d="M650.0,867.2 Q593.1,864.0 560.7,910.9" stroke="#cdcd3a" stroke-width="0.62" stroke-opacity="0.24"/><path d="M463.5,815.4 Q478.1,860.0 523.8,870.9" stroke="#ba94ec" stroke-width="0.63" stroke-opacity="0.24"/><path d="M517.9,809.4 Q503.6,841.8 523.8,870.9" stroke="#30c2d0" stroke-width="0.63" stroke-opacity="0.24"/><path d="M515.9,840.1 Q511.2,857.7 523.8,870.9" stroke="#30c2d0" stroke-width="0.63" stroke-opacity="0.24"/><path d="M496.9,894.7 Q468.4,903.5 461.0,932.4" stroke="#4ebc4e" stroke-width="0.63" stroke-opacity="0.24"/><path d="M496.9,894.7 Q502.2,923.5 529.6,934.0" stroke="#4ebc4e" stroke-width="0.63" stroke-opacity="0.24"/><path d="M544.3,731.5 Q559.6,741.1 575.8,733.0" stroke="#5294d7" stroke-width="0.63" stroke-opacity="0.24"/><path d="M571.3,826.7 Q582.0,837.3 596.7,833.7" stroke="#5294d7" stroke-width="0.63" stroke-opacity="0.24"/><path d="M496.3,752.1 Q445.8,761.6 427.5,809.7" stroke="#e14444" stroke-width="0.64" stroke-opacity="0.24"/><path d="M496.3,752.1 Q446.3,810.7 470.2,884.0" stroke="#f5a33a" stroke-width="0.64" stroke-opacity="0.24"/><path d="M367.2,869.5 Q452.4,944.4 560.7,910.9" stroke="#cdcd3a" stroke-width="0.65" stroke-opacity="0.24"/><path d="M450.9,846.4 Q429.9,851.3 423.1,871.8" stroke="#e14444" stroke-width="0.65" stroke-opacity="0.24"/><path d="M544.3,731.5 Q495.0,795.5 523.8,870.9" stroke="#5294d7" stroke-width="0.67" stroke-opacity="0.24"/><path d="M575.8,733.0 Q511.2,787.4 523.8,870.9" stroke="#5294d7" stroke-width="0.67" stroke-opacity="0.24"/><path d="M571.3,826.7 Q535.2,835.5 523.8,870.9" stroke="#5294d7" stroke-width="0.67" stroke-opacity="0.24"/><path d="M596.7,833.7 Q549.8,831.9 523.8,870.9" stroke="#5294d7" stroke-width="0.67" stroke-opacity="0.24"/><path d="M579.5,791.8 Q548.4,812.7 549.9,850.1" stroke="#5294d7" stroke-width="0.67" stroke-opacity="0.24"/><path d="M575.8,733.0 Q576.2,781.6 617.8,806.6" stroke="#5294d7" stroke-width="0.67" stroke-opacity="0.24"/><path d="M544.3,731.5 Q560.0,789.6 617.8,806.6" stroke="#5294d7" stroke-width="0.67" stroke-opacity="0.24"/><path d="M617.8,806.6 Q588.9,803.6 571.3,826.7" stroke="#5294d7" stroke-width="0.67" stroke-opacity="0.24"/><path d="M550.7,881.2 Q520.0,872.9 496.9,894.7" stroke="#4ebc4e" stroke-width="0.67" stroke-opacity="0.24"/><path d="M579.5,791.8 Q572.8,835.7 606.7,864.4" stroke="#5294d7" stroke-width="0.68" stroke-opacity="0.24"/><path d="M488.5,785.2 Q467.5,793.3 463.5,815.4" stroke="#ba94ec" stroke-width="0.68" stroke-opacity="0.24"/><path d="M617.7,899.2 Q585.9,889.1 560.7,910.9" stroke="#cdcd3a" stroke-width="0.68" stroke-opacity="0.24"/><path d="M529.1,900.5 Q520.0,917.4 529.6,934.0" stroke="#4ebc4e" stroke-width="0.68" stroke-opacity="0.24"/><path d="M586.7,892.8 Q546.6,897.4 529.6,934.0" stroke="#4ebc4e" stroke-width="0.68" stroke-opacity="0.24"/><path d="M529.6,934.0 Q544.1,950.3 565.6,946.4" stroke="#4ebc4e" stroke-width="0.68" stroke-opacity="0.24"/><path d="M565.6,946.4 Q517.2,910.1 461.0,932.4" stroke="#4ebc4e" stroke-width="0.68" stroke-opacity="0.24"/><path d="M496.3,752.1 Q544.5,782.7 595.7,757.6" stroke="#5294d7" stroke-width="0.69" stroke-opacity="0.24"/><path d="M496.3,752.1 Q539.1,832.2 629.8,837.5" stroke="#cdcd3a" stroke-width="0.69" stroke-opacity="0.24"/><path d="M496.3,752.1 Q462.6,805.1 490.1,861.5" stroke="#f5a33a" stroke-width="0.69" stroke-opacity="0.24"/><path d="M496.3,752.1 Q502.1,847.8 586.7,892.8" stroke="#4ebc4e" stroke-width="0.69" stroke-opacity="0.24"/><path d="M617.8,806.6 Q552.8,812.4 523.8,870.9" stroke="#5294d7" stroke-width="0.71" stroke-opacity="0.24"/><path d="M470.2,884.0 Q500.7,892.5 523.8,870.9" stroke="#f5a33a" stroke-width="0.71" stroke-opacity="0.24"/><path d="M544.3,731.5 Q562.7,758.9 595.7,757.6" stroke="#5294d7" stroke-width="0.72" stroke-opacity="0.25"/><path d="M575.8,733.0 Q578.9,750.9 595.7,757.6" stroke="#5294d7" stroke-width="0.72" stroke-opacity="0.25"/><path d="M595.7,757.6 Q574.9,795.9 596.7,833.7" stroke="#5294d7" stroke-width="0.72" stroke-opacity="0.25"/><path d="M550.7,881.2 Q534.5,884.8 529.1,900.5" stroke="#4ebc4e" stroke-width="0.72" stroke-opacity="0.25"/><path d="M550.7,881.2 Q565.5,897.1 586.7,892.8" stroke="#4ebc4e" stroke-width="0.72" stroke-opacity="0.25"/><path d="M550.7,881.2 Q539.9,918.0 565.6,946.4" stroke="#4ebc4e" stroke-width="0.72" stroke-opacity="0.25"/><path d="M586.7,892.8 Q532.7,885.0 497.9,927.0" stroke="#4ebc4e" stroke-width="0.72" stroke-opacity="0.25"/><path d="M529.1,900.5 Q506.1,905.0 497.9,927.0" stroke="#4ebc4e" stroke-width="0.72" stroke-opacity="0.25"/><path d="M497.9,927.0 Q526.3,955.7 565.6,946.4" stroke="#4ebc4e" stroke-width="0.72" stroke-opacity="0.25"/><path d="M579.5,791.8 Q558.4,791.3 546.9,809.1" stroke="#5294d7" stroke-width="0.75" stroke-opacity="0.25"/><path d="M557.2,767.5 Q540.4,785.4 546.9,809.1" stroke="#5294d7" stroke-width="0.75" stroke-opacity="0.25"/><path d="M488.5,785.2 Q482.2,837.9 523.8,870.9" stroke="#ba94ec" stroke-width="0.76" stroke-opacity="0.25"/><path d="M595.7,757.6 Q528.0,794.1 523.8,870.9" stroke="#5294d7" stroke-width="0.76" stroke-opacity="0.25"/><path d="M629.8,837.5 Q567.4,824.5 523.8,870.9" stroke="#cdcd3a" stroke-width="0.76" stroke-opacity="0.25"/><path d="M490.1,861.5 Q504.3,875.6 523.8,870.9" stroke="#f5a33a" stroke-width="0.76" stroke-opacity="0.25"/><path d="M595.7,757.6 Q593.0,788.3 617.8,806.6" stroke="#5294d7" stroke-width="0.77" stroke-opacity="0.25"/><path d="M427.5,809.7 Q401.0,811.1 388.3,834.5" stroke="#e14444" stroke-width="0.77" stroke-opacity="0.25"/><path d="M388.3,834.5 Q373.7,829.1 361.5,838.8" stroke="#e14444" stroke-width="0.77" stroke-opacity="0.25"/><path d="M490.1,861.5 Q473.8,867.2 470.2,884.0" stroke="#f5a33a" stroke-width="0.77" stroke-opacity="0.25"/><path d="M496.9,894.7 Q511.4,906.6 529.1,900.5" stroke="#4ebc4e" stroke-width="0.77" stroke-opacity="0.25"/><path d="M496.9,894.7 Q516.8,939.8 565.6,946.4" stroke="#4ebc4e" stroke-width="0.77" stroke-opacity="0.25"/><path d="M496.9,894.7 Q542.3,918.9 586.7,892.8" stroke="#4ebc4e" stroke-width="0.77" stroke-opacity="0.25"/><path d="M496.3,752.1 Q484.0,849.5 560.7,910.9" stroke="#cdcd3a" stroke-width="0.77" stroke-opacity="0.25"/><path d="M395.0,900.9 Q486.7,918.9 549.9,850.1" stroke="#e14444" stroke-width="0.78" stroke-opacity="0.25"/><path d="M395.0,900.9 Q511.1,941.9 606.7,864.4" stroke="#e14444" stroke-width="0.79" stroke-opacity="0.25"/><path d="M379.1,781.9 Q353.7,845.9 395.0,900.9" stroke="#e14444" stroke-width="0.80" stroke-opacity="0.25"/><path d="M396.5,866.0 Q386.0,883.0 395.0,900.9" stroke="#e14444" stroke-width="0.80" stroke-opacity="0.25"/><path d="M423.1,871.8 Q400.9,878.5 395.0,900.9" stroke="#e14444" stroke-width="0.80" stroke-opacity="0.25"/><path d="M395.0,900.9 Q370.1,899.6 356.0,920.2" stroke="#e14444" stroke-width="0.80" stroke-opacity="0.25"/><path d="M496.3,752.1 Q447.2,786.5 450.9,846.4" stroke="#e14444" stroke-width="0.80" stroke-opacity="0.25"/><path d="M393.3,801.0 Q381.4,816.4 388.3,834.5" stroke="#e14444" stroke-width="0.83" stroke-opacity="0.25"/><path d="M586.7,892.8 Q561.1,913.7 565.6,946.4" stroke="#4ebc4e" stroke-width="0.83" stroke-opacity="0.25"/><path d="M586.7,892.8 Q555.7,880.5 529.1,900.5" stroke="#4ebc4e" stroke-width="0.83" stroke-opacity="0.25"/><path d="M529.1,900.5 Q534.5,933.7 565.6,946.4" stroke="#4ebc4e" stroke-width="0.83" stroke-opacity="0.25"/><path d="M496.3,752.1 Q522.4,776.9 557.2,767.5" stroke="#5294d7" stroke-width="0.85" stroke-opacity="0.26"/><path d="M496.3,752.1 Q526.8,795.2 579.5,791.8" stroke="#5294d7" stroke-width="0.85" stroke-opacity="0.26"/><path d="M549.9,850.1 Q559.2,864.6 576.5,864.3" stroke="#cdcd3a" stroke-width="0.85" stroke-opacity="0.26"/><path d="M549.9,850.1 Q595.2,886.7 650.0,867.2" stroke="#cdcd3a" stroke-width="0.85" stroke-opacity="0.26"/><path d="M523.8,870.9 Q531.0,901.2 560.7,910.9" stroke="#cdcd3a" stroke-width="0.85" stroke-opacity="0.26"/><path d="M606.7,864.4 Q591.6,855.9 576.5,864.3" stroke="#cdcd3a" stroke-width="0.86" stroke-opacity="0.26"/><path d="M606.7,864.4 Q627.6,877.9 650.0,867.2" stroke="#cdcd3a" stroke-width="0.86" stroke-opacity="0.26"/><path d="M420.6,842.5 Q391.4,864.5 395.0,900.9" stroke="#e14444" stroke-width="0.87" stroke-opacity="0.26"/><path d="M395.0,900.9 Q375.1,913.4 375.4,936.9" stroke="#e14444" stroke-width="0.87" stroke-opacity="0.26"/><path d="M367.2,869.5 Q464.0,911.0 549.9,850.1" stroke="#cdcd3a" stroke-width="0.88" stroke-opacity="0.26"/><path d="M450.9,846.4 Q480.5,879.1 523.8,870.9" stroke="#e14444" stroke-width="0.88" stroke-opacity="0.26"/><path d="M544.3,731.5 Q545.0,771.5 579.5,791.8" stroke="#5294d7" stroke-width="0.89" stroke-opacity="0.26"/><path d="M544.3,731.5 Q540.7,753.1 557.2,767.5" stroke="#5294d7" stroke-width="0.89" stroke-opacity="0.26"/><path d="M575.8,733.0 Q561.2,763.4 579.5,791.8" stroke="#5294d7" stroke-width="0.89" stroke-opacity="0.26"/><path d="M575.8,733.0 Q556.8,745.0 557.2,767.5" stroke="#5294d7" stroke-width="0.89" stroke-opacity="0.26"/><path d="M557.2,767.5 Q558.4,811.7 596.7,833.7" stroke="#5294d7" stroke-width="0.89" stroke-opacity="0.26"/><path d="M579.5,791.8 Q565.6,807.0 571.3,826.7" stroke="#5294d7" stroke-width="0.89" stroke-opacity="0.26"/><path d="M579.5,791.8 Q576.4,817.6 596.7,833.7" stroke="#5294d7" stroke-width="0.89" stroke-opacity="0.26"/><path d="M557.2,767.5 Q547.7,801.0 571.3,826.7" stroke="#5294d7" stroke-width="0.89" stroke-opacity="0.26"/><path d="M367.2,869.5 Q488.4,934.0 606.7,864.4" stroke="#cdcd3a" stroke-width="0.89" stroke-opacity="0.26"/><path d="M427.5,809.7 Q428.9,834.6 450.9,846.4" stroke="#e14444" stroke-width="0.89" stroke-opacity="0.26"/><path d="M361.5,838.8 Q404.1,867.6 450.9,846.4" stroke="#e14444" stroke-width="0.89" stroke-opacity="0.26"/><path d="M379.1,781.9 Q348.6,822.4 367.2,869.5" stroke="#e14444" stroke-width="0.90" stroke-opacity="0.26"/><path d="M367.2,869.5 Q382.8,876.0 396.5,866.0" stroke="#e14444" stroke-width="0.90" stroke-opacity="0.26"/><path d="M367.2,869.5 Q394.5,886.3 423.1,871.8" stroke="#e14444" stroke-width="0.90" stroke-opacity="0.26"/><path d="M367.2,869.5 Q347.4,891.7 356.0,920.2" stroke="#e14444" stroke-width="0.90" stroke-opacity="0.26"/><path d="M629.8,837.5 Q574.7,854.9 560.7,910.9" stroke="#cdcd3a" stroke-width="0.92" stroke-opacity="0.26"/><path d="M549.9,850.1 Q570.1,893.6 617.7,899.2" stroke="#cdcd3a" stroke-width="0.92" stroke-opacity="0.26"/><path d="M557.2,767.5 Q511.5,809.8 523.8,870.9" stroke="#5294d7" stroke-width="0.93" stroke-opacity="0.26"/><path d="M579.5,791.8 Q529.5,815.8 523.8,870.9" stroke="#5294d7" stroke-width="0.93" stroke-opacity="0.26"/><path d="M606.7,864.4 Q602.5,884.9 617.7,899.2" stroke="#cdcd3a" stroke-width="0.93" stroke-opacity="0.26"/><path d="M557.2,767.5 Q576.6,804.0 617.8,806.6" stroke="#5294d7" stroke-width="0.94" stroke-opacity="0.26"/><path d="M579.5,791.8 Q594.5,809.9 617.8,806.6" stroke="#5294d7" stroke-width="0.94" stroke-opacity="0.26"/><path d="M393.3,801.0 Q409.4,839.8 450.9,846.4" stroke="#e14444" stroke-width="0.96" stroke-opacity="0.27"/><path d="M388.3,834.5 Q416.3,858.0 450.9,846.4" stroke="#e14444" stroke-width="0.96" stroke-opacity="0.27"/><path d="M420.6,842.5 Q386.3,841.0 367.2,869.5" stroke="#e14444" stroke-width="0.98" stroke-opacity="0.27"/><path d="M367.2,869.5 Q352.4,905.5 375.4,936.9" stroke="#e14444" stroke-width="0.98" stroke-opacity="0.27"/><path d="M496.3,752.1 Q404.0,798.1 395.0,900.9" stroke="#e14444" stroke-width="0.98" stroke-opacity="0.27"/><path d="M595.7,757.6 Q573.7,751.8 557.2,767.5" stroke="#5294d7" stroke-width="1.01" stroke-opacity="0.27"/><path d="M595.7,757.6 Q578.0,770.2 579.5,791.8" stroke="#5294d7" stroke-width="1.01" stroke-opacity="0.27"/><path d="M496.3,752.1 Q495.7,816.1 549.9,850.1" stroke="#cdcd3a" stroke-width="1.05" stroke-opacity="0.27"/><path d="M496.3,752.1 Q520.1,839.2 606.7,864.4" stroke="#cdcd3a" stroke-width="1.06" stroke-opacity="0.28"/><path d="M395.0,900.9 Q467.8,922.0 523.8,870.9" stroke="#e14444" stroke-width="1.08" stroke-opacity="0.28"/><path d="M427.5,809.7 Q385.7,846.2 395.0,900.9" stroke="#e14444" stroke-width="1.09" stroke-opacity="0.28"/><path d="M361.5,838.8 Q360.9,879.2 395.0,900.9" stroke="#e14444" stroke-width="1.09" stroke-opacity="0.28"/><path d="M496.3,752.1 Q398.9,774.7 367.2,869.5" stroke="#e14444" stroke-width="1.11" stroke-opacity="0.28"/><path d="M549.9,850.1 Q531.0,853.2 523.8,870.9" stroke="#cdcd3a" stroke-width="1.15" stroke-opacity="0.28"/><path d="M523.8,870.9 Q567.1,890.9 606.7,864.4" stroke="#cdcd3a" stroke-width="1.17" stroke-opacity="0.29"/><path d="M439.7,717.9 Q458.4,750.8 496.3,752.1" stroke="#ba94ec" stroke-width="1.17" stroke-opacity="0.29"/><path d="M496.8,718.6 Q487.2,735.2 496.3,752.1" stroke="#ba94ec" stroke-width="1.17" stroke-opacity="0.29"/><path d="M445.2,733.5 Q465.5,757.1 496.3,752.1" stroke="#ba94ec" stroke-width="1.17" stroke-opacity="0.29"/><path d="M496.3,752.1 Q469.0,740.4 444.7,757.6" stroke="#ba94ec" stroke-width="1.17" stroke-opacity="0.29"/><path d="M393.3,801.0 Q366.2,851.4 395.0,900.9" stroke="#e14444" stroke-width="1.18" stroke-opacity="0.29"/><path d="M388.3,834.5 Q373.1,869.6 395.0,900.9" stroke="#e14444" stroke-width="1.18" stroke-opacity="0.29"/><path d="M367.2,869.5 Q445.1,914.0 523.8,870.9" stroke="#e14444" stroke-width="1.22" stroke-opacity="0.29"/><path d="M427.5,809.7 Q380.6,822.7 367.2,869.5" stroke="#e14444" stroke-width="1.23" stroke-opacity="0.29"/><path d="M361.5,838.8 Q355.8,855.7 367.2,869.5" stroke="#e14444" stroke-width="1.23" stroke-opacity="0.29"/><path d="M557.2,767.5 Q561.5,785.9 579.5,791.8" stroke="#5294d7" stroke-width="1.24" stroke-opacity="0.29"/><path d="M629.8,837.5 Q586.3,821.4 549.9,850.1" stroke="#cdcd3a" stroke-width="1.25" stroke-opacity="0.29"/><path d="M629.8,837.5 Q610.7,844.5 606.7,864.4" stroke="#cdcd3a" stroke-width="1.27" stroke-opacity="0.29"/><path d="M523.8,870.9 Q543.0,919.8 594.7,929.0" stroke="#4ebc4e" stroke-width="1.29" stroke-opacity="0.30"/><path d="M496.3,752.1 Q462.2,774.6 463.5,815.4" stroke="#ba94ec" stroke-width="1.30" stroke-opacity="0.30"/><path d="M393.3,801.0 Q361.1,827.9 367.2,869.5" stroke="#e14444" stroke-width="1.33" stroke-opacity="0.30"/><path d="M388.3,834.5 Q367.9,846.1 367.2,869.5" stroke="#e14444" stroke-width="1.33" stroke-opacity="0.30"/><path d="M450.9,846.4 Q407.7,858.0 395.0,900.9" stroke="#e14444" stroke-width="1.37" stroke-opacity="0.30"/><path d="M549.9,850.1 Q538.3,883.5 560.7,910.9" stroke="#cdcd3a" stroke-width="1.40" stroke-opacity="0.31"/><path d="M606.7,864.4 Q570.7,874.8 560.7,910.9" stroke="#cdcd3a" stroke-width="1.42" stroke-opacity="0.31"/><path d="M523.8,870.9 Q509.0,904.1 529.6,934.0" stroke="#4ebc4e" stroke-width="1.44" stroke-opacity="0.31"/><path d="M523.8,870.9 Q475.2,884.1 461.0,932.4" stroke="#4ebc4e" stroke-width="1.44" stroke-opacity="0.31"/><path d="M496.3,752.1 Q476.8,819.2 523.8,870.9" stroke="#ba94ec" stroke-width="1.46" stroke-opacity="0.31"/><path d="M523.8,870.9 Q495.1,891.7 497.9,927.0" stroke="#4ebc4e" stroke-width="1.53" stroke-opacity="0.32"/><path d="M523.8,870.9 Q534.4,883.6 550.7,881.2" stroke="#4ebc4e" stroke-width="1.53" stroke-opacity="0.32"/><path d="M450.9,846.4 Q402.6,834.5 367.2,869.5" stroke="#e14444" stroke-width="1.54" stroke-opacity="0.32"/><path d="M496.3,752.1 Q483.1,766.5 488.5,785.2" stroke="#ba94ec" stroke-width="1.59" stroke-opacity="0.32"/><path d="M523.8,870.9 Q503.7,875.3 496.9,894.7" stroke="#4ebc4e" stroke-width="1.62" stroke-opacity="0.33"/><path d="M523.8,870.9 Q518.2,887.2 529.1,900.5" stroke="#4ebc4e" stroke-width="1.75" stroke-opacity="0.34"/><path d="M523.8,870.9 Q523.6,920.4 565.6,946.4" stroke="#4ebc4e" stroke-width="1.75" stroke-opacity="0.34"/><path d="M523.8,870.9 Q549.1,899.5 586.7,892.8" stroke="#4ebc4e" stroke-width="1.75" stroke-opacity="0.34"/><path d="M367.2,869.5 Q372.3,893.0 395.0,900.9" stroke="#e14444" stroke-width="1.89" stroke-opacity="0.35"/><path d="M549.9,850.1 Q574.3,873.2 606.7,864.4" stroke="#cdcd3a" stroke-width="1.92" stroke-opacity="0.35"/></g>
<circle cx="379.1" cy="781.9" r="1.3" fill="#e14444"/>
<circle cx="396.5" cy="866.0" r="1.3" fill="#e14444"/>
<circle cx="423.1" cy="871.8" r="1.3" fill="#e14444"/>
<circle cx="356.0" cy="920.2" r="1.3" fill="#e14444"/>
<circle cx="576.5" cy="864.3" r="1.3" fill="#cdcd3a"/>
<circle cx="650.0" cy="867.2" r="1.3" fill="#cdcd3a"/>
<circle cx="439.7" cy="717.9" r="1.5" fill="#ba94ec"/>
<circle cx="496.8" cy="718.6" r="1.5" fill="#ba94ec"/>
<circle cx="445.2" cy="733.5" r="1.5" fill="#ba94ec"/>
<circle cx="444.7" cy="757.6" r="1.5" fill="#ba94ec"/>
<circle cx="420.6" cy="842.5" r="1.5" fill="#e14444"/>
<circle cx="375.4" cy="936.9" r="1.5" fill="#e14444"/>
<circle cx="497.0" cy="829.8" r="1.5" fill="#30c2d0"/>
<circle cx="546.9" cy="809.1" r="1.5" fill="#5294d7"/>
<circle cx="617.7" cy="899.2" r="1.5" fill="#cdcd3a"/>
<circle cx="594.7" cy="929.0" r="1.5" fill="#4ebc4e"/>
<circle cx="463.5" cy="815.4" r="1.8" fill="#ba94ec"/>
<circle cx="517.9" cy="809.4" r="1.8" fill="#30c2d0"/>
<circle cx="515.9" cy="840.1" r="1.8" fill="#30c2d0"/>
<circle cx="529.6" cy="934.0" r="1.8" fill="#4ebc4e"/>
<circle cx="461.0" cy="932.4" r="1.8" fill="#4ebc4e"/>
<circle cx="544.3" cy="731.5" r="2.0" fill="#5294d7"/>
<circle cx="575.8" cy="733.0" r="2.0" fill="#5294d7"/>
<circle cx="571.3" cy="826.7" r="2.0" fill="#5294d7"/>
<circle cx="596.7" cy="833.7" r="2.0" fill="#5294d7"/>
<circle cx="550.7" cy="881.2" r="2.0" fill="#4ebc4e"/>
<circle cx="497.9" cy="927.0" r="2.0" fill="#4ebc4e"/>
<circle cx="427.5" cy="809.7" r="2.2" fill="#e14444"/>
<circle cx="361.5" cy="838.8" r="2.2" fill="#e14444"/>
<circle cx="617.8" cy="806.6" r="2.2" fill="#5294d7"/>
<circle cx="470.2" cy="884.0" r="2.2" fill="#f5a33a"/>
<circle cx="496.9" cy="894.7" r="2.2" fill="#4ebc4e"/>
<circle cx="488.5" cy="785.2" r="2.5" fill="#ba94ec"/>
<circle cx="595.7" cy="757.6" r="2.5" fill="#5294d7"/>
<circle cx="393.3" cy="801.0" r="2.5" fill="#e14444"/>
<circle cx="388.3" cy="834.5" r="2.5" fill="#e14444"/>
<circle cx="629.8" cy="837.5" r="2.5" fill="#cdcd3a"/>
<circle cx="490.1" cy="861.5" r="2.5" fill="#f5a33a"/>
<circle cx="586.7" cy="892.8" r="2.5" fill="#4ebc4e"/>
<circle cx="529.1" cy="900.5" r="2.5" fill="#4ebc4e"/>
<circle cx="565.6" cy="946.4" r="2.5" fill="#4ebc4e"/>
<circle cx="560.7" cy="910.9" r="3.0" fill="#cdcd3a"/>
<circle cx="450.9" cy="846.4" r="3.2" fill="#e14444"/>
<circle cx="557.2" cy="767.5" r="3.5" fill="#5294d7"/>
<circle cx="579.5" cy="791.8" r="3.5" fill="#5294d7"/>
<circle cx="395.0" cy="900.9" r="4.5" fill="#e14444"/>
<circle cx="549.9" cy="850.1" r="5.0" fill="#cdcd3a"/>
<circle cx="606.7" cy="864.4" r="5.1" fill="#cdcd3a"/>
<circle cx="367.2" cy="869.5" r="5.5" fill="#e14444"/>
<circle cx="496.3" cy="752.1" r="7.4" fill="#ba94ec"/>
<circle cx="523.8" cy="870.9" r="8.7" fill="#4ebc4e"/>
<text x="439.7" y="719.3" font-size="4.0" text-anchor="middle" class="vl" fill="#333" stroke="#333" stroke-width="0.12" stroke-opacity="0.6" textLength="45.9" lengthAdjust="spacingAndGlyphs">shanghai univ tradit chinese m</text>
<text x="496.8" y="720.0" font-size="4.0" text-anchor="middle" class="vl" fill="#333" stroke="#333" stroke-width="0.12" stroke-opacity="0.6" textLength="22.1" lengthAdjust="spacingAndGlyphs">shandong univ</text>
<text x="445.2" y="734.9" font-size="4.0" text-anchor="middle" class="vl" fill="#333" stroke="#333" stroke-width="0.12" stroke-opacity="0.6" textLength="25.3" lengthAdjust="spacingAndGlyphs">fujian med univ</text>
<text x="496.3" y="754.6" font-size="7.0" text-anchor="middle" class="vl" fill="#333" stroke="#333" stroke-width="0.18" stroke-opacity="0.6" textLength="47.9" lengthAdjust="spacingAndGlyphs">nanjing med univ</text>
<text x="444.7" y="759.0" font-size="4.0" text-anchor="middle" class="vl" fill="#333" stroke="#333" stroke-width="0.12" stroke-opacity="0.6" textLength="41.7" lengthAdjust="spacingAndGlyphs">huazhong univ sci &amp; technol</text>
<text x="488.5" y="787.0" font-size="5.0" text-anchor="middle" class="vl" fill="#333" stroke="#333" stroke-width="0.12" stroke-opacity="0.6" textLength="37.0" lengthAdjust="spacingAndGlyphs">chinese acad med sci</text>
<text x="463.5" y="816.9" font-size="4.2" text-anchor="middle" class="vl" fill="#333" stroke="#333" stroke-width="0.12" stroke-opacity="0.6" textLength="26.5" lengthAdjust="spacingAndGlyphs">chinese acad sci</text>
<text x="544.3" y="733.0" font-size="4.3" text-anchor="middle" class="vl" fill="#333" stroke="#333" stroke-width="0.12" stroke-opacity="0.6" textLength="20.3" lengthAdjust="spacingAndGlyphs">harvard univ</text>
<text x="575.8" y="734.5" font-size="4.3" text-anchor="middle" class="vl" fill="#333" stroke="#333" stroke-width="0.12" stroke-opacity="0.6" textLength="39.7" lengthAdjust="spacingAndGlyphs">massachusetts gen hosp</text>
<text x="595.7" y="759.3" font-size="4.8" text-anchor="middle" class="vl" fill="#333" stroke="#333" stroke-width="0.12" stroke-opacity="0.6" textLength="44.0" lengthAdjust="spacingAndGlyphs">brigham &amp; womens hosp</text>
<text x="557.2" y="769.4" font-size="5.2" text-anchor="middle" class="vl" fill="#333" stroke="#333" stroke-width="0.12" stroke-opacity="0.6" textLength="32.3" lengthAdjust="spacingAndGlyphs">harvard med sch</text>
<text x="579.5" y="793.6" font-size="5.0" text-anchor="middle" class="vl" fill="#333" stroke="#333" stroke-width="0.12" stroke-opacity="0.6" textLength="55.9" lengthAdjust="spacingAndGlyphs">harvard t.h. chan sch publ hlth</text>
<text x="379.1" y="783.3" font-size="4.0" text-anchor="middle" class="vl" fill="#333" stroke="#333" stroke-width="0.12" stroke-opacity="0.6" textLength="31.5" lengthAdjust="spacingAndGlyphs">chongqing med univ</text>
<text x="393.3" y="802.7" font-size="4.6" text-anchor="middle" class="vl" fill="#333" stroke="#333" stroke-width="0.12" stroke-opacity="0.6" textLength="21.9" lengthAdjust="spacingAndGlyphs">sichuan univ</text>
<text x="427.5" y="811.4" font-size="4.6" text-anchor="middle" class="vl" fill="#333" stroke="#333" stroke-width="0.12" stroke-opacity="0.6" textLength="34.3" lengthAdjust="spacingAndGlyphs">wenzhou med univ</text>
<text x="388.3" y="836.2" font-size="4.8" text-anchor="middle" class="vl" fill="#333" stroke="#333" stroke-width="0.12" stroke-opacity="0.6" textLength="34.7" lengthAdjust="spacingAndGlyphs">southern med univ</text>
<text x="450.9" y="848.3" font-size="5.3" text-anchor="middle" class="vl" fill="#333" stroke="#333" stroke-width="0.12" stroke-opacity="0.6" textLength="25.5" lengthAdjust="spacingAndGlyphs">zhejiang univ</text>
<text x="367.2" y="872.0" font-size="7.0" text-anchor="middle" class="vl" fill="#333" stroke="#333" stroke-width="0.18" stroke-opacity="0.6" textLength="55.1" lengthAdjust="spacingAndGlyphs">guangzhou med univ</text>
<text x="423.1" y="873.2" font-size="4.0" text-anchor="middle" class="vl" fill="#333" stroke="#333" stroke-width="0.12" stroke-opacity="0.6" textLength="40.4" lengthAdjust="spacingAndGlyphs">china japan friendship hosp</text>
<text x="395.0" y="903.2" font-size="6.4" text-anchor="middle" class="vl" fill="#333" stroke="#333" stroke-width="0.18" stroke-opacity="0.6" textLength="36.0" lengthAdjust="spacingAndGlyphs">sun yat sen univ</text>
<text x="356.0" y="921.6" font-size="3.8" text-anchor="middle" class="vl" fill="#333" stroke="#333" stroke-width="0.12" stroke-opacity="0.6" textLength="43.4" lengthAdjust="spacingAndGlyphs">state key lab oncol south china</text>
<text x="375.4" y="938.3" font-size="3.8" text-anchor="middle" class="vl" fill="#333" stroke="#333" stroke-width="0.12" stroke-opacity="0.6" textLength="44.7" lengthAdjust="spacingAndGlyphs">collaborat innovat ctr canc med</text>
<text x="497.0" y="831.2" font-size="4.0" text-anchor="middle" class="vl" fill="#333" stroke="#333" stroke-width="0.12" stroke-opacity="0.6" textLength="23.6" lengthAdjust="spacingAndGlyphs">univ hong kong</text>
<text x="517.9" y="810.9" font-size="4.2" text-anchor="middle" class="vl" fill="#333" stroke="#333" stroke-width="0.12" stroke-opacity="0.6" textLength="24.4" lengthAdjust="spacingAndGlyphs">cent south univ</text>
<text x="515.9" y="841.6" font-size="4.3" text-anchor="middle" class="vl" fill="#333" stroke="#333" stroke-width="0.12" stroke-opacity="0.6" textLength="36.0" lengthAdjust="spacingAndGlyphs">shanghai jiao tong univ</text>
<text x="546.9" y="810.5" font-size="4.0" text-anchor="middle" class="vl" fill="#333" stroke="#333" stroke-width="0.12" stroke-opacity="0.6" textLength="21.1" lengthAdjust="spacingAndGlyphs">dartmouth coll</text>
<text x="617.8" y="808.1" font-size="4.3" text-anchor="middle" class="vl" fill="#333" stroke="#333" stroke-width="0.12" stroke-opacity="0.6" textLength="29.2" lengthAdjust="spacingAndGlyphs">univ southern calif</text>
<text x="571.3" y="828.2" font-size="4.2" text-anchor="middle" class="vl" fill="#333" stroke="#333" stroke-width="0.12" stroke-opacity="0.6" textLength="44.0" lengthAdjust="spacingAndGlyphs">fred hutchinson canc res ctr</text>
<text x="596.7" y="835.2" font-size="4.2" text-anchor="middle" class="vl" fill="#333" stroke="#333" stroke-width="0.12" stroke-opacity="0.6" textLength="23.6" lengthAdjust="spacingAndGlyphs">vanderbilt univ</text>
<text x="629.8" y="839.3" font-size="5.0" text-anchor="middle" class="vl" fill="#333" stroke="#333" stroke-width="0.12" stroke-opacity="0.6" textLength="40.9" lengthAdjust="spacingAndGlyphs">icahn sch med mt sinai</text>
<text x="549.9" y="852.3" font-size="6.2" text-anchor="middle" class="vl" fill="#333" stroke="#333" stroke-width="0.18" stroke-opacity="0.6" textLength="28.0" lengthAdjust="spacingAndGlyphs">karolinska inst</text>
<text x="490.1" y="863.2" font-size="4.6" text-anchor="middle" class="vl" fill="#333" stroke="#333" stroke-width="0.12" stroke-opacity="0.6" textLength="29.7" lengthAdjust="spacingAndGlyphs">univ copenhagen</text>
<text x="470.2" y="885.7" font-size="4.8" text-anchor="middle" class="vl" fill="#333" stroke="#333" stroke-width="0.12" stroke-opacity="0.6" textLength="39.7" lengthAdjust="spacingAndGlyphs">copenhagen univ hosp</text>
<text x="523.8" y="874.3" font-size="9.5" text-anchor="middle" class="vl" fill="#333" stroke="#333" stroke-width="0.18" stroke-opacity="0.6" textLength="38.5" lengthAdjust="spacingAndGlyphs">univ bristol</text>
<text x="606.7" y="866.8" font-size="6.8" text-anchor="middle" class="vl" fill="#333" stroke="#333" stroke-width="0.18" stroke-opacity="0.6" textLength="34.4" lengthAdjust="spacingAndGlyphs">univ cambridge</text>
<text x="576.5" y="865.7" font-size="4.0" text-anchor="middle" class="vl" fill="#333" stroke="#333" stroke-width="0.12" stroke-opacity="0.6" textLength="14.8" lengthAdjust="spacingAndGlyphs">univ oslo</text>
<text x="650.0" y="868.6" font-size="4.0" text-anchor="middle" class="vl" fill="#333" stroke="#333" stroke-width="0.12" stroke-opacity="0.6" textLength="40.8" lengthAdjust="spacingAndGlyphs">qimr berghofer med res inst</text>
<text x="550.7" y="882.7" font-size="4.3" text-anchor="middle" class="vl" fill="#333" stroke="#333" stroke-width="0.12" stroke-opacity="0.6" textLength="18.4" lengthAdjust="spacingAndGlyphs">univ oxford</text>
<text x="496.9" y="896.3" font-size="4.5" text-anchor="middle" class="vl" fill="#333" stroke="#333" stroke-width="0.12" stroke-opacity="0.6" textLength="24.3" lengthAdjust="spacingAndGlyphs">univ edinburgh</text>
<text x="529.1" y="902.2" font-size="4.8" text-anchor="middle" class="vl" fill="#333" stroke="#333" stroke-width="0.12" stroke-opacity="0.6" textLength="35.5" lengthAdjust="spacingAndGlyphs">imperial coll london</text>
<text x="617.7" y="900.7" font-size="4.3" text-anchor="middle" class="vl" fill="#333" stroke="#333" stroke-width="0.12" stroke-opacity="0.6" textLength="37.2" lengthAdjust="spacingAndGlyphs">int agcy res canc who</text>
<text x="560.7" y="912.7" font-size="5.0" text-anchor="middle" class="vl" fill="#333" stroke="#333" stroke-width="0.12" stroke-opacity="0.6" textLength="23.8" lengthAdjust="spacingAndGlyphs">uppsala univ</text>
<text x="497.9" y="928.5" font-size="4.3" text-anchor="middle" class="vl" fill="#333" stroke="#333" stroke-width="0.12" stroke-opacity="0.6" textLength="26.0" lengthAdjust="spacingAndGlyphs">int agcy res canc</text>
<text x="529.6" y="935.5" font-size="4.3" text-anchor="middle" class="vl" fill="#333" stroke="#333" stroke-width="0.12" stroke-opacity="0.6" textLength="21.6" lengthAdjust="spacingAndGlyphs">sinai health syst</text>
<text x="594.7" y="930.5" font-size="4.3" text-anchor="middle" class="vl" fill="#333" stroke="#333" stroke-width="0.12" stroke-opacity="0.6" textLength="22.9" lengthAdjust="spacingAndGlyphs">baylor coll med</text>
<text x="565.6" y="948.0" font-size="4.5" text-anchor="middle" class="vl" fill="#333" stroke="#333" stroke-width="0.12" stroke-opacity="0.6" textLength="22.3" lengthAdjust="spacingAndGlyphs">univ toronto</text>
<text x="461.0" y="933.9" font-size="4.2" text-anchor="middle" class="vl" fill="#333" stroke="#333" stroke-width="0.12" stroke-opacity="0.6" textLength="41.6" lengthAdjust="spacingAndGlyphs">norwegian univ sci &amp; technol</text>
<rect x="330.8" y="949.6" width="39.2" height="14.6" rx="3" fill="#fff" stroke="#dcdcdc" stroke-width="0.7"/>
<g transform="translate(333.8,952.5) scale(0.62)"><path d="M4.5,0.5 L7.5,6 L11,10.5 L9,12 L6,9 L3.5,13.5 L0.5,12.5 L2.5,6 Z" fill="#2ec27e"/><path d="M4.5,2 L6.5,6.5 L5,9 L3,8.5 Z" fill="#f2d23c"/><ellipse cx="4.7" cy="4.6" rx="1.2" ry="1.6" fill="#e0403a"/><path d="M7,7 L10.5,10.5 L9,11.5 L6.5,9 Z" fill="#38b6e6"/><path d="M1,11 L3.5,10 L3,13.3 L0.8,12.6 Z" fill="#c8e83c"/></g>
<text x="342" y="959" font-size="6.3" class="vl" fill="#555" textLength="24.5" lengthAdjust="spacingAndGlyphs">VOSviewer</text>
</svg>
</body></html>
